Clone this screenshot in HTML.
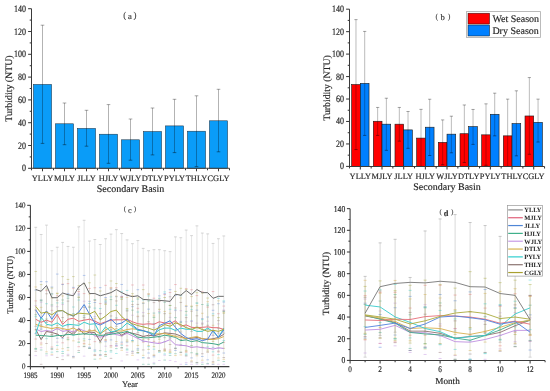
<!DOCTYPE html>
<html><head><meta charset="utf-8"><style>
html,body{margin:0;padding:0;background:#fff;width:550px;height:391px;overflow:hidden}
svg{display:block;font-family:"Liberation Serif", serif;filter:blur(0.3px)}
text{stroke:#2e2e2e;stroke-width:0.16px;text-rendering:geometricPrecision}
</style></head><body>
<svg width="550" height="391" viewBox="0 0 550 391" font-family='"Liberation Serif", serif'>
<rect width="550" height="391" fill="#fff"/>
<rect x="33.4" y="84.4" width="18.2" height="83.9" fill="#0a9cf8" stroke="#1e2a36" stroke-width="0.5"/>
<rect x="55.4" y="123.8" width="18.2" height="44.5" fill="#0a9cf8" stroke="#1e2a36" stroke-width="0.5"/>
<rect x="77.4" y="128.4" width="18.2" height="39.9" fill="#0a9cf8" stroke="#1e2a36" stroke-width="0.5"/>
<rect x="99.4" y="134.2" width="18.2" height="34.1" fill="#0a9cf8" stroke="#1e2a36" stroke-width="0.5"/>
<rect x="121.4" y="139.8" width="18.2" height="28.5" fill="#0a9cf8" stroke="#1e2a36" stroke-width="0.5"/>
<rect x="143.4" y="131.5" width="18.2" height="36.8" fill="#0a9cf8" stroke="#1e2a36" stroke-width="0.5"/>
<rect x="165.4" y="125.9" width="18.2" height="42.4" fill="#0a9cf8" stroke="#1e2a36" stroke-width="0.5"/>
<rect x="187.4" y="131.2" width="18.2" height="37.1" fill="#0a9cf8" stroke="#1e2a36" stroke-width="0.5"/>
<rect x="209.4" y="120.8" width="18.2" height="47.5" fill="#0a9cf8" stroke="#1e2a36" stroke-width="0.5"/>
<line x1="42.5" y1="25.2" x2="42.5" y2="143.4" stroke="#000" stroke-width="0.6" stroke-opacity="0.5"/>
<line x1="40.7" y1="25.2" x2="44.3" y2="25.2" stroke="#000" stroke-width="0.7" stroke-opacity="0.5"/>
<line x1="40.7" y1="143.4" x2="44.3" y2="143.4" stroke="#000" stroke-width="0.7" stroke-opacity="0.6"/>
<line x1="64.5" y1="103" x2="64.5" y2="144.7" stroke="#000" stroke-width="0.6" stroke-opacity="0.5"/>
<line x1="62.7" y1="103" x2="66.3" y2="103" stroke="#000" stroke-width="0.7" stroke-opacity="0.5"/>
<line x1="62.7" y1="144.7" x2="66.3" y2="144.7" stroke="#000" stroke-width="0.7" stroke-opacity="0.6"/>
<line x1="86.5" y1="110.3" x2="86.5" y2="146.2" stroke="#000" stroke-width="0.6" stroke-opacity="0.5"/>
<line x1="84.7" y1="110.3" x2="88.3" y2="110.3" stroke="#000" stroke-width="0.7" stroke-opacity="0.5"/>
<line x1="84.7" y1="146.2" x2="88.3" y2="146.2" stroke="#000" stroke-width="0.7" stroke-opacity="0.6"/>
<line x1="108.5" y1="104.6" x2="108.5" y2="163.3" stroke="#000" stroke-width="0.6" stroke-opacity="0.5"/>
<line x1="106.7" y1="104.6" x2="110.3" y2="104.6" stroke="#000" stroke-width="0.7" stroke-opacity="0.5"/>
<line x1="106.7" y1="163.3" x2="110.3" y2="163.3" stroke="#000" stroke-width="0.7" stroke-opacity="0.6"/>
<line x1="130.5" y1="119" x2="130.5" y2="160.2" stroke="#000" stroke-width="0.6" stroke-opacity="0.5"/>
<line x1="128.7" y1="119" x2="132.3" y2="119" stroke="#000" stroke-width="0.7" stroke-opacity="0.5"/>
<line x1="128.7" y1="160.2" x2="132.3" y2="160.2" stroke="#000" stroke-width="0.7" stroke-opacity="0.6"/>
<line x1="152.5" y1="108" x2="152.5" y2="154.9" stroke="#000" stroke-width="0.6" stroke-opacity="0.5"/>
<line x1="150.7" y1="108" x2="154.3" y2="108" stroke="#000" stroke-width="0.7" stroke-opacity="0.5"/>
<line x1="150.7" y1="154.9" x2="154.3" y2="154.9" stroke="#000" stroke-width="0.7" stroke-opacity="0.6"/>
<line x1="174.5" y1="99.3" x2="174.5" y2="152.6" stroke="#000" stroke-width="0.6" stroke-opacity="0.5"/>
<line x1="172.7" y1="99.3" x2="176.3" y2="99.3" stroke="#000" stroke-width="0.7" stroke-opacity="0.5"/>
<line x1="172.7" y1="152.6" x2="176.3" y2="152.6" stroke="#000" stroke-width="0.7" stroke-opacity="0.6"/>
<line x1="196.5" y1="95.8" x2="196.5" y2="166.6" stroke="#000" stroke-width="0.6" stroke-opacity="0.5"/>
<line x1="194.7" y1="95.8" x2="198.3" y2="95.8" stroke="#000" stroke-width="0.7" stroke-opacity="0.5"/>
<line x1="194.7" y1="166.6" x2="198.3" y2="166.6" stroke="#000" stroke-width="0.7" stroke-opacity="0.6"/>
<line x1="218.5" y1="89.3" x2="218.5" y2="151.8" stroke="#000" stroke-width="0.6" stroke-opacity="0.5"/>
<line x1="216.7" y1="89.3" x2="220.3" y2="89.3" stroke="#000" stroke-width="0.7" stroke-opacity="0.5"/>
<line x1="216.7" y1="151.8" x2="220.3" y2="151.8" stroke="#000" stroke-width="0.7" stroke-opacity="0.6"/>
<line x1="31.5" y1="168.8" x2="31.5" y2="8.7" stroke="#3a3a3a" stroke-width="1.05" />
<line x1="28.1" y1="168.3" x2="31.5" y2="168.3" stroke="#3a3a3a" stroke-width="1.05" />
<text transform="translate(25.9,171.3) scale(1,1.22)" font-size="8" text-anchor="end" fill="#222">0</text>
<line x1="29.7" y1="156.9" x2="31.5" y2="156.9" stroke="#3a3a3a" stroke-width="1.05" />
<line x1="28.1" y1="145.5" x2="31.5" y2="145.5" stroke="#3a3a3a" stroke-width="1.05" />
<text transform="translate(25.9,148.5) scale(1,1.22)" font-size="8" text-anchor="end" fill="#222">20</text>
<line x1="29.7" y1="134.1" x2="31.5" y2="134.1" stroke="#3a3a3a" stroke-width="1.05" />
<line x1="28.1" y1="122.7" x2="31.5" y2="122.7" stroke="#3a3a3a" stroke-width="1.05" />
<text transform="translate(25.9,125.7) scale(1,1.22)" font-size="8" text-anchor="end" fill="#222">40</text>
<line x1="29.7" y1="111.3" x2="31.5" y2="111.3" stroke="#3a3a3a" stroke-width="1.05" />
<line x1="28.1" y1="99.9" x2="31.5" y2="99.9" stroke="#3a3a3a" stroke-width="1.05" />
<text transform="translate(25.9,102.9) scale(1,1.22)" font-size="8" text-anchor="end" fill="#222">60</text>
<line x1="29.7" y1="88.5" x2="31.5" y2="88.5" stroke="#3a3a3a" stroke-width="1.05" />
<line x1="28.1" y1="77.1" x2="31.5" y2="77.1" stroke="#3a3a3a" stroke-width="1.05" />
<text transform="translate(25.9,80.1) scale(1,1.22)" font-size="8" text-anchor="end" fill="#222">80</text>
<line x1="29.7" y1="65.7" x2="31.5" y2="65.7" stroke="#3a3a3a" stroke-width="1.05" />
<line x1="28.1" y1="54.3" x2="31.5" y2="54.3" stroke="#3a3a3a" stroke-width="1.05" />
<text transform="translate(25.9,57.3) scale(1,1.22)" font-size="8" text-anchor="end" fill="#222">100</text>
<line x1="29.7" y1="42.9" x2="31.5" y2="42.9" stroke="#3a3a3a" stroke-width="1.05" />
<line x1="28.1" y1="31.5" x2="31.5" y2="31.5" stroke="#3a3a3a" stroke-width="1.05" />
<text transform="translate(25.9,34.5) scale(1,1.22)" font-size="8" text-anchor="end" fill="#222">120</text>
<line x1="29.7" y1="20.1" x2="31.5" y2="20.1" stroke="#3a3a3a" stroke-width="1.05" />
<line x1="28.1" y1="8.7" x2="31.5" y2="8.7" stroke="#3a3a3a" stroke-width="1.05" />
<text transform="translate(25.9,11.7) scale(1,1.22)" font-size="8" text-anchor="end" fill="#222">140</text>
<line x1="31" y1="168.3" x2="229.5" y2="168.3" stroke="#3a3a3a" stroke-width="1.05" />
<line x1="31.5" y1="168.3" x2="31.5" y2="170.3" stroke="#3a3a3a" stroke-width="1.05" />
<line x1="53.5" y1="168.3" x2="53.5" y2="170.3" stroke="#3a3a3a" stroke-width="1.05" />
<line x1="75.5" y1="168.3" x2="75.5" y2="170.3" stroke="#3a3a3a" stroke-width="1.05" />
<line x1="97.5" y1="168.3" x2="97.5" y2="170.3" stroke="#3a3a3a" stroke-width="1.05" />
<line x1="119.5" y1="168.3" x2="119.5" y2="170.3" stroke="#3a3a3a" stroke-width="1.05" />
<line x1="141.5" y1="168.3" x2="141.5" y2="170.3" stroke="#3a3a3a" stroke-width="1.05" />
<line x1="163.5" y1="168.3" x2="163.5" y2="170.3" stroke="#3a3a3a" stroke-width="1.05" />
<line x1="185.5" y1="168.3" x2="185.5" y2="170.3" stroke="#3a3a3a" stroke-width="1.05" />
<line x1="207.5" y1="168.3" x2="207.5" y2="170.3" stroke="#3a3a3a" stroke-width="1.05" />
<line x1="229.5" y1="168.3" x2="229.5" y2="170.3" stroke="#3a3a3a" stroke-width="1.05" />
<line x1="42.5" y1="168.3" x2="42.5" y2="171.3" stroke="#3a3a3a" stroke-width="1.05" />
<text x="42.5" y="180.6" font-size="8.4" text-anchor="middle" fill="#222" >YLLY</text>
<line x1="64.5" y1="168.3" x2="64.5" y2="171.3" stroke="#3a3a3a" stroke-width="1.05" />
<text x="64.5" y="180.6" font-size="8.4" text-anchor="middle" fill="#222" >MJLY</text>
<line x1="86.5" y1="168.3" x2="86.5" y2="171.3" stroke="#3a3a3a" stroke-width="1.05" />
<text x="86.5" y="180.6" font-size="8.4" text-anchor="middle" fill="#222" >JLLY</text>
<line x1="108.5" y1="168.3" x2="108.5" y2="171.3" stroke="#3a3a3a" stroke-width="1.05" />
<text x="108.5" y="180.6" font-size="8.4" text-anchor="middle" fill="#222" >HJLY</text>
<line x1="130.5" y1="168.3" x2="130.5" y2="171.3" stroke="#3a3a3a" stroke-width="1.05" />
<text x="130.5" y="180.6" font-size="8.4" text-anchor="middle" fill="#222" >WJLY</text>
<line x1="152.5" y1="168.3" x2="152.5" y2="171.3" stroke="#3a3a3a" stroke-width="1.05" />
<text x="152.5" y="180.6" font-size="8.4" text-anchor="middle" fill="#222" >DTLY</text>
<line x1="174.5" y1="168.3" x2="174.5" y2="171.3" stroke="#3a3a3a" stroke-width="1.05" />
<text x="174.5" y="180.6" font-size="8.4" text-anchor="middle" fill="#222" >PYLY</text>
<line x1="196.5" y1="168.3" x2="196.5" y2="171.3" stroke="#3a3a3a" stroke-width="1.05" />
<text x="196.5" y="180.6" font-size="8.4" text-anchor="middle" fill="#222" >THLY</text>
<line x1="218.5" y1="168.3" x2="218.5" y2="171.3" stroke="#3a3a3a" stroke-width="1.05" />
<text x="218.5" y="180.6" font-size="8.4" text-anchor="middle" fill="#222" >CGLY</text>
<text x="130.5" y="192.4" font-size="10" text-anchor="middle" fill="#222" >Secondary Basin</text>
<text transform="translate(11.9,88.5) rotate(-90)" font-size="9.9" text-anchor="middle" fill="#222">Turbidity (NTU)</text>
<text x="123.24" y="17.56" font-size="8.92" text-anchor="start" fill="#444" style="stroke-width:0.1px">(</text>
<text x="136.46" y="17.56" font-size="8.92" text-anchor="end" fill="#444" style="stroke-width:0.1px">)</text>
<text x="129.9" y="18.7" font-size="8.6" text-anchor="middle" fill="#333">a</text>
<rect x="0" y="192.9" width="275" height="3" fill="#fff"/>
<rect x="351.63" y="84.53" width="8.7" height="81.87" fill="#ff0000" stroke="#1a1a1a" stroke-width="0.6"/>
<rect x="360.33" y="83.41" width="8.7" height="82.99" fill="#0080ff" stroke="#1a1a1a" stroke-width="0.6"/>
<rect x="373.31" y="121.26" width="8.7" height="45.14" fill="#ff0000" stroke="#1a1a1a" stroke-width="0.6"/>
<rect x="382" y="124.18" width="8.7" height="42.22" fill="#0080ff" stroke="#1a1a1a" stroke-width="0.6"/>
<rect x="394.98" y="124.18" width="8.7" height="42.22" fill="#ff0000" stroke="#1a1a1a" stroke-width="0.6"/>
<rect x="403.68" y="129.9" width="8.7" height="36.5" fill="#0080ff" stroke="#1a1a1a" stroke-width="0.6"/>
<rect x="416.65" y="138.1" width="8.7" height="28.3" fill="#ff0000" stroke="#1a1a1a" stroke-width="0.6"/>
<rect x="425.35" y="127.21" width="8.7" height="39.19" fill="#0080ff" stroke="#1a1a1a" stroke-width="0.6"/>
<rect x="438.31" y="142.37" width="8.7" height="24.03" fill="#ff0000" stroke="#1a1a1a" stroke-width="0.6"/>
<rect x="447.01" y="134.17" width="8.7" height="32.23" fill="#0080ff" stroke="#1a1a1a" stroke-width="0.6"/>
<rect x="459.99" y="133.72" width="8.7" height="32.68" fill="#ff0000" stroke="#1a1a1a" stroke-width="0.6"/>
<rect x="468.69" y="126.65" width="8.7" height="39.75" fill="#0080ff" stroke="#1a1a1a" stroke-width="0.6"/>
<rect x="481.66" y="134.84" width="8.7" height="31.56" fill="#ff0000" stroke="#1a1a1a" stroke-width="0.6"/>
<rect x="490.36" y="114.29" width="8.7" height="52.11" fill="#0080ff" stroke="#1a1a1a" stroke-width="0.6"/>
<rect x="503.32" y="135.85" width="8.7" height="30.55" fill="#ff0000" stroke="#1a1a1a" stroke-width="0.6"/>
<rect x="512.02" y="123.61" width="8.7" height="42.79" fill="#0080ff" stroke="#1a1a1a" stroke-width="0.6"/>
<rect x="525" y="115.98" width="8.7" height="50.42" fill="#ff0000" stroke="#1a1a1a" stroke-width="0.6"/>
<rect x="533.7" y="122.38" width="8.7" height="44.02" fill="#0080ff" stroke="#1a1a1a" stroke-width="0.6"/>
<line x1="355.98" y1="19.62" x2="355.98" y2="149.56" stroke="#000" stroke-width="0.6" stroke-opacity="0.45"/>
<line x1="354.38" y1="19.62" x2="357.58" y2="19.62" stroke="#000" stroke-width="0.7" stroke-opacity="0.5"/>
<line x1="354.38" y1="149.56" x2="357.58" y2="149.56" stroke="#000" stroke-width="0.7" stroke-opacity="0.6"/>
<line x1="364.69" y1="31.42" x2="364.69" y2="135.41" stroke="#000" stroke-width="0.6" stroke-opacity="0.45"/>
<line x1="363.08" y1="31.42" x2="366.29" y2="31.42" stroke="#000" stroke-width="0.7" stroke-opacity="0.5"/>
<line x1="363.08" y1="135.41" x2="366.29" y2="135.41" stroke="#000" stroke-width="0.7" stroke-opacity="0.6"/>
<line x1="377.65" y1="107.44" x2="377.65" y2="135.41" stroke="#000" stroke-width="0.6" stroke-opacity="0.45"/>
<line x1="376.05" y1="107.44" x2="379.25" y2="107.44" stroke="#000" stroke-width="0.7" stroke-opacity="0.5"/>
<line x1="376.05" y1="135.41" x2="379.25" y2="135.41" stroke="#000" stroke-width="0.7" stroke-opacity="0.6"/>
<line x1="386.36" y1="98.23" x2="386.36" y2="150.34" stroke="#000" stroke-width="0.6" stroke-opacity="0.45"/>
<line x1="384.75" y1="98.23" x2="387.96" y2="98.23" stroke="#000" stroke-width="0.7" stroke-opacity="0.5"/>
<line x1="384.75" y1="150.34" x2="387.96" y2="150.34" stroke="#000" stroke-width="0.7" stroke-opacity="0.6"/>
<line x1="399.32" y1="107.44" x2="399.32" y2="141.13" stroke="#000" stroke-width="0.6" stroke-opacity="0.45"/>
<line x1="397.72" y1="107.44" x2="400.93" y2="107.44" stroke="#000" stroke-width="0.7" stroke-opacity="0.5"/>
<line x1="397.72" y1="141.13" x2="400.93" y2="141.13" stroke="#000" stroke-width="0.7" stroke-opacity="0.6"/>
<line x1="408.03" y1="111.49" x2="408.03" y2="148.32" stroke="#000" stroke-width="0.6" stroke-opacity="0.45"/>
<line x1="406.43" y1="111.49" x2="409.63" y2="111.49" stroke="#000" stroke-width="0.7" stroke-opacity="0.5"/>
<line x1="406.43" y1="148.32" x2="409.63" y2="148.32" stroke="#000" stroke-width="0.7" stroke-opacity="0.6"/>
<line x1="421" y1="109.35" x2="421" y2="166.4" stroke="#000" stroke-width="0.6" stroke-opacity="0.45"/>
<line x1="419.39" y1="109.35" x2="422.6" y2="109.35" stroke="#000" stroke-width="0.7" stroke-opacity="0.5"/>
<line x1="419.39" y1="166.4" x2="422.6" y2="166.4" stroke="#000" stroke-width="0.7" stroke-opacity="0.6"/>
<line x1="429.7" y1="99.24" x2="429.7" y2="155.51" stroke="#000" stroke-width="0.6" stroke-opacity="0.45"/>
<line x1="428.1" y1="99.24" x2="431.3" y2="99.24" stroke="#000" stroke-width="0.7" stroke-opacity="0.5"/>
<line x1="428.1" y1="155.51" x2="431.3" y2="155.51" stroke="#000" stroke-width="0.7" stroke-opacity="0.6"/>
<line x1="442.66" y1="119.91" x2="442.66" y2="164.72" stroke="#000" stroke-width="0.6" stroke-opacity="0.45"/>
<line x1="441.06" y1="119.91" x2="444.26" y2="119.91" stroke="#000" stroke-width="0.7" stroke-opacity="0.5"/>
<line x1="441.06" y1="164.72" x2="444.26" y2="164.72" stroke="#000" stroke-width="0.7" stroke-opacity="0.6"/>
<line x1="451.37" y1="116.2" x2="451.37" y2="152.81" stroke="#000" stroke-width="0.6" stroke-opacity="0.45"/>
<line x1="449.76" y1="116.2" x2="452.97" y2="116.2" stroke="#000" stroke-width="0.7" stroke-opacity="0.5"/>
<line x1="449.76" y1="152.81" x2="452.97" y2="152.81" stroke="#000" stroke-width="0.7" stroke-opacity="0.6"/>
<line x1="464.33" y1="104.97" x2="464.33" y2="162.47" stroke="#000" stroke-width="0.6" stroke-opacity="0.45"/>
<line x1="462.73" y1="104.97" x2="465.94" y2="104.97" stroke="#000" stroke-width="0.7" stroke-opacity="0.5"/>
<line x1="462.73" y1="162.47" x2="465.94" y2="162.47" stroke="#000" stroke-width="0.7" stroke-opacity="0.6"/>
<line x1="473.04" y1="109.46" x2="473.04" y2="144.39" stroke="#000" stroke-width="0.6" stroke-opacity="0.45"/>
<line x1="471.44" y1="109.46" x2="474.64" y2="109.46" stroke="#000" stroke-width="0.7" stroke-opacity="0.5"/>
<line x1="471.44" y1="144.39" x2="474.64" y2="144.39" stroke="#000" stroke-width="0.7" stroke-opacity="0.6"/>
<line x1="486" y1="103.85" x2="486" y2="165.28" stroke="#000" stroke-width="0.6" stroke-opacity="0.45"/>
<line x1="484.4" y1="103.85" x2="487.61" y2="103.85" stroke="#000" stroke-width="0.7" stroke-opacity="0.5"/>
<line x1="484.4" y1="165.28" x2="487.61" y2="165.28" stroke="#000" stroke-width="0.7" stroke-opacity="0.6"/>
<line x1="494.71" y1="93.18" x2="494.71" y2="135.85" stroke="#000" stroke-width="0.6" stroke-opacity="0.45"/>
<line x1="493.11" y1="93.18" x2="496.31" y2="93.18" stroke="#000" stroke-width="0.7" stroke-opacity="0.5"/>
<line x1="493.11" y1="135.85" x2="496.31" y2="135.85" stroke="#000" stroke-width="0.7" stroke-opacity="0.6"/>
<line x1="507.67" y1="99.13" x2="507.67" y2="166.4" stroke="#000" stroke-width="0.6" stroke-opacity="0.45"/>
<line x1="506.07" y1="99.13" x2="509.27" y2="99.13" stroke="#000" stroke-width="0.7" stroke-opacity="0.5"/>
<line x1="506.07" y1="166.4" x2="509.27" y2="166.4" stroke="#000" stroke-width="0.7" stroke-opacity="0.6"/>
<line x1="516.38" y1="90.82" x2="516.38" y2="155.84" stroke="#000" stroke-width="0.6" stroke-opacity="0.45"/>
<line x1="514.77" y1="90.82" x2="517.98" y2="90.82" stroke="#000" stroke-width="0.7" stroke-opacity="0.5"/>
<line x1="514.77" y1="155.84" x2="517.98" y2="155.84" stroke="#000" stroke-width="0.7" stroke-opacity="0.6"/>
<line x1="529.35" y1="77.57" x2="529.35" y2="154.27" stroke="#000" stroke-width="0.6" stroke-opacity="0.45"/>
<line x1="527.75" y1="77.57" x2="530.95" y2="77.57" stroke="#000" stroke-width="0.7" stroke-opacity="0.5"/>
<line x1="527.75" y1="154.27" x2="530.95" y2="154.27" stroke="#000" stroke-width="0.7" stroke-opacity="0.6"/>
<line x1="538.05" y1="99.13" x2="538.05" y2="142.03" stroke="#000" stroke-width="0.6" stroke-opacity="0.45"/>
<line x1="536.45" y1="99.13" x2="539.65" y2="99.13" stroke="#000" stroke-width="0.7" stroke-opacity="0.5"/>
<line x1="536.45" y1="142.03" x2="539.65" y2="142.03" stroke="#000" stroke-width="0.7" stroke-opacity="0.6"/>
<line x1="349.5" y1="166.9" x2="349.5" y2="9.18" stroke="#3a3a3a" stroke-width="1.05" />
<line x1="346.1" y1="166.4" x2="349.5" y2="166.4" stroke="#3a3a3a" stroke-width="1.05" />
<text transform="translate(343.9,169.4) scale(1,1.22)" font-size="8" text-anchor="end" fill="#222">0</text>
<line x1="347.7" y1="155.17" x2="349.5" y2="155.17" stroke="#3a3a3a" stroke-width="1.05" />
<line x1="346.1" y1="143.94" x2="349.5" y2="143.94" stroke="#3a3a3a" stroke-width="1.05" />
<text transform="translate(343.9,146.94) scale(1,1.22)" font-size="8" text-anchor="end" fill="#222">20</text>
<line x1="347.7" y1="132.71" x2="349.5" y2="132.71" stroke="#3a3a3a" stroke-width="1.05" />
<line x1="346.1" y1="121.48" x2="349.5" y2="121.48" stroke="#3a3a3a" stroke-width="1.05" />
<text transform="translate(343.9,124.48) scale(1,1.22)" font-size="8" text-anchor="end" fill="#222">40</text>
<line x1="347.7" y1="110.25" x2="349.5" y2="110.25" stroke="#3a3a3a" stroke-width="1.05" />
<line x1="346.1" y1="99.02" x2="349.5" y2="99.02" stroke="#3a3a3a" stroke-width="1.05" />
<text transform="translate(343.9,102.02) scale(1,1.22)" font-size="8" text-anchor="end" fill="#222">60</text>
<line x1="347.7" y1="87.79" x2="349.5" y2="87.79" stroke="#3a3a3a" stroke-width="1.05" />
<line x1="346.1" y1="76.56" x2="349.5" y2="76.56" stroke="#3a3a3a" stroke-width="1.05" />
<text transform="translate(343.9,79.56) scale(1,1.22)" font-size="8" text-anchor="end" fill="#222">80</text>
<line x1="347.7" y1="65.33" x2="349.5" y2="65.33" stroke="#3a3a3a" stroke-width="1.05" />
<line x1="346.1" y1="54.1" x2="349.5" y2="54.1" stroke="#3a3a3a" stroke-width="1.05" />
<text transform="translate(343.9,57.1) scale(1,1.22)" font-size="8" text-anchor="end" fill="#222">100</text>
<line x1="347.7" y1="42.87" x2="349.5" y2="42.87" stroke="#3a3a3a" stroke-width="1.05" />
<line x1="346.1" y1="31.64" x2="349.5" y2="31.64" stroke="#3a3a3a" stroke-width="1.05" />
<text transform="translate(343.9,34.64) scale(1,1.22)" font-size="8" text-anchor="end" fill="#222">120</text>
<line x1="347.7" y1="20.41" x2="349.5" y2="20.41" stroke="#3a3a3a" stroke-width="1.05" />
<line x1="346.1" y1="9.18" x2="349.5" y2="9.18" stroke="#3a3a3a" stroke-width="1.05" />
<text transform="translate(343.9,12.18) scale(1,1.22)" font-size="8" text-anchor="end" fill="#222">140</text>
<line x1="349" y1="166.4" x2="544.53" y2="166.4" stroke="#3a3a3a" stroke-width="1.05" />
<line x1="349.5" y1="166.4" x2="349.5" y2="168.4" stroke="#3a3a3a" stroke-width="1.05" />
<line x1="371.17" y1="166.4" x2="371.17" y2="168.4" stroke="#3a3a3a" stroke-width="1.05" />
<line x1="392.84" y1="166.4" x2="392.84" y2="168.4" stroke="#3a3a3a" stroke-width="1.05" />
<line x1="414.51" y1="166.4" x2="414.51" y2="168.4" stroke="#3a3a3a" stroke-width="1.05" />
<line x1="436.18" y1="166.4" x2="436.18" y2="168.4" stroke="#3a3a3a" stroke-width="1.05" />
<line x1="457.85" y1="166.4" x2="457.85" y2="168.4" stroke="#3a3a3a" stroke-width="1.05" />
<line x1="479.52" y1="166.4" x2="479.52" y2="168.4" stroke="#3a3a3a" stroke-width="1.05" />
<line x1="501.19" y1="166.4" x2="501.19" y2="168.4" stroke="#3a3a3a" stroke-width="1.05" />
<line x1="522.86" y1="166.4" x2="522.86" y2="168.4" stroke="#3a3a3a" stroke-width="1.05" />
<line x1="544.53" y1="166.4" x2="544.53" y2="168.4" stroke="#3a3a3a" stroke-width="1.05" />
<line x1="360.33" y1="166.4" x2="360.33" y2="169.4" stroke="#3a3a3a" stroke-width="1.05" />
<text x="360.33" y="179.2" font-size="8.4" text-anchor="middle" fill="#222" >YLLY</text>
<line x1="382" y1="166.4" x2="382" y2="169.4" stroke="#3a3a3a" stroke-width="1.05" />
<text x="382" y="179.2" font-size="8.4" text-anchor="middle" fill="#222" >MJLY</text>
<line x1="403.68" y1="166.4" x2="403.68" y2="169.4" stroke="#3a3a3a" stroke-width="1.05" />
<text x="403.68" y="179.2" font-size="8.4" text-anchor="middle" fill="#222" >JLLY</text>
<line x1="425.35" y1="166.4" x2="425.35" y2="169.4" stroke="#3a3a3a" stroke-width="1.05" />
<text x="425.35" y="179.2" font-size="8.4" text-anchor="middle" fill="#222" >HJLY</text>
<line x1="447.01" y1="166.4" x2="447.01" y2="169.4" stroke="#3a3a3a" stroke-width="1.05" />
<text x="447.01" y="179.2" font-size="8.4" text-anchor="middle" fill="#222" >WJLY</text>
<line x1="468.69" y1="166.4" x2="468.69" y2="169.4" stroke="#3a3a3a" stroke-width="1.05" />
<text x="468.69" y="179.2" font-size="8.4" text-anchor="middle" fill="#222" >DTLY</text>
<line x1="490.36" y1="166.4" x2="490.36" y2="169.4" stroke="#3a3a3a" stroke-width="1.05" />
<text x="490.36" y="179.2" font-size="8.4" text-anchor="middle" fill="#222" >PYLY</text>
<line x1="512.02" y1="166.4" x2="512.02" y2="169.4" stroke="#3a3a3a" stroke-width="1.05" />
<text x="512.02" y="179.2" font-size="8.4" text-anchor="middle" fill="#222" >THLY</text>
<line x1="533.7" y1="166.4" x2="533.7" y2="169.4" stroke="#3a3a3a" stroke-width="1.05" />
<text x="533.7" y="179.2" font-size="8.4" text-anchor="middle" fill="#222" >CGLY</text>
<text x="447.01" y="189.6" font-size="10" text-anchor="middle" fill="#222" >Secondary Basin</text>
<text transform="translate(330.0,87.9) rotate(-90)" font-size="9.75" text-anchor="middle" fill="#222">Turbidity (NTU)</text>
<text x="435.58" y="18.79" font-size="7.96" text-anchor="start" fill="#444" style="stroke-width:0.1px">(</text>
<text x="450.32" y="18.79" font-size="7.96" text-anchor="end" fill="#444" style="stroke-width:0.1px">)</text>
<text x="442.75" y="19.9" font-size="8.6" text-anchor="middle" fill="#333">b</text>
<rect x="466.4" y="11.6" width="74" height="25.8" fill="#fff" stroke="#aaa" stroke-width="0.8"/>
<rect x="468" y="13.2" width="21.6" height="10.8" fill="#ff0000" stroke="#1a1a1a" stroke-width="0.5"/>
<rect x="468" y="25" width="21.6" height="11" fill="#0080ff" stroke="#1a1a1a" stroke-width="0.5"/>
<text x="492.4" y="22.2" font-size="10" text-anchor="start" fill="#222" >Wet Season</text>
<text x="492.4" y="33.8" font-size="10" text-anchor="start" fill="#222" >Dry Season</text>
<line x1="35.77" y1="227.32" x2="35.77" y2="326.4" stroke="#dedede" stroke-width="0.75" />
<line x1="34.37" y1="227.32" x2="37.17" y2="227.32" stroke="#c4c4c4" stroke-width="0.7" />
<line x1="34.37" y1="326.4" x2="37.17" y2="326.4" stroke="#c4c4c4" stroke-width="0.7" />
<line x1="41.14" y1="234.47" x2="41.14" y2="328.12" stroke="#dedede" stroke-width="0.75" />
<line x1="39.74" y1="234.47" x2="42.54" y2="234.47" stroke="#c4c4c4" stroke-width="0.7" />
<line x1="39.74" y1="328.12" x2="42.54" y2="328.12" stroke="#c4c4c4" stroke-width="0.7" />
<line x1="46.52" y1="225.13" x2="46.52" y2="322.36" stroke="#dedede" stroke-width="0.75" />
<line x1="45.12" y1="225.13" x2="47.92" y2="225.13" stroke="#c4c4c4" stroke-width="0.7" />
<line x1="45.12" y1="322.36" x2="47.92" y2="322.36" stroke="#c4c4c4" stroke-width="0.7" />
<line x1="51.89" y1="250.71" x2="51.89" y2="334.57" stroke="#dedede" stroke-width="0.75" />
<line x1="50.49" y1="250.71" x2="53.29" y2="250.71" stroke="#c4c4c4" stroke-width="0.7" />
<line x1="50.49" y1="334.57" x2="53.29" y2="334.57" stroke="#c4c4c4" stroke-width="0.7" />
<line x1="57.26" y1="247.25" x2="57.26" y2="334.57" stroke="#dedede" stroke-width="0.75" />
<line x1="55.86" y1="247.25" x2="58.66" y2="247.25" stroke="#c4c4c4" stroke-width="0.7" />
<line x1="55.86" y1="334.57" x2="58.66" y2="334.57" stroke="#c4c4c4" stroke-width="0.7" />
<line x1="62.63" y1="242.41" x2="62.63" y2="329.85" stroke="#dedede" stroke-width="0.75" />
<line x1="61.23" y1="242.41" x2="64.03" y2="242.41" stroke="#c4c4c4" stroke-width="0.7" />
<line x1="61.23" y1="329.85" x2="64.03" y2="329.85" stroke="#c4c4c4" stroke-width="0.7" />
<line x1="68" y1="246.45" x2="68" y2="331.58" stroke="#dedede" stroke-width="0.75" />
<line x1="66.6" y1="246.45" x2="69.4" y2="246.45" stroke="#c4c4c4" stroke-width="0.7" />
<line x1="66.6" y1="331.58" x2="69.4" y2="331.58" stroke="#c4c4c4" stroke-width="0.7" />
<line x1="73.38" y1="247.25" x2="73.38" y2="332.62" stroke="#dedede" stroke-width="0.75" />
<line x1="71.98" y1="247.25" x2="74.78" y2="247.25" stroke="#c4c4c4" stroke-width="0.7" />
<line x1="71.98" y1="332.62" x2="74.78" y2="332.62" stroke="#c4c4c4" stroke-width="0.7" />
<line x1="78.75" y1="226.86" x2="78.75" y2="323.75" stroke="#dedede" stroke-width="0.75" />
<line x1="77.35" y1="226.86" x2="80.15" y2="226.86" stroke="#c4c4c4" stroke-width="0.7" />
<line x1="77.35" y1="323.75" x2="80.15" y2="323.75" stroke="#c4c4c4" stroke-width="0.7" />
<line x1="84.12" y1="220.3" x2="84.12" y2="319.71" stroke="#dedede" stroke-width="0.75" />
<line x1="82.72" y1="220.3" x2="85.52" y2="220.3" stroke="#c4c4c4" stroke-width="0.7" />
<line x1="82.72" y1="319.71" x2="85.52" y2="319.71" stroke="#c4c4c4" stroke-width="0.7" />
<line x1="89.49" y1="241.03" x2="89.49" y2="330.43" stroke="#dedede" stroke-width="0.75" />
<line x1="88.09" y1="241.03" x2="90.89" y2="241.03" stroke="#c4c4c4" stroke-width="0.7" />
<line x1="88.09" y1="330.43" x2="90.89" y2="330.43" stroke="#c4c4c4" stroke-width="0.7" />
<line x1="94.86" y1="239.53" x2="94.86" y2="330.43" stroke="#dedede" stroke-width="0.75" />
<line x1="93.46" y1="239.53" x2="96.26" y2="239.53" stroke="#c4c4c4" stroke-width="0.7" />
<line x1="93.46" y1="330.43" x2="96.26" y2="330.43" stroke="#c4c4c4" stroke-width="0.7" />
<line x1="100.24" y1="244.49" x2="100.24" y2="332.62" stroke="#dedede" stroke-width="0.75" />
<line x1="98.84" y1="244.49" x2="101.64" y2="244.49" stroke="#c4c4c4" stroke-width="0.7" />
<line x1="98.84" y1="332.62" x2="101.64" y2="332.62" stroke="#c4c4c4" stroke-width="0.7" />
<line x1="105.61" y1="238.73" x2="105.61" y2="331.12" stroke="#dedede" stroke-width="0.75" />
<line x1="104.21" y1="238.73" x2="107.01" y2="238.73" stroke="#c4c4c4" stroke-width="0.7" />
<line x1="104.21" y1="331.12" x2="107.01" y2="331.12" stroke="#c4c4c4" stroke-width="0.7" />
<line x1="110.98" y1="234.12" x2="110.98" y2="329.51" stroke="#dedede" stroke-width="0.75" />
<line x1="109.58" y1="234.12" x2="112.38" y2="234.12" stroke="#c4c4c4" stroke-width="0.7" />
<line x1="109.58" y1="329.51" x2="112.38" y2="329.51" stroke="#c4c4c4" stroke-width="0.7" />
<line x1="116.35" y1="229.63" x2="116.35" y2="326.4" stroke="#dedede" stroke-width="0.75" />
<line x1="114.95" y1="229.63" x2="117.75" y2="229.63" stroke="#c4c4c4" stroke-width="0.7" />
<line x1="114.95" y1="326.4" x2="117.75" y2="326.4" stroke="#c4c4c4" stroke-width="0.7" />
<line x1="121.72" y1="233.54" x2="121.72" y2="329.51" stroke="#dedede" stroke-width="0.75" />
<line x1="120.32" y1="233.54" x2="123.12" y2="233.54" stroke="#c4c4c4" stroke-width="0.7" />
<line x1="120.32" y1="329.51" x2="123.12" y2="329.51" stroke="#c4c4c4" stroke-width="0.7" />
<line x1="127.1" y1="239.88" x2="127.1" y2="332.04" stroke="#dedede" stroke-width="0.75" />
<line x1="125.7" y1="239.88" x2="128.5" y2="239.88" stroke="#c4c4c4" stroke-width="0.7" />
<line x1="125.7" y1="332.04" x2="128.5" y2="332.04" stroke="#c4c4c4" stroke-width="0.7" />
<line x1="132.47" y1="243.68" x2="132.47" y2="333.54" stroke="#dedede" stroke-width="0.75" />
<line x1="131.07" y1="243.68" x2="133.87" y2="243.68" stroke="#c4c4c4" stroke-width="0.7" />
<line x1="131.07" y1="333.54" x2="133.87" y2="333.54" stroke="#c4c4c4" stroke-width="0.7" />
<line x1="137.84" y1="240.57" x2="137.84" y2="332.62" stroke="#dedede" stroke-width="0.75" />
<line x1="136.44" y1="240.57" x2="139.24" y2="240.57" stroke="#c4c4c4" stroke-width="0.7" />
<line x1="136.44" y1="332.62" x2="139.24" y2="332.62" stroke="#c4c4c4" stroke-width="0.7" />
<line x1="143.21" y1="248.4" x2="143.21" y2="336.3" stroke="#dedede" stroke-width="0.75" />
<line x1="141.81" y1="248.4" x2="144.61" y2="248.4" stroke="#c4c4c4" stroke-width="0.7" />
<line x1="141.81" y1="336.3" x2="144.61" y2="336.3" stroke="#c4c4c4" stroke-width="0.7" />
<line x1="148.58" y1="250.71" x2="148.58" y2="336.65" stroke="#dedede" stroke-width="0.75" />
<line x1="147.18" y1="250.71" x2="149.98" y2="250.71" stroke="#c4c4c4" stroke-width="0.7" />
<line x1="147.18" y1="336.65" x2="149.98" y2="336.65" stroke="#c4c4c4" stroke-width="0.7" />
<line x1="153.96" y1="249.67" x2="153.96" y2="337.22" stroke="#dedede" stroke-width="0.75" />
<line x1="152.56" y1="249.67" x2="155.36" y2="249.67" stroke="#c4c4c4" stroke-width="0.7" />
<line x1="152.56" y1="337.22" x2="155.36" y2="337.22" stroke="#c4c4c4" stroke-width="0.7" />
<line x1="159.33" y1="249.67" x2="159.33" y2="337.22" stroke="#dedede" stroke-width="0.75" />
<line x1="157.93" y1="249.67" x2="160.73" y2="249.67" stroke="#c4c4c4" stroke-width="0.7" />
<line x1="157.93" y1="337.22" x2="160.73" y2="337.22" stroke="#c4c4c4" stroke-width="0.7" />
<line x1="164.7" y1="250.71" x2="164.7" y2="337.68" stroke="#dedede" stroke-width="0.75" />
<line x1="163.3" y1="250.71" x2="166.1" y2="250.71" stroke="#c4c4c4" stroke-width="0.7" />
<line x1="163.3" y1="337.68" x2="166.1" y2="337.68" stroke="#c4c4c4" stroke-width="0.7" />
<line x1="170.07" y1="251.63" x2="170.07" y2="338.26" stroke="#dedede" stroke-width="0.75" />
<line x1="168.67" y1="251.63" x2="171.47" y2="251.63" stroke="#c4c4c4" stroke-width="0.7" />
<line x1="168.67" y1="338.26" x2="171.47" y2="338.26" stroke="#c4c4c4" stroke-width="0.7" />
<line x1="175.44" y1="236.88" x2="175.44" y2="331.12" stroke="#dedede" stroke-width="0.75" />
<line x1="174.04" y1="236.88" x2="176.84" y2="236.88" stroke="#c4c4c4" stroke-width="0.7" />
<line x1="174.04" y1="331.12" x2="176.84" y2="331.12" stroke="#c4c4c4" stroke-width="0.7" />
<line x1="180.82" y1="237.69" x2="180.82" y2="332.04" stroke="#dedede" stroke-width="0.75" />
<line x1="179.42" y1="237.69" x2="182.22" y2="237.69" stroke="#c4c4c4" stroke-width="0.7" />
<line x1="179.42" y1="332.04" x2="182.22" y2="332.04" stroke="#c4c4c4" stroke-width="0.7" />
<line x1="186.19" y1="230.09" x2="186.19" y2="327.43" stroke="#dedede" stroke-width="0.75" />
<line x1="184.79" y1="230.09" x2="187.59" y2="230.09" stroke="#c4c4c4" stroke-width="0.7" />
<line x1="184.79" y1="327.43" x2="187.59" y2="327.43" stroke="#c4c4c4" stroke-width="0.7" />
<line x1="191.56" y1="235.62" x2="191.56" y2="331.46" stroke="#dedede" stroke-width="0.75" />
<line x1="190.16" y1="235.62" x2="192.96" y2="235.62" stroke="#c4c4c4" stroke-width="0.7" />
<line x1="190.16" y1="331.46" x2="192.96" y2="331.46" stroke="#c4c4c4" stroke-width="0.7" />
<line x1="196.93" y1="225.83" x2="196.93" y2="326.4" stroke="#dedede" stroke-width="0.75" />
<line x1="195.53" y1="225.83" x2="198.33" y2="225.83" stroke="#c4c4c4" stroke-width="0.7" />
<line x1="195.53" y1="326.4" x2="198.33" y2="326.4" stroke="#c4c4c4" stroke-width="0.7" />
<line x1="202.3" y1="233.08" x2="202.3" y2="329.51" stroke="#dedede" stroke-width="0.75" />
<line x1="200.9" y1="233.08" x2="203.7" y2="233.08" stroke="#c4c4c4" stroke-width="0.7" />
<line x1="200.9" y1="329.51" x2="203.7" y2="329.51" stroke="#c4c4c4" stroke-width="0.7" />
<line x1="207.68" y1="233.89" x2="207.68" y2="329.51" stroke="#dedede" stroke-width="0.75" />
<line x1="206.28" y1="233.89" x2="209.08" y2="233.89" stroke="#c4c4c4" stroke-width="0.7" />
<line x1="206.28" y1="329.51" x2="209.08" y2="329.51" stroke="#c4c4c4" stroke-width="0.7" />
<line x1="213.05" y1="243.45" x2="213.05" y2="335.15" stroke="#dedede" stroke-width="0.75" />
<line x1="211.65" y1="243.45" x2="214.45" y2="243.45" stroke="#c4c4c4" stroke-width="0.7" />
<line x1="211.65" y1="335.15" x2="214.45" y2="335.15" stroke="#c4c4c4" stroke-width="0.7" />
<line x1="218.42" y1="238.73" x2="218.42" y2="333.19" stroke="#dedede" stroke-width="0.75" />
<line x1="217.02" y1="238.73" x2="219.82" y2="238.73" stroke="#c4c4c4" stroke-width="0.7" />
<line x1="217.02" y1="333.19" x2="219.82" y2="333.19" stroke="#c4c4c4" stroke-width="0.7" />
<line x1="223.79" y1="235.96" x2="223.79" y2="333.19" stroke="#dedede" stroke-width="0.75" />
<line x1="222.39" y1="235.96" x2="225.19" y2="235.96" stroke="#c4c4c4" stroke-width="0.7" />
<line x1="222.39" y1="333.19" x2="225.19" y2="333.19" stroke="#c4c4c4" stroke-width="0.7" />
<line x1="35.77" y1="300.88" x2="35.77" y2="339.03" stroke="#e66e78" stroke-width="0.6" stroke-opacity="0.07"/>
<line x1="34.47" y1="300.88" x2="37.07" y2="300.88" stroke="#e66e78" stroke-width="0.8" stroke-opacity="0.5"/>
<line x1="34.47" y1="339.03" x2="37.07" y2="339.03" stroke="#e66e78" stroke-width="0.8" stroke-opacity="0.5"/>
<line x1="41.14" y1="300.07" x2="41.14" y2="343.05" stroke="#e66e78" stroke-width="0.6" stroke-opacity="0.07"/>
<line x1="39.84" y1="300.07" x2="42.44" y2="300.07" stroke="#e66e78" stroke-width="0.8" stroke-opacity="0.5"/>
<line x1="39.84" y1="343.05" x2="42.44" y2="343.05" stroke="#e66e78" stroke-width="0.8" stroke-opacity="0.5"/>
<line x1="46.52" y1="290.63" x2="46.52" y2="331.67" stroke="#e66e78" stroke-width="0.6" stroke-opacity="0.07"/>
<line x1="45.22" y1="290.63" x2="47.82" y2="290.63" stroke="#e66e78" stroke-width="0.8" stroke-opacity="0.5"/>
<line x1="45.22" y1="331.67" x2="47.82" y2="331.67" stroke="#e66e78" stroke-width="0.8" stroke-opacity="0.5"/>
<line x1="51.89" y1="310.35" x2="51.89" y2="347.09" stroke="#e66e78" stroke-width="0.6" stroke-opacity="0.07"/>
<line x1="50.59" y1="310.35" x2="53.19" y2="310.35" stroke="#e66e78" stroke-width="0.8" stroke-opacity="0.5"/>
<line x1="50.59" y1="347.09" x2="53.19" y2="347.09" stroke="#e66e78" stroke-width="0.8" stroke-opacity="0.5"/>
<line x1="57.26" y1="295.77" x2="57.26" y2="329.18" stroke="#e66e78" stroke-width="0.6" stroke-opacity="0.07"/>
<line x1="55.96" y1="295.77" x2="58.56" y2="295.77" stroke="#e66e78" stroke-width="0.8" stroke-opacity="0.5"/>
<line x1="55.96" y1="329.18" x2="58.56" y2="329.18" stroke="#e66e78" stroke-width="0.8" stroke-opacity="0.5"/>
<line x1="62.63" y1="284.13" x2="62.63" y2="342.82" stroke="#e66e78" stroke-width="0.6" stroke-opacity="0.07"/>
<line x1="61.33" y1="284.13" x2="63.93" y2="284.13" stroke="#e66e78" stroke-width="0.8" stroke-opacity="0.5"/>
<line x1="61.33" y1="342.82" x2="63.93" y2="342.82" stroke="#e66e78" stroke-width="0.8" stroke-opacity="0.5"/>
<line x1="68" y1="283.64" x2="68" y2="337.85" stroke="#e66e78" stroke-width="0.6" stroke-opacity="0.07"/>
<line x1="66.7" y1="283.64" x2="69.3" y2="283.64" stroke="#e66e78" stroke-width="0.8" stroke-opacity="0.5"/>
<line x1="66.7" y1="337.85" x2="69.3" y2="337.85" stroke="#e66e78" stroke-width="0.8" stroke-opacity="0.5"/>
<line x1="73.38" y1="288.29" x2="73.38" y2="331.19" stroke="#e66e78" stroke-width="0.6" stroke-opacity="0.07"/>
<line x1="72.08" y1="288.29" x2="74.68" y2="288.29" stroke="#e66e78" stroke-width="0.8" stroke-opacity="0.5"/>
<line x1="72.08" y1="331.19" x2="74.68" y2="331.19" stroke="#e66e78" stroke-width="0.8" stroke-opacity="0.5"/>
<line x1="78.75" y1="291.52" x2="78.75" y2="346.69" stroke="#e66e78" stroke-width="0.6" stroke-opacity="0.07"/>
<line x1="77.45" y1="291.52" x2="80.05" y2="291.52" stroke="#e66e78" stroke-width="0.8" stroke-opacity="0.5"/>
<line x1="77.45" y1="346.69" x2="80.05" y2="346.69" stroke="#e66e78" stroke-width="0.8" stroke-opacity="0.5"/>
<line x1="84.12" y1="293.59" x2="84.12" y2="343.35" stroke="#e66e78" stroke-width="0.6" stroke-opacity="0.07"/>
<line x1="82.82" y1="293.59" x2="85.42" y2="293.59" stroke="#e66e78" stroke-width="0.8" stroke-opacity="0.5"/>
<line x1="82.82" y1="343.35" x2="85.42" y2="343.35" stroke="#e66e78" stroke-width="0.8" stroke-opacity="0.5"/>
<line x1="89.49" y1="288.4" x2="89.49" y2="330.73" stroke="#e66e78" stroke-width="0.6" stroke-opacity="0.07"/>
<line x1="88.19" y1="288.4" x2="90.79" y2="288.4" stroke="#e66e78" stroke-width="0.8" stroke-opacity="0.5"/>
<line x1="88.19" y1="330.73" x2="90.79" y2="330.73" stroke="#e66e78" stroke-width="0.8" stroke-opacity="0.5"/>
<line x1="94.86" y1="287.74" x2="94.86" y2="341.68" stroke="#e66e78" stroke-width="0.6" stroke-opacity="0.07"/>
<line x1="93.56" y1="287.74" x2="96.16" y2="287.74" stroke="#e66e78" stroke-width="0.8" stroke-opacity="0.5"/>
<line x1="93.56" y1="341.68" x2="96.16" y2="341.68" stroke="#e66e78" stroke-width="0.8" stroke-opacity="0.5"/>
<line x1="100.24" y1="303.55" x2="100.24" y2="334.65" stroke="#e66e78" stroke-width="0.6" stroke-opacity="0.07"/>
<line x1="98.94" y1="303.55" x2="101.54" y2="303.55" stroke="#e66e78" stroke-width="0.8" stroke-opacity="0.5"/>
<line x1="98.94" y1="334.65" x2="101.54" y2="334.65" stroke="#e66e78" stroke-width="0.8" stroke-opacity="0.5"/>
<line x1="105.61" y1="285.34" x2="105.61" y2="340.32" stroke="#e66e78" stroke-width="0.6" stroke-opacity="0.07"/>
<line x1="104.31" y1="285.34" x2="106.91" y2="285.34" stroke="#e66e78" stroke-width="0.8" stroke-opacity="0.5"/>
<line x1="104.31" y1="340.32" x2="106.91" y2="340.32" stroke="#e66e78" stroke-width="0.8" stroke-opacity="0.5"/>
<line x1="110.98" y1="287.95" x2="110.98" y2="345.73" stroke="#e66e78" stroke-width="0.6" stroke-opacity="0.07"/>
<line x1="109.68" y1="287.95" x2="112.28" y2="287.95" stroke="#e66e78" stroke-width="0.8" stroke-opacity="0.5"/>
<line x1="109.68" y1="345.73" x2="112.28" y2="345.73" stroke="#e66e78" stroke-width="0.8" stroke-opacity="0.5"/>
<line x1="116.35" y1="287.74" x2="116.35" y2="346.11" stroke="#e66e78" stroke-width="0.6" stroke-opacity="0.07"/>
<line x1="115.05" y1="287.74" x2="117.65" y2="287.74" stroke="#e66e78" stroke-width="0.8" stroke-opacity="0.5"/>
<line x1="115.05" y1="346.11" x2="117.65" y2="346.11" stroke="#e66e78" stroke-width="0.8" stroke-opacity="0.5"/>
<line x1="121.72" y1="296.93" x2="121.72" y2="344.04" stroke="#e66e78" stroke-width="0.6" stroke-opacity="0.07"/>
<line x1="120.42" y1="296.93" x2="123.02" y2="296.93" stroke="#e66e78" stroke-width="0.8" stroke-opacity="0.5"/>
<line x1="120.42" y1="344.04" x2="123.02" y2="344.04" stroke="#e66e78" stroke-width="0.8" stroke-opacity="0.5"/>
<line x1="127.1" y1="294.93" x2="127.1" y2="345.79" stroke="#e66e78" stroke-width="0.6" stroke-opacity="0.07"/>
<line x1="125.8" y1="294.93" x2="128.4" y2="294.93" stroke="#e66e78" stroke-width="0.8" stroke-opacity="0.5"/>
<line x1="125.8" y1="345.79" x2="128.4" y2="345.79" stroke="#e66e78" stroke-width="0.8" stroke-opacity="0.5"/>
<line x1="132.47" y1="284.96" x2="132.47" y2="333.84" stroke="#e66e78" stroke-width="0.6" stroke-opacity="0.07"/>
<line x1="131.17" y1="284.96" x2="133.77" y2="284.96" stroke="#e66e78" stroke-width="0.8" stroke-opacity="0.5"/>
<line x1="131.17" y1="333.84" x2="133.77" y2="333.84" stroke="#e66e78" stroke-width="0.8" stroke-opacity="0.5"/>
<line x1="137.84" y1="308.31" x2="137.84" y2="337.86" stroke="#e66e78" stroke-width="0.6" stroke-opacity="0.07"/>
<line x1="136.54" y1="308.31" x2="139.14" y2="308.31" stroke="#e66e78" stroke-width="0.8" stroke-opacity="0.5"/>
<line x1="136.54" y1="337.86" x2="139.14" y2="337.86" stroke="#e66e78" stroke-width="0.8" stroke-opacity="0.5"/>
<line x1="143.21" y1="285" x2="143.21" y2="342.23" stroke="#e66e78" stroke-width="0.6" stroke-opacity="0.07"/>
<line x1="141.91" y1="285" x2="144.51" y2="285" stroke="#e66e78" stroke-width="0.8" stroke-opacity="0.5"/>
<line x1="141.91" y1="342.23" x2="144.51" y2="342.23" stroke="#e66e78" stroke-width="0.8" stroke-opacity="0.5"/>
<line x1="148.58" y1="294.18" x2="148.58" y2="339.32" stroke="#e66e78" stroke-width="0.6" stroke-opacity="0.07"/>
<line x1="147.28" y1="294.18" x2="149.88" y2="294.18" stroke="#e66e78" stroke-width="0.8" stroke-opacity="0.5"/>
<line x1="147.28" y1="339.32" x2="149.88" y2="339.32" stroke="#e66e78" stroke-width="0.8" stroke-opacity="0.5"/>
<line x1="153.96" y1="298.19" x2="153.96" y2="341.36" stroke="#e66e78" stroke-width="0.6" stroke-opacity="0.07"/>
<line x1="152.66" y1="298.19" x2="155.26" y2="298.19" stroke="#e66e78" stroke-width="0.8" stroke-opacity="0.5"/>
<line x1="152.66" y1="341.36" x2="155.26" y2="341.36" stroke="#e66e78" stroke-width="0.8" stroke-opacity="0.5"/>
<line x1="159.33" y1="300.16" x2="159.33" y2="342.27" stroke="#e66e78" stroke-width="0.6" stroke-opacity="0.07"/>
<line x1="158.03" y1="300.16" x2="160.63" y2="300.16" stroke="#e66e78" stroke-width="0.8" stroke-opacity="0.5"/>
<line x1="158.03" y1="342.27" x2="160.63" y2="342.27" stroke="#e66e78" stroke-width="0.8" stroke-opacity="0.5"/>
<line x1="164.7" y1="294.59" x2="164.7" y2="348.93" stroke="#e66e78" stroke-width="0.6" stroke-opacity="0.07"/>
<line x1="163.4" y1="294.59" x2="166" y2="294.59" stroke="#e66e78" stroke-width="0.8" stroke-opacity="0.5"/>
<line x1="163.4" y1="348.93" x2="166" y2="348.93" stroke="#e66e78" stroke-width="0.8" stroke-opacity="0.5"/>
<line x1="170.07" y1="292.47" x2="170.07" y2="350.05" stroke="#e66e78" stroke-width="0.6" stroke-opacity="0.07"/>
<line x1="168.77" y1="292.47" x2="171.37" y2="292.47" stroke="#e66e78" stroke-width="0.8" stroke-opacity="0.5"/>
<line x1="168.77" y1="350.05" x2="171.37" y2="350.05" stroke="#e66e78" stroke-width="0.8" stroke-opacity="0.5"/>
<line x1="175.44" y1="284.57" x2="175.44" y2="348.24" stroke="#e66e78" stroke-width="0.6" stroke-opacity="0.07"/>
<line x1="174.14" y1="284.57" x2="176.74" y2="284.57" stroke="#e66e78" stroke-width="0.8" stroke-opacity="0.5"/>
<line x1="174.14" y1="348.24" x2="176.74" y2="348.24" stroke="#e66e78" stroke-width="0.8" stroke-opacity="0.5"/>
<line x1="180.82" y1="295.43" x2="180.82" y2="339.47" stroke="#e66e78" stroke-width="0.6" stroke-opacity="0.07"/>
<line x1="179.52" y1="295.43" x2="182.12" y2="295.43" stroke="#e66e78" stroke-width="0.8" stroke-opacity="0.5"/>
<line x1="179.52" y1="339.47" x2="182.12" y2="339.47" stroke="#e66e78" stroke-width="0.8" stroke-opacity="0.5"/>
<line x1="186.19" y1="288.59" x2="186.19" y2="351.93" stroke="#e66e78" stroke-width="0.6" stroke-opacity="0.07"/>
<line x1="184.89" y1="288.59" x2="187.49" y2="288.59" stroke="#e66e78" stroke-width="0.8" stroke-opacity="0.5"/>
<line x1="184.89" y1="351.93" x2="187.49" y2="351.93" stroke="#e66e78" stroke-width="0.8" stroke-opacity="0.5"/>
<line x1="191.56" y1="289.74" x2="191.56" y2="347.52" stroke="#e66e78" stroke-width="0.6" stroke-opacity="0.07"/>
<line x1="190.26" y1="289.74" x2="192.86" y2="289.74" stroke="#e66e78" stroke-width="0.8" stroke-opacity="0.5"/>
<line x1="190.26" y1="347.52" x2="192.86" y2="347.52" stroke="#e66e78" stroke-width="0.8" stroke-opacity="0.5"/>
<line x1="196.93" y1="295.58" x2="196.93" y2="341.68" stroke="#e66e78" stroke-width="0.6" stroke-opacity="0.07"/>
<line x1="195.63" y1="295.58" x2="198.23" y2="295.58" stroke="#e66e78" stroke-width="0.8" stroke-opacity="0.5"/>
<line x1="195.63" y1="341.68" x2="198.23" y2="341.68" stroke="#e66e78" stroke-width="0.8" stroke-opacity="0.5"/>
<line x1="202.3" y1="291.85" x2="202.3" y2="347.6" stroke="#e66e78" stroke-width="0.6" stroke-opacity="0.07"/>
<line x1="201" y1="291.85" x2="203.6" y2="291.85" stroke="#e66e78" stroke-width="0.8" stroke-opacity="0.5"/>
<line x1="201" y1="347.6" x2="203.6" y2="347.6" stroke="#e66e78" stroke-width="0.8" stroke-opacity="0.5"/>
<line x1="207.68" y1="307.13" x2="207.68" y2="338.32" stroke="#e66e78" stroke-width="0.6" stroke-opacity="0.07"/>
<line x1="206.38" y1="307.13" x2="208.98" y2="307.13" stroke="#e66e78" stroke-width="0.8" stroke-opacity="0.5"/>
<line x1="206.38" y1="338.32" x2="208.98" y2="338.32" stroke="#e66e78" stroke-width="0.8" stroke-opacity="0.5"/>
<line x1="213.05" y1="291.55" x2="213.05" y2="355.13" stroke="#e66e78" stroke-width="0.6" stroke-opacity="0.07"/>
<line x1="211.75" y1="291.55" x2="214.35" y2="291.55" stroke="#e66e78" stroke-width="0.8" stroke-opacity="0.5"/>
<line x1="211.75" y1="355.13" x2="214.35" y2="355.13" stroke="#e66e78" stroke-width="0.8" stroke-opacity="0.5"/>
<line x1="218.42" y1="313.71" x2="218.42" y2="351.98" stroke="#e66e78" stroke-width="0.6" stroke-opacity="0.07"/>
<line x1="217.12" y1="313.71" x2="219.72" y2="313.71" stroke="#e66e78" stroke-width="0.8" stroke-opacity="0.5"/>
<line x1="217.12" y1="351.98" x2="219.72" y2="351.98" stroke="#e66e78" stroke-width="0.8" stroke-opacity="0.5"/>
<line x1="223.79" y1="306.05" x2="223.79" y2="342.36" stroke="#e66e78" stroke-width="0.6" stroke-opacity="0.07"/>
<line x1="222.49" y1="306.05" x2="225.09" y2="306.05" stroke="#e66e78" stroke-width="0.8" stroke-opacity="0.5"/>
<line x1="222.49" y1="342.36" x2="225.09" y2="342.36" stroke="#e66e78" stroke-width="0.8" stroke-opacity="0.5"/>
<line x1="35.77" y1="290.05" x2="35.77" y2="333.69" stroke="#5082dc" stroke-width="0.6" stroke-opacity="0.07"/>
<line x1="34.47" y1="290.05" x2="37.07" y2="290.05" stroke="#5082dc" stroke-width="0.8" stroke-opacity="0.5"/>
<line x1="34.47" y1="333.69" x2="37.07" y2="333.69" stroke="#5082dc" stroke-width="0.8" stroke-opacity="0.5"/>
<line x1="41.14" y1="281.56" x2="41.14" y2="329.35" stroke="#5082dc" stroke-width="0.6" stroke-opacity="0.07"/>
<line x1="39.84" y1="281.56" x2="42.44" y2="281.56" stroke="#5082dc" stroke-width="0.8" stroke-opacity="0.5"/>
<line x1="39.84" y1="329.35" x2="42.44" y2="329.35" stroke="#5082dc" stroke-width="0.8" stroke-opacity="0.5"/>
<line x1="46.52" y1="281.74" x2="46.52" y2="322.1" stroke="#5082dc" stroke-width="0.6" stroke-opacity="0.07"/>
<line x1="45.22" y1="281.74" x2="47.82" y2="281.74" stroke="#5082dc" stroke-width="0.8" stroke-opacity="0.5"/>
<line x1="45.22" y1="322.1" x2="47.82" y2="322.1" stroke="#5082dc" stroke-width="0.8" stroke-opacity="0.5"/>
<line x1="51.89" y1="287.04" x2="51.89" y2="335.34" stroke="#5082dc" stroke-width="0.6" stroke-opacity="0.07"/>
<line x1="50.59" y1="287.04" x2="53.19" y2="287.04" stroke="#5082dc" stroke-width="0.8" stroke-opacity="0.5"/>
<line x1="50.59" y1="335.34" x2="53.19" y2="335.34" stroke="#5082dc" stroke-width="0.8" stroke-opacity="0.5"/>
<line x1="57.26" y1="274.07" x2="57.26" y2="338.27" stroke="#5082dc" stroke-width="0.6" stroke-opacity="0.07"/>
<line x1="55.96" y1="274.07" x2="58.56" y2="274.07" stroke="#5082dc" stroke-width="0.8" stroke-opacity="0.5"/>
<line x1="55.96" y1="338.27" x2="58.56" y2="338.27" stroke="#5082dc" stroke-width="0.8" stroke-opacity="0.5"/>
<line x1="62.63" y1="284.54" x2="62.63" y2="338.24" stroke="#5082dc" stroke-width="0.6" stroke-opacity="0.07"/>
<line x1="61.33" y1="284.54" x2="63.93" y2="284.54" stroke="#5082dc" stroke-width="0.8" stroke-opacity="0.5"/>
<line x1="61.33" y1="338.24" x2="63.93" y2="338.24" stroke="#5082dc" stroke-width="0.8" stroke-opacity="0.5"/>
<line x1="68" y1="293.63" x2="68" y2="325.77" stroke="#5082dc" stroke-width="0.6" stroke-opacity="0.07"/>
<line x1="66.7" y1="293.63" x2="69.3" y2="293.63" stroke="#5082dc" stroke-width="0.8" stroke-opacity="0.5"/>
<line x1="66.7" y1="325.77" x2="69.3" y2="325.77" stroke="#5082dc" stroke-width="0.8" stroke-opacity="0.5"/>
<line x1="73.38" y1="287.35" x2="73.38" y2="327.05" stroke="#5082dc" stroke-width="0.6" stroke-opacity="0.07"/>
<line x1="72.08" y1="287.35" x2="74.68" y2="287.35" stroke="#5082dc" stroke-width="0.8" stroke-opacity="0.5"/>
<line x1="72.08" y1="327.05" x2="74.68" y2="327.05" stroke="#5082dc" stroke-width="0.8" stroke-opacity="0.5"/>
<line x1="78.75" y1="294.91" x2="78.75" y2="329.53" stroke="#5082dc" stroke-width="0.6" stroke-opacity="0.07"/>
<line x1="77.45" y1="294.91" x2="80.05" y2="294.91" stroke="#5082dc" stroke-width="0.8" stroke-opacity="0.5"/>
<line x1="77.45" y1="329.53" x2="80.05" y2="329.53" stroke="#5082dc" stroke-width="0.8" stroke-opacity="0.5"/>
<line x1="84.12" y1="275.41" x2="84.12" y2="317.57" stroke="#5082dc" stroke-width="0.6" stroke-opacity="0.07"/>
<line x1="82.82" y1="275.41" x2="85.42" y2="275.41" stroke="#5082dc" stroke-width="0.8" stroke-opacity="0.5"/>
<line x1="82.82" y1="317.57" x2="85.42" y2="317.57" stroke="#5082dc" stroke-width="0.8" stroke-opacity="0.5"/>
<line x1="89.49" y1="301.33" x2="89.49" y2="339.43" stroke="#5082dc" stroke-width="0.6" stroke-opacity="0.07"/>
<line x1="88.19" y1="301.33" x2="90.79" y2="301.33" stroke="#5082dc" stroke-width="0.8" stroke-opacity="0.5"/>
<line x1="88.19" y1="339.43" x2="90.79" y2="339.43" stroke="#5082dc" stroke-width="0.8" stroke-opacity="0.5"/>
<line x1="94.86" y1="302.5" x2="94.86" y2="349.99" stroke="#5082dc" stroke-width="0.6" stroke-opacity="0.07"/>
<line x1="93.56" y1="302.5" x2="96.16" y2="302.5" stroke="#5082dc" stroke-width="0.8" stroke-opacity="0.5"/>
<line x1="93.56" y1="349.99" x2="96.16" y2="349.99" stroke="#5082dc" stroke-width="0.8" stroke-opacity="0.5"/>
<line x1="100.24" y1="287.67" x2="100.24" y2="341.91" stroke="#5082dc" stroke-width="0.6" stroke-opacity="0.07"/>
<line x1="98.94" y1="287.67" x2="101.54" y2="287.67" stroke="#5082dc" stroke-width="0.8" stroke-opacity="0.5"/>
<line x1="98.94" y1="341.91" x2="101.54" y2="341.91" stroke="#5082dc" stroke-width="0.8" stroke-opacity="0.5"/>
<line x1="105.61" y1="297.58" x2="105.61" y2="341.72" stroke="#5082dc" stroke-width="0.6" stroke-opacity="0.07"/>
<line x1="104.31" y1="297.58" x2="106.91" y2="297.58" stroke="#5082dc" stroke-width="0.8" stroke-opacity="0.5"/>
<line x1="104.31" y1="341.72" x2="106.91" y2="341.72" stroke="#5082dc" stroke-width="0.8" stroke-opacity="0.5"/>
<line x1="110.98" y1="289.19" x2="110.98" y2="339.91" stroke="#5082dc" stroke-width="0.6" stroke-opacity="0.07"/>
<line x1="109.68" y1="289.19" x2="112.28" y2="289.19" stroke="#5082dc" stroke-width="0.8" stroke-opacity="0.5"/>
<line x1="109.68" y1="339.91" x2="112.28" y2="339.91" stroke="#5082dc" stroke-width="0.8" stroke-opacity="0.5"/>
<line x1="116.35" y1="296.69" x2="116.35" y2="345.41" stroke="#5082dc" stroke-width="0.6" stroke-opacity="0.07"/>
<line x1="115.05" y1="296.69" x2="117.65" y2="296.69" stroke="#5082dc" stroke-width="0.8" stroke-opacity="0.5"/>
<line x1="115.05" y1="345.41" x2="117.65" y2="345.41" stroke="#5082dc" stroke-width="0.8" stroke-opacity="0.5"/>
<line x1="121.72" y1="284.44" x2="121.72" y2="342.18" stroke="#5082dc" stroke-width="0.6" stroke-opacity="0.07"/>
<line x1="120.42" y1="284.44" x2="123.02" y2="284.44" stroke="#5082dc" stroke-width="0.8" stroke-opacity="0.5"/>
<line x1="120.42" y1="342.18" x2="123.02" y2="342.18" stroke="#5082dc" stroke-width="0.8" stroke-opacity="0.5"/>
<line x1="127.1" y1="295.31" x2="127.1" y2="342.07" stroke="#5082dc" stroke-width="0.6" stroke-opacity="0.07"/>
<line x1="125.8" y1="295.31" x2="128.4" y2="295.31" stroke="#5082dc" stroke-width="0.8" stroke-opacity="0.5"/>
<line x1="125.8" y1="342.07" x2="128.4" y2="342.07" stroke="#5082dc" stroke-width="0.8" stroke-opacity="0.5"/>
<line x1="132.47" y1="306.65" x2="132.47" y2="340.58" stroke="#5082dc" stroke-width="0.6" stroke-opacity="0.07"/>
<line x1="131.17" y1="306.65" x2="133.77" y2="306.65" stroke="#5082dc" stroke-width="0.8" stroke-opacity="0.5"/>
<line x1="131.17" y1="340.58" x2="133.77" y2="340.58" stroke="#5082dc" stroke-width="0.8" stroke-opacity="0.5"/>
<line x1="137.84" y1="289.71" x2="137.84" y2="348.76" stroke="#5082dc" stroke-width="0.6" stroke-opacity="0.07"/>
<line x1="136.54" y1="289.71" x2="139.14" y2="289.71" stroke="#5082dc" stroke-width="0.8" stroke-opacity="0.5"/>
<line x1="136.54" y1="348.76" x2="139.14" y2="348.76" stroke="#5082dc" stroke-width="0.8" stroke-opacity="0.5"/>
<line x1="143.21" y1="303.34" x2="143.21" y2="341.22" stroke="#5082dc" stroke-width="0.6" stroke-opacity="0.07"/>
<line x1="141.91" y1="303.34" x2="144.51" y2="303.34" stroke="#5082dc" stroke-width="0.8" stroke-opacity="0.5"/>
<line x1="141.91" y1="341.22" x2="144.51" y2="341.22" stroke="#5082dc" stroke-width="0.8" stroke-opacity="0.5"/>
<line x1="148.58" y1="309.14" x2="148.58" y2="353.01" stroke="#5082dc" stroke-width="0.6" stroke-opacity="0.07"/>
<line x1="147.28" y1="309.14" x2="149.88" y2="309.14" stroke="#5082dc" stroke-width="0.8" stroke-opacity="0.5"/>
<line x1="147.28" y1="353.01" x2="149.88" y2="353.01" stroke="#5082dc" stroke-width="0.8" stroke-opacity="0.5"/>
<line x1="153.96" y1="323.74" x2="153.96" y2="356.85" stroke="#5082dc" stroke-width="0.6" stroke-opacity="0.07"/>
<line x1="152.66" y1="323.74" x2="155.26" y2="323.74" stroke="#5082dc" stroke-width="0.8" stroke-opacity="0.5"/>
<line x1="152.66" y1="356.85" x2="155.26" y2="356.85" stroke="#5082dc" stroke-width="0.8" stroke-opacity="0.5"/>
<line x1="159.33" y1="295.86" x2="159.33" y2="336.99" stroke="#5082dc" stroke-width="0.6" stroke-opacity="0.07"/>
<line x1="158.03" y1="295.86" x2="160.63" y2="295.86" stroke="#5082dc" stroke-width="0.8" stroke-opacity="0.5"/>
<line x1="158.03" y1="336.99" x2="160.63" y2="336.99" stroke="#5082dc" stroke-width="0.8" stroke-opacity="0.5"/>
<line x1="164.7" y1="293.7" x2="164.7" y2="341.71" stroke="#5082dc" stroke-width="0.6" stroke-opacity="0.07"/>
<line x1="163.4" y1="293.7" x2="166" y2="293.7" stroke="#5082dc" stroke-width="0.8" stroke-opacity="0.5"/>
<line x1="163.4" y1="341.71" x2="166" y2="341.71" stroke="#5082dc" stroke-width="0.8" stroke-opacity="0.5"/>
<line x1="170.07" y1="289.67" x2="170.07" y2="337.21" stroke="#5082dc" stroke-width="0.6" stroke-opacity="0.07"/>
<line x1="168.77" y1="289.67" x2="171.37" y2="289.67" stroke="#5082dc" stroke-width="0.8" stroke-opacity="0.5"/>
<line x1="168.77" y1="337.21" x2="171.37" y2="337.21" stroke="#5082dc" stroke-width="0.8" stroke-opacity="0.5"/>
<line x1="175.44" y1="295.44" x2="175.44" y2="350.44" stroke="#5082dc" stroke-width="0.6" stroke-opacity="0.07"/>
<line x1="174.14" y1="295.44" x2="176.74" y2="295.44" stroke="#5082dc" stroke-width="0.8" stroke-opacity="0.5"/>
<line x1="174.14" y1="350.44" x2="176.74" y2="350.44" stroke="#5082dc" stroke-width="0.8" stroke-opacity="0.5"/>
<line x1="180.82" y1="321.38" x2="180.82" y2="344.95" stroke="#5082dc" stroke-width="0.6" stroke-opacity="0.07"/>
<line x1="179.52" y1="321.38" x2="182.12" y2="321.38" stroke="#5082dc" stroke-width="0.8" stroke-opacity="0.5"/>
<line x1="179.52" y1="344.95" x2="182.12" y2="344.95" stroke="#5082dc" stroke-width="0.8" stroke-opacity="0.5"/>
<line x1="186.19" y1="306.47" x2="186.19" y2="364.3" stroke="#5082dc" stroke-width="0.6" stroke-opacity="0.07"/>
<line x1="184.89" y1="306.47" x2="187.49" y2="306.47" stroke="#5082dc" stroke-width="0.8" stroke-opacity="0.5"/>
<line x1="184.89" y1="364.3" x2="187.49" y2="364.3" stroke="#5082dc" stroke-width="0.8" stroke-opacity="0.5"/>
<line x1="191.56" y1="320.89" x2="191.56" y2="357.9" stroke="#5082dc" stroke-width="0.6" stroke-opacity="0.07"/>
<line x1="190.26" y1="320.89" x2="192.86" y2="320.89" stroke="#5082dc" stroke-width="0.8" stroke-opacity="0.5"/>
<line x1="190.26" y1="357.9" x2="192.86" y2="357.9" stroke="#5082dc" stroke-width="0.8" stroke-opacity="0.5"/>
<line x1="196.93" y1="310.13" x2="196.93" y2="354.62" stroke="#5082dc" stroke-width="0.6" stroke-opacity="0.07"/>
<line x1="195.63" y1="310.13" x2="198.23" y2="310.13" stroke="#5082dc" stroke-width="0.8" stroke-opacity="0.5"/>
<line x1="195.63" y1="354.62" x2="198.23" y2="354.62" stroke="#5082dc" stroke-width="0.8" stroke-opacity="0.5"/>
<line x1="202.3" y1="318.68" x2="202.3" y2="356.45" stroke="#5082dc" stroke-width="0.6" stroke-opacity="0.07"/>
<line x1="201" y1="318.68" x2="203.6" y2="318.68" stroke="#5082dc" stroke-width="0.8" stroke-opacity="0.5"/>
<line x1="201" y1="356.45" x2="203.6" y2="356.45" stroke="#5082dc" stroke-width="0.8" stroke-opacity="0.5"/>
<line x1="207.68" y1="317.03" x2="207.68" y2="359.84" stroke="#5082dc" stroke-width="0.6" stroke-opacity="0.07"/>
<line x1="206.38" y1="317.03" x2="208.98" y2="317.03" stroke="#5082dc" stroke-width="0.8" stroke-opacity="0.5"/>
<line x1="206.38" y1="359.84" x2="208.98" y2="359.84" stroke="#5082dc" stroke-width="0.8" stroke-opacity="0.5"/>
<line x1="213.05" y1="310.26" x2="213.05" y2="347.31" stroke="#5082dc" stroke-width="0.6" stroke-opacity="0.07"/>
<line x1="211.75" y1="310.26" x2="214.35" y2="310.26" stroke="#5082dc" stroke-width="0.8" stroke-opacity="0.5"/>
<line x1="211.75" y1="347.31" x2="214.35" y2="347.31" stroke="#5082dc" stroke-width="0.8" stroke-opacity="0.5"/>
<line x1="218.42" y1="303.69" x2="218.42" y2="348.29" stroke="#5082dc" stroke-width="0.6" stroke-opacity="0.07"/>
<line x1="217.12" y1="303.69" x2="219.72" y2="303.69" stroke="#5082dc" stroke-width="0.8" stroke-opacity="0.5"/>
<line x1="217.12" y1="348.29" x2="219.72" y2="348.29" stroke="#5082dc" stroke-width="0.8" stroke-opacity="0.5"/>
<line x1="223.79" y1="302.05" x2="223.79" y2="353.04" stroke="#5082dc" stroke-width="0.6" stroke-opacity="0.07"/>
<line x1="222.49" y1="302.05" x2="225.09" y2="302.05" stroke="#5082dc" stroke-width="0.8" stroke-opacity="0.5"/>
<line x1="222.49" y1="353.04" x2="225.09" y2="353.04" stroke="#5082dc" stroke-width="0.8" stroke-opacity="0.5"/>
<line x1="35.77" y1="314.7" x2="35.77" y2="349.36" stroke="#40a888" stroke-width="0.6" stroke-opacity="0.07"/>
<line x1="34.47" y1="314.7" x2="37.07" y2="314.7" stroke="#40a888" stroke-width="0.8" stroke-opacity="0.5"/>
<line x1="34.47" y1="349.36" x2="37.07" y2="349.36" stroke="#40a888" stroke-width="0.8" stroke-opacity="0.5"/>
<line x1="41.14" y1="300.83" x2="41.14" y2="349.99" stroke="#40a888" stroke-width="0.6" stroke-opacity="0.07"/>
<line x1="39.84" y1="300.83" x2="42.44" y2="300.83" stroke="#40a888" stroke-width="0.8" stroke-opacity="0.5"/>
<line x1="39.84" y1="349.99" x2="42.44" y2="349.99" stroke="#40a888" stroke-width="0.8" stroke-opacity="0.5"/>
<line x1="46.52" y1="319.04" x2="46.52" y2="353.85" stroke="#40a888" stroke-width="0.6" stroke-opacity="0.07"/>
<line x1="45.22" y1="319.04" x2="47.82" y2="319.04" stroke="#40a888" stroke-width="0.8" stroke-opacity="0.5"/>
<line x1="45.22" y1="353.85" x2="47.82" y2="353.85" stroke="#40a888" stroke-width="0.8" stroke-opacity="0.5"/>
<line x1="51.89" y1="304.91" x2="51.89" y2="348.66" stroke="#40a888" stroke-width="0.6" stroke-opacity="0.07"/>
<line x1="50.59" y1="304.91" x2="53.19" y2="304.91" stroke="#40a888" stroke-width="0.8" stroke-opacity="0.5"/>
<line x1="50.59" y1="348.66" x2="53.19" y2="348.66" stroke="#40a888" stroke-width="0.8" stroke-opacity="0.5"/>
<line x1="57.26" y1="314.7" x2="57.26" y2="351.63" stroke="#40a888" stroke-width="0.6" stroke-opacity="0.07"/>
<line x1="55.96" y1="314.7" x2="58.56" y2="314.7" stroke="#40a888" stroke-width="0.8" stroke-opacity="0.5"/>
<line x1="55.96" y1="351.63" x2="58.56" y2="351.63" stroke="#40a888" stroke-width="0.8" stroke-opacity="0.5"/>
<line x1="62.63" y1="299.97" x2="62.63" y2="353.44" stroke="#40a888" stroke-width="0.6" stroke-opacity="0.07"/>
<line x1="61.33" y1="299.97" x2="63.93" y2="299.97" stroke="#40a888" stroke-width="0.8" stroke-opacity="0.5"/>
<line x1="61.33" y1="353.44" x2="63.93" y2="353.44" stroke="#40a888" stroke-width="0.8" stroke-opacity="0.5"/>
<line x1="68" y1="298.18" x2="68" y2="347.64" stroke="#40a888" stroke-width="0.6" stroke-opacity="0.07"/>
<line x1="66.7" y1="298.18" x2="69.3" y2="298.18" stroke="#40a888" stroke-width="0.8" stroke-opacity="0.5"/>
<line x1="66.7" y1="347.64" x2="69.3" y2="347.64" stroke="#40a888" stroke-width="0.8" stroke-opacity="0.5"/>
<line x1="73.38" y1="313.7" x2="73.38" y2="356.52" stroke="#40a888" stroke-width="0.6" stroke-opacity="0.07"/>
<line x1="72.08" y1="313.7" x2="74.68" y2="313.7" stroke="#40a888" stroke-width="0.8" stroke-opacity="0.5"/>
<line x1="72.08" y1="356.52" x2="74.68" y2="356.52" stroke="#40a888" stroke-width="0.8" stroke-opacity="0.5"/>
<line x1="78.75" y1="297.34" x2="78.75" y2="352.51" stroke="#40a888" stroke-width="0.6" stroke-opacity="0.07"/>
<line x1="77.45" y1="297.34" x2="80.05" y2="297.34" stroke="#40a888" stroke-width="0.8" stroke-opacity="0.5"/>
<line x1="77.45" y1="352.51" x2="80.05" y2="352.51" stroke="#40a888" stroke-width="0.8" stroke-opacity="0.5"/>
<line x1="84.12" y1="315.77" x2="84.12" y2="346.23" stroke="#40a888" stroke-width="0.6" stroke-opacity="0.07"/>
<line x1="82.82" y1="315.77" x2="85.42" y2="315.77" stroke="#40a888" stroke-width="0.8" stroke-opacity="0.5"/>
<line x1="82.82" y1="346.23" x2="85.42" y2="346.23" stroke="#40a888" stroke-width="0.8" stroke-opacity="0.5"/>
<line x1="89.49" y1="307.57" x2="89.49" y2="348.01" stroke="#40a888" stroke-width="0.6" stroke-opacity="0.07"/>
<line x1="88.19" y1="307.57" x2="90.79" y2="307.57" stroke="#40a888" stroke-width="0.8" stroke-opacity="0.5"/>
<line x1="88.19" y1="348.01" x2="90.79" y2="348.01" stroke="#40a888" stroke-width="0.8" stroke-opacity="0.5"/>
<line x1="94.86" y1="299.59" x2="94.86" y2="359.2" stroke="#40a888" stroke-width="0.6" stroke-opacity="0.07"/>
<line x1="93.56" y1="299.59" x2="96.16" y2="299.59" stroke="#40a888" stroke-width="0.8" stroke-opacity="0.5"/>
<line x1="93.56" y1="359.2" x2="96.16" y2="359.2" stroke="#40a888" stroke-width="0.8" stroke-opacity="0.5"/>
<line x1="100.24" y1="318.69" x2="100.24" y2="350.68" stroke="#40a888" stroke-width="0.6" stroke-opacity="0.07"/>
<line x1="98.94" y1="318.69" x2="101.54" y2="318.69" stroke="#40a888" stroke-width="0.8" stroke-opacity="0.5"/>
<line x1="98.94" y1="350.68" x2="101.54" y2="350.68" stroke="#40a888" stroke-width="0.8" stroke-opacity="0.5"/>
<line x1="105.61" y1="300.15" x2="105.61" y2="356.38" stroke="#40a888" stroke-width="0.6" stroke-opacity="0.07"/>
<line x1="104.31" y1="300.15" x2="106.91" y2="300.15" stroke="#40a888" stroke-width="0.8" stroke-opacity="0.5"/>
<line x1="104.31" y1="356.38" x2="106.91" y2="356.38" stroke="#40a888" stroke-width="0.8" stroke-opacity="0.5"/>
<line x1="110.98" y1="299.6" x2="110.98" y2="350.68" stroke="#40a888" stroke-width="0.6" stroke-opacity="0.07"/>
<line x1="109.68" y1="299.6" x2="112.28" y2="299.6" stroke="#40a888" stroke-width="0.8" stroke-opacity="0.5"/>
<line x1="109.68" y1="350.68" x2="112.28" y2="350.68" stroke="#40a888" stroke-width="0.8" stroke-opacity="0.5"/>
<line x1="116.35" y1="317.94" x2="116.35" y2="348.6" stroke="#40a888" stroke-width="0.6" stroke-opacity="0.07"/>
<line x1="115.05" y1="317.94" x2="117.65" y2="317.94" stroke="#40a888" stroke-width="0.8" stroke-opacity="0.5"/>
<line x1="115.05" y1="348.6" x2="117.65" y2="348.6" stroke="#40a888" stroke-width="0.8" stroke-opacity="0.5"/>
<line x1="121.72" y1="298.23" x2="121.72" y2="347.67" stroke="#40a888" stroke-width="0.6" stroke-opacity="0.07"/>
<line x1="120.42" y1="298.23" x2="123.02" y2="298.23" stroke="#40a888" stroke-width="0.8" stroke-opacity="0.5"/>
<line x1="120.42" y1="347.67" x2="123.02" y2="347.67" stroke="#40a888" stroke-width="0.8" stroke-opacity="0.5"/>
<line x1="127.1" y1="309.97" x2="127.1" y2="349.04" stroke="#40a888" stroke-width="0.6" stroke-opacity="0.07"/>
<line x1="125.8" y1="309.97" x2="128.4" y2="309.97" stroke="#40a888" stroke-width="0.8" stroke-opacity="0.5"/>
<line x1="125.8" y1="349.04" x2="128.4" y2="349.04" stroke="#40a888" stroke-width="0.8" stroke-opacity="0.5"/>
<line x1="132.47" y1="310.16" x2="132.47" y2="351.21" stroke="#40a888" stroke-width="0.6" stroke-opacity="0.07"/>
<line x1="131.17" y1="310.16" x2="133.77" y2="310.16" stroke="#40a888" stroke-width="0.8" stroke-opacity="0.5"/>
<line x1="131.17" y1="351.21" x2="133.77" y2="351.21" stroke="#40a888" stroke-width="0.8" stroke-opacity="0.5"/>
<line x1="137.84" y1="299.08" x2="137.84" y2="350.17" stroke="#40a888" stroke-width="0.6" stroke-opacity="0.07"/>
<line x1="136.54" y1="299.08" x2="139.14" y2="299.08" stroke="#40a888" stroke-width="0.8" stroke-opacity="0.5"/>
<line x1="136.54" y1="350.17" x2="139.14" y2="350.17" stroke="#40a888" stroke-width="0.8" stroke-opacity="0.5"/>
<line x1="143.21" y1="326.15" x2="143.21" y2="364.3" stroke="#40a888" stroke-width="0.6" stroke-opacity="0.07"/>
<line x1="141.91" y1="326.15" x2="144.51" y2="326.15" stroke="#40a888" stroke-width="0.8" stroke-opacity="0.5"/>
<line x1="141.91" y1="364.3" x2="144.51" y2="364.3" stroke="#40a888" stroke-width="0.8" stroke-opacity="0.5"/>
<line x1="148.58" y1="300.94" x2="148.58" y2="364.3" stroke="#40a888" stroke-width="0.6" stroke-opacity="0.07"/>
<line x1="147.28" y1="300.94" x2="149.88" y2="300.94" stroke="#40a888" stroke-width="0.8" stroke-opacity="0.5"/>
<line x1="147.28" y1="364.3" x2="149.88" y2="364.3" stroke="#40a888" stroke-width="0.8" stroke-opacity="0.5"/>
<line x1="153.96" y1="313.08" x2="153.96" y2="363.9" stroke="#40a888" stroke-width="0.6" stroke-opacity="0.07"/>
<line x1="152.66" y1="313.08" x2="155.26" y2="313.08" stroke="#40a888" stroke-width="0.8" stroke-opacity="0.5"/>
<line x1="152.66" y1="363.9" x2="155.26" y2="363.9" stroke="#40a888" stroke-width="0.8" stroke-opacity="0.5"/>
<line x1="159.33" y1="298.3" x2="159.33" y2="350.74" stroke="#40a888" stroke-width="0.6" stroke-opacity="0.07"/>
<line x1="158.03" y1="298.3" x2="160.63" y2="298.3" stroke="#40a888" stroke-width="0.8" stroke-opacity="0.5"/>
<line x1="158.03" y1="350.74" x2="160.63" y2="350.74" stroke="#40a888" stroke-width="0.8" stroke-opacity="0.5"/>
<line x1="164.7" y1="302.27" x2="164.7" y2="360.09" stroke="#40a888" stroke-width="0.6" stroke-opacity="0.07"/>
<line x1="163.4" y1="302.27" x2="166" y2="302.27" stroke="#40a888" stroke-width="0.8" stroke-opacity="0.5"/>
<line x1="163.4" y1="360.09" x2="166" y2="360.09" stroke="#40a888" stroke-width="0.8" stroke-opacity="0.5"/>
<line x1="170.07" y1="305.46" x2="170.07" y2="355.41" stroke="#40a888" stroke-width="0.6" stroke-opacity="0.07"/>
<line x1="168.77" y1="305.46" x2="171.37" y2="305.46" stroke="#40a888" stroke-width="0.8" stroke-opacity="0.5"/>
<line x1="168.77" y1="355.41" x2="171.37" y2="355.41" stroke="#40a888" stroke-width="0.8" stroke-opacity="0.5"/>
<line x1="175.44" y1="317.61" x2="175.44" y2="353.72" stroke="#40a888" stroke-width="0.6" stroke-opacity="0.07"/>
<line x1="174.14" y1="317.61" x2="176.74" y2="317.61" stroke="#40a888" stroke-width="0.8" stroke-opacity="0.5"/>
<line x1="174.14" y1="353.72" x2="176.74" y2="353.72" stroke="#40a888" stroke-width="0.8" stroke-opacity="0.5"/>
<line x1="180.82" y1="322.49" x2="180.82" y2="352.11" stroke="#40a888" stroke-width="0.6" stroke-opacity="0.07"/>
<line x1="179.52" y1="322.49" x2="182.12" y2="322.49" stroke="#40a888" stroke-width="0.8" stroke-opacity="0.5"/>
<line x1="179.52" y1="352.11" x2="182.12" y2="352.11" stroke="#40a888" stroke-width="0.8" stroke-opacity="0.5"/>
<line x1="186.19" y1="311.4" x2="186.19" y2="355.2" stroke="#40a888" stroke-width="0.6" stroke-opacity="0.07"/>
<line x1="184.89" y1="311.4" x2="187.49" y2="311.4" stroke="#40a888" stroke-width="0.8" stroke-opacity="0.5"/>
<line x1="184.89" y1="355.2" x2="187.49" y2="355.2" stroke="#40a888" stroke-width="0.8" stroke-opacity="0.5"/>
<line x1="191.56" y1="306.75" x2="191.56" y2="352.75" stroke="#40a888" stroke-width="0.6" stroke-opacity="0.07"/>
<line x1="190.26" y1="306.75" x2="192.86" y2="306.75" stroke="#40a888" stroke-width="0.8" stroke-opacity="0.5"/>
<line x1="190.26" y1="352.75" x2="192.86" y2="352.75" stroke="#40a888" stroke-width="0.8" stroke-opacity="0.5"/>
<line x1="196.93" y1="303.02" x2="196.93" y2="362.92" stroke="#40a888" stroke-width="0.6" stroke-opacity="0.07"/>
<line x1="195.63" y1="303.02" x2="198.23" y2="303.02" stroke="#40a888" stroke-width="0.8" stroke-opacity="0.5"/>
<line x1="195.63" y1="362.92" x2="198.23" y2="362.92" stroke="#40a888" stroke-width="0.8" stroke-opacity="0.5"/>
<line x1="202.3" y1="304.51" x2="202.3" y2="364.3" stroke="#40a888" stroke-width="0.6" stroke-opacity="0.07"/>
<line x1="201" y1="304.51" x2="203.6" y2="304.51" stroke="#40a888" stroke-width="0.8" stroke-opacity="0.5"/>
<line x1="201" y1="364.3" x2="203.6" y2="364.3" stroke="#40a888" stroke-width="0.8" stroke-opacity="0.5"/>
<line x1="207.68" y1="305.67" x2="207.68" y2="363.44" stroke="#40a888" stroke-width="0.6" stroke-opacity="0.07"/>
<line x1="206.38" y1="305.67" x2="208.98" y2="305.67" stroke="#40a888" stroke-width="0.8" stroke-opacity="0.5"/>
<line x1="206.38" y1="363.44" x2="208.98" y2="363.44" stroke="#40a888" stroke-width="0.8" stroke-opacity="0.5"/>
<line x1="213.05" y1="331.78" x2="213.05" y2="364.3" stroke="#40a888" stroke-width="0.6" stroke-opacity="0.07"/>
<line x1="211.75" y1="331.78" x2="214.35" y2="331.78" stroke="#40a888" stroke-width="0.8" stroke-opacity="0.5"/>
<line x1="211.75" y1="364.3" x2="214.35" y2="364.3" stroke="#40a888" stroke-width="0.8" stroke-opacity="0.5"/>
<line x1="218.42" y1="328.24" x2="218.42" y2="360.26" stroke="#40a888" stroke-width="0.6" stroke-opacity="0.07"/>
<line x1="217.12" y1="328.24" x2="219.72" y2="328.24" stroke="#40a888" stroke-width="0.8" stroke-opacity="0.5"/>
<line x1="217.12" y1="360.26" x2="219.72" y2="360.26" stroke="#40a888" stroke-width="0.8" stroke-opacity="0.5"/>
<line x1="223.79" y1="311.45" x2="223.79" y2="361.5" stroke="#40a888" stroke-width="0.6" stroke-opacity="0.07"/>
<line x1="222.49" y1="311.45" x2="225.09" y2="311.45" stroke="#40a888" stroke-width="0.8" stroke-opacity="0.5"/>
<line x1="222.49" y1="361.5" x2="225.09" y2="361.5" stroke="#40a888" stroke-width="0.8" stroke-opacity="0.5"/>
<line x1="35.77" y1="305.61" x2="35.77" y2="355.64" stroke="#c090e0" stroke-width="0.6" stroke-opacity="0.07"/>
<line x1="34.47" y1="305.61" x2="37.07" y2="305.61" stroke="#c090e0" stroke-width="0.8" stroke-opacity="0.5"/>
<line x1="34.47" y1="355.64" x2="37.07" y2="355.64" stroke="#c090e0" stroke-width="0.8" stroke-opacity="0.5"/>
<line x1="41.14" y1="302.31" x2="41.14" y2="347.73" stroke="#c090e0" stroke-width="0.6" stroke-opacity="0.07"/>
<line x1="39.84" y1="302.31" x2="42.44" y2="302.31" stroke="#c090e0" stroke-width="0.8" stroke-opacity="0.5"/>
<line x1="39.84" y1="347.73" x2="42.44" y2="347.73" stroke="#c090e0" stroke-width="0.8" stroke-opacity="0.5"/>
<line x1="46.52" y1="311.75" x2="46.52" y2="355.8" stroke="#c090e0" stroke-width="0.6" stroke-opacity="0.07"/>
<line x1="45.22" y1="311.75" x2="47.82" y2="311.75" stroke="#c090e0" stroke-width="0.8" stroke-opacity="0.5"/>
<line x1="45.22" y1="355.8" x2="47.82" y2="355.8" stroke="#c090e0" stroke-width="0.8" stroke-opacity="0.5"/>
<line x1="51.89" y1="306.2" x2="51.89" y2="355.35" stroke="#c090e0" stroke-width="0.6" stroke-opacity="0.07"/>
<line x1="50.59" y1="306.2" x2="53.19" y2="306.2" stroke="#c090e0" stroke-width="0.8" stroke-opacity="0.5"/>
<line x1="50.59" y1="355.35" x2="53.19" y2="355.35" stroke="#c090e0" stroke-width="0.8" stroke-opacity="0.5"/>
<line x1="57.26" y1="306.7" x2="57.26" y2="342.13" stroke="#c090e0" stroke-width="0.6" stroke-opacity="0.07"/>
<line x1="55.96" y1="306.7" x2="58.56" y2="306.7" stroke="#c090e0" stroke-width="0.8" stroke-opacity="0.5"/>
<line x1="55.96" y1="342.13" x2="58.56" y2="342.13" stroke="#c090e0" stroke-width="0.8" stroke-opacity="0.5"/>
<line x1="62.63" y1="304.55" x2="62.63" y2="355.95" stroke="#c090e0" stroke-width="0.6" stroke-opacity="0.07"/>
<line x1="61.33" y1="304.55" x2="63.93" y2="304.55" stroke="#c090e0" stroke-width="0.8" stroke-opacity="0.5"/>
<line x1="61.33" y1="355.95" x2="63.93" y2="355.95" stroke="#c090e0" stroke-width="0.8" stroke-opacity="0.5"/>
<line x1="68" y1="313.86" x2="68" y2="354.36" stroke="#c090e0" stroke-width="0.6" stroke-opacity="0.07"/>
<line x1="66.7" y1="313.86" x2="69.3" y2="313.86" stroke="#c090e0" stroke-width="0.8" stroke-opacity="0.5"/>
<line x1="66.7" y1="354.36" x2="69.3" y2="354.36" stroke="#c090e0" stroke-width="0.8" stroke-opacity="0.5"/>
<line x1="73.38" y1="293.97" x2="73.38" y2="356.34" stroke="#c090e0" stroke-width="0.6" stroke-opacity="0.07"/>
<line x1="72.08" y1="293.97" x2="74.68" y2="293.97" stroke="#c090e0" stroke-width="0.8" stroke-opacity="0.5"/>
<line x1="72.08" y1="356.34" x2="74.68" y2="356.34" stroke="#c090e0" stroke-width="0.8" stroke-opacity="0.5"/>
<line x1="78.75" y1="293.35" x2="78.75" y2="339.08" stroke="#c090e0" stroke-width="0.6" stroke-opacity="0.07"/>
<line x1="77.45" y1="293.35" x2="80.05" y2="293.35" stroke="#c090e0" stroke-width="0.8" stroke-opacity="0.5"/>
<line x1="77.45" y1="339.08" x2="80.05" y2="339.08" stroke="#c090e0" stroke-width="0.8" stroke-opacity="0.5"/>
<line x1="84.12" y1="301.26" x2="84.12" y2="356.16" stroke="#c090e0" stroke-width="0.6" stroke-opacity="0.07"/>
<line x1="82.82" y1="301.26" x2="85.42" y2="301.26" stroke="#c090e0" stroke-width="0.8" stroke-opacity="0.5"/>
<line x1="82.82" y1="356.16" x2="85.42" y2="356.16" stroke="#c090e0" stroke-width="0.8" stroke-opacity="0.5"/>
<line x1="89.49" y1="319.08" x2="89.49" y2="347.1" stroke="#c090e0" stroke-width="0.6" stroke-opacity="0.07"/>
<line x1="88.19" y1="319.08" x2="90.79" y2="319.08" stroke="#c090e0" stroke-width="0.8" stroke-opacity="0.5"/>
<line x1="88.19" y1="347.1" x2="90.79" y2="347.1" stroke="#c090e0" stroke-width="0.8" stroke-opacity="0.5"/>
<line x1="94.86" y1="316.59" x2="94.86" y2="355.32" stroke="#c090e0" stroke-width="0.6" stroke-opacity="0.07"/>
<line x1="93.56" y1="316.59" x2="96.16" y2="316.59" stroke="#c090e0" stroke-width="0.8" stroke-opacity="0.5"/>
<line x1="93.56" y1="355.32" x2="96.16" y2="355.32" stroke="#c090e0" stroke-width="0.8" stroke-opacity="0.5"/>
<line x1="100.24" y1="313.41" x2="100.24" y2="355.65" stroke="#c090e0" stroke-width="0.6" stroke-opacity="0.07"/>
<line x1="98.94" y1="313.41" x2="101.54" y2="313.41" stroke="#c090e0" stroke-width="0.8" stroke-opacity="0.5"/>
<line x1="98.94" y1="355.65" x2="101.54" y2="355.65" stroke="#c090e0" stroke-width="0.8" stroke-opacity="0.5"/>
<line x1="105.61" y1="301.96" x2="105.61" y2="346.24" stroke="#c090e0" stroke-width="0.6" stroke-opacity="0.07"/>
<line x1="104.31" y1="301.96" x2="106.91" y2="301.96" stroke="#c090e0" stroke-width="0.8" stroke-opacity="0.5"/>
<line x1="104.31" y1="346.24" x2="106.91" y2="346.24" stroke="#c090e0" stroke-width="0.8" stroke-opacity="0.5"/>
<line x1="110.98" y1="320.21" x2="110.98" y2="345.87" stroke="#c090e0" stroke-width="0.6" stroke-opacity="0.07"/>
<line x1="109.68" y1="320.21" x2="112.28" y2="320.21" stroke="#c090e0" stroke-width="0.8" stroke-opacity="0.5"/>
<line x1="109.68" y1="345.87" x2="112.28" y2="345.87" stroke="#c090e0" stroke-width="0.8" stroke-opacity="0.5"/>
<line x1="116.35" y1="319.47" x2="116.35" y2="346.12" stroke="#c090e0" stroke-width="0.6" stroke-opacity="0.07"/>
<line x1="115.05" y1="319.47" x2="117.65" y2="319.47" stroke="#c090e0" stroke-width="0.8" stroke-opacity="0.5"/>
<line x1="115.05" y1="346.12" x2="117.65" y2="346.12" stroke="#c090e0" stroke-width="0.8" stroke-opacity="0.5"/>
<line x1="121.72" y1="296.25" x2="121.72" y2="360.97" stroke="#c090e0" stroke-width="0.6" stroke-opacity="0.07"/>
<line x1="120.42" y1="296.25" x2="123.02" y2="296.25" stroke="#c090e0" stroke-width="0.8" stroke-opacity="0.5"/>
<line x1="120.42" y1="360.97" x2="123.02" y2="360.97" stroke="#c090e0" stroke-width="0.8" stroke-opacity="0.5"/>
<line x1="127.1" y1="319.31" x2="127.1" y2="352.35" stroke="#c090e0" stroke-width="0.6" stroke-opacity="0.07"/>
<line x1="125.8" y1="319.31" x2="128.4" y2="319.31" stroke="#c090e0" stroke-width="0.8" stroke-opacity="0.5"/>
<line x1="125.8" y1="352.35" x2="128.4" y2="352.35" stroke="#c090e0" stroke-width="0.8" stroke-opacity="0.5"/>
<line x1="132.47" y1="315.22" x2="132.47" y2="351.65" stroke="#c090e0" stroke-width="0.6" stroke-opacity="0.07"/>
<line x1="131.17" y1="315.22" x2="133.77" y2="315.22" stroke="#c090e0" stroke-width="0.8" stroke-opacity="0.5"/>
<line x1="131.17" y1="351.65" x2="133.77" y2="351.65" stroke="#c090e0" stroke-width="0.8" stroke-opacity="0.5"/>
<line x1="137.84" y1="316.74" x2="137.84" y2="359.92" stroke="#c090e0" stroke-width="0.6" stroke-opacity="0.07"/>
<line x1="136.54" y1="316.74" x2="139.14" y2="316.74" stroke="#c090e0" stroke-width="0.8" stroke-opacity="0.5"/>
<line x1="136.54" y1="359.92" x2="139.14" y2="359.92" stroke="#c090e0" stroke-width="0.8" stroke-opacity="0.5"/>
<line x1="143.21" y1="312.61" x2="143.21" y2="357.63" stroke="#c090e0" stroke-width="0.6" stroke-opacity="0.07"/>
<line x1="141.91" y1="312.61" x2="144.51" y2="312.61" stroke="#c090e0" stroke-width="0.8" stroke-opacity="0.5"/>
<line x1="141.91" y1="357.63" x2="144.51" y2="357.63" stroke="#c090e0" stroke-width="0.8" stroke-opacity="0.5"/>
<line x1="148.58" y1="324.92" x2="148.58" y2="358" stroke="#c090e0" stroke-width="0.6" stroke-opacity="0.07"/>
<line x1="147.28" y1="324.92" x2="149.88" y2="324.92" stroke="#c090e0" stroke-width="0.8" stroke-opacity="0.5"/>
<line x1="147.28" y1="358" x2="149.88" y2="358" stroke="#c090e0" stroke-width="0.8" stroke-opacity="0.5"/>
<line x1="153.96" y1="327.78" x2="153.96" y2="362.84" stroke="#c090e0" stroke-width="0.6" stroke-opacity="0.07"/>
<line x1="152.66" y1="327.78" x2="155.26" y2="327.78" stroke="#c090e0" stroke-width="0.8" stroke-opacity="0.5"/>
<line x1="152.66" y1="362.84" x2="155.26" y2="362.84" stroke="#c090e0" stroke-width="0.8" stroke-opacity="0.5"/>
<line x1="159.33" y1="311.42" x2="159.33" y2="360.5" stroke="#c090e0" stroke-width="0.6" stroke-opacity="0.07"/>
<line x1="158.03" y1="311.42" x2="160.63" y2="311.42" stroke="#c090e0" stroke-width="0.8" stroke-opacity="0.5"/>
<line x1="158.03" y1="360.5" x2="160.63" y2="360.5" stroke="#c090e0" stroke-width="0.8" stroke-opacity="0.5"/>
<line x1="164.7" y1="328.01" x2="164.7" y2="355.29" stroke="#c090e0" stroke-width="0.6" stroke-opacity="0.07"/>
<line x1="163.4" y1="328.01" x2="166" y2="328.01" stroke="#c090e0" stroke-width="0.8" stroke-opacity="0.5"/>
<line x1="163.4" y1="355.29" x2="166" y2="355.29" stroke="#c090e0" stroke-width="0.8" stroke-opacity="0.5"/>
<line x1="170.07" y1="317.37" x2="170.07" y2="360.46" stroke="#c090e0" stroke-width="0.6" stroke-opacity="0.07"/>
<line x1="168.77" y1="317.37" x2="171.37" y2="317.37" stroke="#c090e0" stroke-width="0.8" stroke-opacity="0.5"/>
<line x1="168.77" y1="360.46" x2="171.37" y2="360.46" stroke="#c090e0" stroke-width="0.8" stroke-opacity="0.5"/>
<line x1="175.44" y1="310.65" x2="175.44" y2="361.65" stroke="#c090e0" stroke-width="0.6" stroke-opacity="0.07"/>
<line x1="174.14" y1="310.65" x2="176.74" y2="310.65" stroke="#c090e0" stroke-width="0.8" stroke-opacity="0.5"/>
<line x1="174.14" y1="361.65" x2="176.74" y2="361.65" stroke="#c090e0" stroke-width="0.8" stroke-opacity="0.5"/>
<line x1="180.82" y1="310.69" x2="180.82" y2="364.3" stroke="#c090e0" stroke-width="0.6" stroke-opacity="0.07"/>
<line x1="179.52" y1="310.69" x2="182.12" y2="310.69" stroke="#c090e0" stroke-width="0.8" stroke-opacity="0.5"/>
<line x1="179.52" y1="364.3" x2="182.12" y2="364.3" stroke="#c090e0" stroke-width="0.8" stroke-opacity="0.5"/>
<line x1="186.19" y1="321.8" x2="186.19" y2="362.55" stroke="#c090e0" stroke-width="0.6" stroke-opacity="0.07"/>
<line x1="184.89" y1="321.8" x2="187.49" y2="321.8" stroke="#c090e0" stroke-width="0.8" stroke-opacity="0.5"/>
<line x1="184.89" y1="362.55" x2="187.49" y2="362.55" stroke="#c090e0" stroke-width="0.8" stroke-opacity="0.5"/>
<line x1="191.56" y1="321.55" x2="191.56" y2="364.3" stroke="#c090e0" stroke-width="0.6" stroke-opacity="0.07"/>
<line x1="190.26" y1="321.55" x2="192.86" y2="321.55" stroke="#c090e0" stroke-width="0.8" stroke-opacity="0.5"/>
<line x1="190.26" y1="364.3" x2="192.86" y2="364.3" stroke="#c090e0" stroke-width="0.8" stroke-opacity="0.5"/>
<line x1="196.93" y1="323.15" x2="196.93" y2="364.3" stroke="#c090e0" stroke-width="0.6" stroke-opacity="0.07"/>
<line x1="195.63" y1="323.15" x2="198.23" y2="323.15" stroke="#c090e0" stroke-width="0.8" stroke-opacity="0.5"/>
<line x1="195.63" y1="364.3" x2="198.23" y2="364.3" stroke="#c090e0" stroke-width="0.8" stroke-opacity="0.5"/>
<line x1="202.3" y1="322.92" x2="202.3" y2="362.31" stroke="#c090e0" stroke-width="0.6" stroke-opacity="0.07"/>
<line x1="201" y1="322.92" x2="203.6" y2="322.92" stroke="#c090e0" stroke-width="0.8" stroke-opacity="0.5"/>
<line x1="201" y1="362.31" x2="203.6" y2="362.31" stroke="#c090e0" stroke-width="0.8" stroke-opacity="0.5"/>
<line x1="207.68" y1="321.22" x2="207.68" y2="364.3" stroke="#c090e0" stroke-width="0.6" stroke-opacity="0.07"/>
<line x1="206.38" y1="321.22" x2="208.98" y2="321.22" stroke="#c090e0" stroke-width="0.8" stroke-opacity="0.5"/>
<line x1="206.38" y1="364.3" x2="208.98" y2="364.3" stroke="#c090e0" stroke-width="0.8" stroke-opacity="0.5"/>
<line x1="213.05" y1="335.51" x2="213.05" y2="364.3" stroke="#c090e0" stroke-width="0.6" stroke-opacity="0.07"/>
<line x1="211.75" y1="335.51" x2="214.35" y2="335.51" stroke="#c090e0" stroke-width="0.8" stroke-opacity="0.5"/>
<line x1="211.75" y1="364.3" x2="214.35" y2="364.3" stroke="#c090e0" stroke-width="0.8" stroke-opacity="0.5"/>
<line x1="218.42" y1="323.92" x2="218.42" y2="364.3" stroke="#c090e0" stroke-width="0.6" stroke-opacity="0.07"/>
<line x1="217.12" y1="323.92" x2="219.72" y2="323.92" stroke="#c090e0" stroke-width="0.8" stroke-opacity="0.5"/>
<line x1="217.12" y1="364.3" x2="219.72" y2="364.3" stroke="#c090e0" stroke-width="0.8" stroke-opacity="0.5"/>
<line x1="223.79" y1="310.02" x2="223.79" y2="364.3" stroke="#c090e0" stroke-width="0.6" stroke-opacity="0.07"/>
<line x1="222.49" y1="310.02" x2="225.09" y2="310.02" stroke="#c090e0" stroke-width="0.8" stroke-opacity="0.5"/>
<line x1="222.49" y1="364.3" x2="225.09" y2="364.3" stroke="#c090e0" stroke-width="0.8" stroke-opacity="0.5"/>
<line x1="35.77" y1="286.94" x2="35.77" y2="348.36" stroke="#d8b050" stroke-width="0.6" stroke-opacity="0.16"/>
<line x1="34.47" y1="286.94" x2="37.07" y2="286.94" stroke="#d8b050" stroke-width="0.8" stroke-opacity="0.5"/>
<line x1="34.47" y1="348.36" x2="37.07" y2="348.36" stroke="#d8b050" stroke-width="0.8" stroke-opacity="0.5"/>
<line x1="41.14" y1="307.32" x2="41.14" y2="344.78" stroke="#d8b050" stroke-width="0.6" stroke-opacity="0.16"/>
<line x1="39.84" y1="307.32" x2="42.44" y2="307.32" stroke="#d8b050" stroke-width="0.8" stroke-opacity="0.5"/>
<line x1="39.84" y1="344.78" x2="42.44" y2="344.78" stroke="#d8b050" stroke-width="0.8" stroke-opacity="0.5"/>
<line x1="46.52" y1="312.37" x2="46.52" y2="351.85" stroke="#d8b050" stroke-width="0.6" stroke-opacity="0.16"/>
<line x1="45.22" y1="312.37" x2="47.82" y2="312.37" stroke="#d8b050" stroke-width="0.8" stroke-opacity="0.5"/>
<line x1="45.22" y1="351.85" x2="47.82" y2="351.85" stroke="#d8b050" stroke-width="0.8" stroke-opacity="0.5"/>
<line x1="51.89" y1="297.99" x2="51.89" y2="354.29" stroke="#d8b050" stroke-width="0.6" stroke-opacity="0.16"/>
<line x1="50.59" y1="297.99" x2="53.19" y2="297.99" stroke="#d8b050" stroke-width="0.8" stroke-opacity="0.5"/>
<line x1="50.59" y1="354.29" x2="53.19" y2="354.29" stroke="#d8b050" stroke-width="0.8" stroke-opacity="0.5"/>
<line x1="57.26" y1="293.09" x2="57.26" y2="349.34" stroke="#d8b050" stroke-width="0.6" stroke-opacity="0.16"/>
<line x1="55.96" y1="293.09" x2="58.56" y2="293.09" stroke="#d8b050" stroke-width="0.8" stroke-opacity="0.5"/>
<line x1="55.96" y1="349.34" x2="58.56" y2="349.34" stroke="#d8b050" stroke-width="0.8" stroke-opacity="0.5"/>
<line x1="62.63" y1="295.93" x2="62.63" y2="348.7" stroke="#d8b050" stroke-width="0.6" stroke-opacity="0.16"/>
<line x1="61.33" y1="295.93" x2="63.93" y2="295.93" stroke="#d8b050" stroke-width="0.8" stroke-opacity="0.5"/>
<line x1="61.33" y1="348.7" x2="63.93" y2="348.7" stroke="#d8b050" stroke-width="0.8" stroke-opacity="0.5"/>
<line x1="68" y1="315.25" x2="68" y2="350.26" stroke="#d8b050" stroke-width="0.6" stroke-opacity="0.16"/>
<line x1="66.7" y1="315.25" x2="69.3" y2="315.25" stroke="#d8b050" stroke-width="0.8" stroke-opacity="0.5"/>
<line x1="66.7" y1="350.26" x2="69.3" y2="350.26" stroke="#d8b050" stroke-width="0.8" stroke-opacity="0.5"/>
<line x1="73.38" y1="316.35" x2="73.38" y2="340.86" stroke="#d8b050" stroke-width="0.6" stroke-opacity="0.16"/>
<line x1="72.08" y1="316.35" x2="74.68" y2="316.35" stroke="#d8b050" stroke-width="0.8" stroke-opacity="0.5"/>
<line x1="72.08" y1="340.86" x2="74.68" y2="340.86" stroke="#d8b050" stroke-width="0.8" stroke-opacity="0.5"/>
<line x1="78.75" y1="297.07" x2="78.75" y2="342.02" stroke="#d8b050" stroke-width="0.6" stroke-opacity="0.16"/>
<line x1="77.45" y1="297.07" x2="80.05" y2="297.07" stroke="#d8b050" stroke-width="0.8" stroke-opacity="0.5"/>
<line x1="77.45" y1="342.02" x2="80.05" y2="342.02" stroke="#d8b050" stroke-width="0.8" stroke-opacity="0.5"/>
<line x1="84.12" y1="317.88" x2="84.12" y2="344.12" stroke="#d8b050" stroke-width="0.6" stroke-opacity="0.16"/>
<line x1="82.82" y1="317.88" x2="85.42" y2="317.88" stroke="#d8b050" stroke-width="0.8" stroke-opacity="0.5"/>
<line x1="82.82" y1="344.12" x2="85.42" y2="344.12" stroke="#d8b050" stroke-width="0.8" stroke-opacity="0.5"/>
<line x1="89.49" y1="294.01" x2="89.49" y2="344.35" stroke="#d8b050" stroke-width="0.6" stroke-opacity="0.16"/>
<line x1="88.19" y1="294.01" x2="90.79" y2="294.01" stroke="#d8b050" stroke-width="0.8" stroke-opacity="0.5"/>
<line x1="88.19" y1="344.35" x2="90.79" y2="344.35" stroke="#d8b050" stroke-width="0.8" stroke-opacity="0.5"/>
<line x1="94.86" y1="318.46" x2="94.86" y2="355.57" stroke="#d8b050" stroke-width="0.6" stroke-opacity="0.16"/>
<line x1="93.56" y1="318.46" x2="96.16" y2="318.46" stroke="#d8b050" stroke-width="0.8" stroke-opacity="0.5"/>
<line x1="93.56" y1="355.57" x2="96.16" y2="355.57" stroke="#d8b050" stroke-width="0.8" stroke-opacity="0.5"/>
<line x1="100.24" y1="318.87" x2="100.24" y2="358.83" stroke="#d8b050" stroke-width="0.6" stroke-opacity="0.16"/>
<line x1="98.94" y1="318.87" x2="101.54" y2="318.87" stroke="#d8b050" stroke-width="0.8" stroke-opacity="0.5"/>
<line x1="98.94" y1="358.83" x2="101.54" y2="358.83" stroke="#d8b050" stroke-width="0.8" stroke-opacity="0.5"/>
<line x1="105.61" y1="299.05" x2="105.61" y2="354.78" stroke="#d8b050" stroke-width="0.6" stroke-opacity="0.16"/>
<line x1="104.31" y1="299.05" x2="106.91" y2="299.05" stroke="#d8b050" stroke-width="0.8" stroke-opacity="0.5"/>
<line x1="104.31" y1="354.78" x2="106.91" y2="354.78" stroke="#d8b050" stroke-width="0.8" stroke-opacity="0.5"/>
<line x1="110.98" y1="287.91" x2="110.98" y2="347.23" stroke="#d8b050" stroke-width="0.6" stroke-opacity="0.16"/>
<line x1="109.68" y1="287.91" x2="112.28" y2="287.91" stroke="#d8b050" stroke-width="0.8" stroke-opacity="0.5"/>
<line x1="109.68" y1="347.23" x2="112.28" y2="347.23" stroke="#d8b050" stroke-width="0.8" stroke-opacity="0.5"/>
<line x1="116.35" y1="296.13" x2="116.35" y2="341.65" stroke="#d8b050" stroke-width="0.6" stroke-opacity="0.16"/>
<line x1="115.05" y1="296.13" x2="117.65" y2="296.13" stroke="#d8b050" stroke-width="0.8" stroke-opacity="0.5"/>
<line x1="115.05" y1="341.65" x2="117.65" y2="341.65" stroke="#d8b050" stroke-width="0.8" stroke-opacity="0.5"/>
<line x1="121.72" y1="297.5" x2="121.72" y2="350.32" stroke="#d8b050" stroke-width="0.6" stroke-opacity="0.16"/>
<line x1="120.42" y1="297.5" x2="123.02" y2="297.5" stroke="#d8b050" stroke-width="0.8" stroke-opacity="0.5"/>
<line x1="120.42" y1="350.32" x2="123.02" y2="350.32" stroke="#d8b050" stroke-width="0.8" stroke-opacity="0.5"/>
<line x1="127.1" y1="297.39" x2="127.1" y2="341.72" stroke="#d8b050" stroke-width="0.6" stroke-opacity="0.16"/>
<line x1="125.8" y1="297.39" x2="128.4" y2="297.39" stroke="#d8b050" stroke-width="0.8" stroke-opacity="0.5"/>
<line x1="125.8" y1="341.72" x2="128.4" y2="341.72" stroke="#d8b050" stroke-width="0.8" stroke-opacity="0.5"/>
<line x1="132.47" y1="295.72" x2="132.47" y2="355.33" stroke="#d8b050" stroke-width="0.6" stroke-opacity="0.16"/>
<line x1="131.17" y1="295.72" x2="133.77" y2="295.72" stroke="#d8b050" stroke-width="0.8" stroke-opacity="0.5"/>
<line x1="131.17" y1="355.33" x2="133.77" y2="355.33" stroke="#d8b050" stroke-width="0.8" stroke-opacity="0.5"/>
<line x1="137.84" y1="316.22" x2="137.84" y2="345.48" stroke="#d8b050" stroke-width="0.6" stroke-opacity="0.16"/>
<line x1="136.54" y1="316.22" x2="139.14" y2="316.22" stroke="#d8b050" stroke-width="0.8" stroke-opacity="0.5"/>
<line x1="136.54" y1="345.48" x2="139.14" y2="345.48" stroke="#d8b050" stroke-width="0.8" stroke-opacity="0.5"/>
<line x1="143.21" y1="302.9" x2="143.21" y2="355.33" stroke="#d8b050" stroke-width="0.6" stroke-opacity="0.16"/>
<line x1="141.91" y1="302.9" x2="144.51" y2="302.9" stroke="#d8b050" stroke-width="0.8" stroke-opacity="0.5"/>
<line x1="141.91" y1="355.33" x2="144.51" y2="355.33" stroke="#d8b050" stroke-width="0.8" stroke-opacity="0.5"/>
<line x1="148.58" y1="313.55" x2="148.58" y2="345.51" stroke="#d8b050" stroke-width="0.6" stroke-opacity="0.16"/>
<line x1="147.28" y1="313.55" x2="149.88" y2="313.55" stroke="#d8b050" stroke-width="0.8" stroke-opacity="0.5"/>
<line x1="147.28" y1="345.51" x2="149.88" y2="345.51" stroke="#d8b050" stroke-width="0.8" stroke-opacity="0.5"/>
<line x1="153.96" y1="315.16" x2="153.96" y2="354.9" stroke="#d8b050" stroke-width="0.6" stroke-opacity="0.16"/>
<line x1="152.66" y1="315.16" x2="155.26" y2="315.16" stroke="#d8b050" stroke-width="0.8" stroke-opacity="0.5"/>
<line x1="152.66" y1="354.9" x2="155.26" y2="354.9" stroke="#d8b050" stroke-width="0.8" stroke-opacity="0.5"/>
<line x1="159.33" y1="300.66" x2="159.33" y2="351.05" stroke="#d8b050" stroke-width="0.6" stroke-opacity="0.16"/>
<line x1="158.03" y1="300.66" x2="160.63" y2="300.66" stroke="#d8b050" stroke-width="0.8" stroke-opacity="0.5"/>
<line x1="158.03" y1="351.05" x2="160.63" y2="351.05" stroke="#d8b050" stroke-width="0.8" stroke-opacity="0.5"/>
<line x1="164.7" y1="311.43" x2="164.7" y2="350.76" stroke="#d8b050" stroke-width="0.6" stroke-opacity="0.16"/>
<line x1="163.4" y1="311.43" x2="166" y2="311.43" stroke="#d8b050" stroke-width="0.8" stroke-opacity="0.5"/>
<line x1="163.4" y1="350.76" x2="166" y2="350.76" stroke="#d8b050" stroke-width="0.8" stroke-opacity="0.5"/>
<line x1="170.07" y1="313.31" x2="170.07" y2="352.51" stroke="#d8b050" stroke-width="0.6" stroke-opacity="0.16"/>
<line x1="168.77" y1="313.31" x2="171.37" y2="313.31" stroke="#d8b050" stroke-width="0.8" stroke-opacity="0.5"/>
<line x1="168.77" y1="352.51" x2="171.37" y2="352.51" stroke="#d8b050" stroke-width="0.8" stroke-opacity="0.5"/>
<line x1="175.44" y1="322.61" x2="175.44" y2="355.55" stroke="#d8b050" stroke-width="0.6" stroke-opacity="0.16"/>
<line x1="174.14" y1="322.61" x2="176.74" y2="322.61" stroke="#d8b050" stroke-width="0.8" stroke-opacity="0.5"/>
<line x1="174.14" y1="355.55" x2="176.74" y2="355.55" stroke="#d8b050" stroke-width="0.8" stroke-opacity="0.5"/>
<line x1="180.82" y1="297.91" x2="180.82" y2="354.96" stroke="#d8b050" stroke-width="0.6" stroke-opacity="0.16"/>
<line x1="179.52" y1="297.91" x2="182.12" y2="297.91" stroke="#d8b050" stroke-width="0.8" stroke-opacity="0.5"/>
<line x1="179.52" y1="354.96" x2="182.12" y2="354.96" stroke="#d8b050" stroke-width="0.8" stroke-opacity="0.5"/>
<line x1="186.19" y1="305.68" x2="186.19" y2="351.87" stroke="#d8b050" stroke-width="0.6" stroke-opacity="0.16"/>
<line x1="184.89" y1="305.68" x2="187.49" y2="305.68" stroke="#d8b050" stroke-width="0.8" stroke-opacity="0.5"/>
<line x1="184.89" y1="351.87" x2="187.49" y2="351.87" stroke="#d8b050" stroke-width="0.8" stroke-opacity="0.5"/>
<line x1="191.56" y1="306.04" x2="191.56" y2="360.89" stroke="#d8b050" stroke-width="0.6" stroke-opacity="0.16"/>
<line x1="190.26" y1="306.04" x2="192.86" y2="306.04" stroke="#d8b050" stroke-width="0.8" stroke-opacity="0.5"/>
<line x1="190.26" y1="360.89" x2="192.86" y2="360.89" stroke="#d8b050" stroke-width="0.8" stroke-opacity="0.5"/>
<line x1="196.93" y1="305.61" x2="196.93" y2="355.84" stroke="#d8b050" stroke-width="0.6" stroke-opacity="0.16"/>
<line x1="195.63" y1="305.61" x2="198.23" y2="305.61" stroke="#d8b050" stroke-width="0.8" stroke-opacity="0.5"/>
<line x1="195.63" y1="355.84" x2="198.23" y2="355.84" stroke="#d8b050" stroke-width="0.8" stroke-opacity="0.5"/>
<line x1="202.3" y1="313.27" x2="202.3" y2="360.2" stroke="#d8b050" stroke-width="0.6" stroke-opacity="0.16"/>
<line x1="201" y1="313.27" x2="203.6" y2="313.27" stroke="#d8b050" stroke-width="0.8" stroke-opacity="0.5"/>
<line x1="201" y1="360.2" x2="203.6" y2="360.2" stroke="#d8b050" stroke-width="0.8" stroke-opacity="0.5"/>
<line x1="207.68" y1="301.7" x2="207.68" y2="352.02" stroke="#d8b050" stroke-width="0.6" stroke-opacity="0.16"/>
<line x1="206.38" y1="301.7" x2="208.98" y2="301.7" stroke="#d8b050" stroke-width="0.8" stroke-opacity="0.5"/>
<line x1="206.38" y1="352.02" x2="208.98" y2="352.02" stroke="#d8b050" stroke-width="0.8" stroke-opacity="0.5"/>
<line x1="213.05" y1="325.25" x2="213.05" y2="362.82" stroke="#d8b050" stroke-width="0.6" stroke-opacity="0.16"/>
<line x1="211.75" y1="325.25" x2="214.35" y2="325.25" stroke="#d8b050" stroke-width="0.8" stroke-opacity="0.5"/>
<line x1="211.75" y1="362.82" x2="214.35" y2="362.82" stroke="#d8b050" stroke-width="0.8" stroke-opacity="0.5"/>
<line x1="218.42" y1="300.8" x2="218.42" y2="358.03" stroke="#d8b050" stroke-width="0.6" stroke-opacity="0.16"/>
<line x1="217.12" y1="300.8" x2="219.72" y2="300.8" stroke="#d8b050" stroke-width="0.8" stroke-opacity="0.5"/>
<line x1="217.12" y1="358.03" x2="219.72" y2="358.03" stroke="#d8b050" stroke-width="0.8" stroke-opacity="0.5"/>
<line x1="223.79" y1="312.25" x2="223.79" y2="359.32" stroke="#d8b050" stroke-width="0.6" stroke-opacity="0.16"/>
<line x1="222.49" y1="312.25" x2="225.09" y2="312.25" stroke="#d8b050" stroke-width="0.8" stroke-opacity="0.5"/>
<line x1="222.49" y1="359.32" x2="225.09" y2="359.32" stroke="#d8b050" stroke-width="0.8" stroke-opacity="0.5"/>
<line x1="35.77" y1="316.66" x2="35.77" y2="348.53" stroke="#38cccc" stroke-width="0.6" stroke-opacity="0.07"/>
<line x1="34.47" y1="316.66" x2="37.07" y2="316.66" stroke="#38cccc" stroke-width="0.8" stroke-opacity="0.5"/>
<line x1="34.47" y1="348.53" x2="37.07" y2="348.53" stroke="#38cccc" stroke-width="0.8" stroke-opacity="0.5"/>
<line x1="41.14" y1="299.92" x2="41.14" y2="337.67" stroke="#38cccc" stroke-width="0.6" stroke-opacity="0.07"/>
<line x1="39.84" y1="299.92" x2="42.44" y2="299.92" stroke="#38cccc" stroke-width="0.8" stroke-opacity="0.5"/>
<line x1="39.84" y1="337.67" x2="42.44" y2="337.67" stroke="#38cccc" stroke-width="0.8" stroke-opacity="0.5"/>
<line x1="46.52" y1="303.73" x2="46.52" y2="338.7" stroke="#38cccc" stroke-width="0.6" stroke-opacity="0.07"/>
<line x1="45.22" y1="303.73" x2="47.82" y2="303.73" stroke="#38cccc" stroke-width="0.8" stroke-opacity="0.5"/>
<line x1="45.22" y1="338.7" x2="47.82" y2="338.7" stroke="#38cccc" stroke-width="0.8" stroke-opacity="0.5"/>
<line x1="51.89" y1="293.93" x2="51.89" y2="352.2" stroke="#38cccc" stroke-width="0.6" stroke-opacity="0.07"/>
<line x1="50.59" y1="293.93" x2="53.19" y2="293.93" stroke="#38cccc" stroke-width="0.8" stroke-opacity="0.5"/>
<line x1="50.59" y1="352.2" x2="53.19" y2="352.2" stroke="#38cccc" stroke-width="0.8" stroke-opacity="0.5"/>
<line x1="57.26" y1="302.9" x2="57.26" y2="345.5" stroke="#38cccc" stroke-width="0.6" stroke-opacity="0.07"/>
<line x1="55.96" y1="302.9" x2="58.56" y2="302.9" stroke="#38cccc" stroke-width="0.8" stroke-opacity="0.5"/>
<line x1="55.96" y1="345.5" x2="58.56" y2="345.5" stroke="#38cccc" stroke-width="0.8" stroke-opacity="0.5"/>
<line x1="62.63" y1="302.98" x2="62.63" y2="351.51" stroke="#38cccc" stroke-width="0.6" stroke-opacity="0.07"/>
<line x1="61.33" y1="302.98" x2="63.93" y2="302.98" stroke="#38cccc" stroke-width="0.8" stroke-opacity="0.5"/>
<line x1="61.33" y1="351.51" x2="63.93" y2="351.51" stroke="#38cccc" stroke-width="0.8" stroke-opacity="0.5"/>
<line x1="68" y1="295.96" x2="68" y2="339.31" stroke="#38cccc" stroke-width="0.6" stroke-opacity="0.07"/>
<line x1="66.7" y1="295.96" x2="69.3" y2="295.96" stroke="#38cccc" stroke-width="0.8" stroke-opacity="0.5"/>
<line x1="66.7" y1="339.31" x2="69.3" y2="339.31" stroke="#38cccc" stroke-width="0.8" stroke-opacity="0.5"/>
<line x1="73.38" y1="307" x2="73.38" y2="335.55" stroke="#38cccc" stroke-width="0.6" stroke-opacity="0.07"/>
<line x1="72.08" y1="307" x2="74.68" y2="307" stroke="#38cccc" stroke-width="0.8" stroke-opacity="0.5"/>
<line x1="72.08" y1="335.55" x2="74.68" y2="335.55" stroke="#38cccc" stroke-width="0.8" stroke-opacity="0.5"/>
<line x1="78.75" y1="300.03" x2="78.75" y2="342.34" stroke="#38cccc" stroke-width="0.6" stroke-opacity="0.07"/>
<line x1="77.45" y1="300.03" x2="80.05" y2="300.03" stroke="#38cccc" stroke-width="0.8" stroke-opacity="0.5"/>
<line x1="77.45" y1="342.34" x2="80.05" y2="342.34" stroke="#38cccc" stroke-width="0.8" stroke-opacity="0.5"/>
<line x1="84.12" y1="305.77" x2="84.12" y2="338.84" stroke="#38cccc" stroke-width="0.6" stroke-opacity="0.07"/>
<line x1="82.82" y1="305.77" x2="85.42" y2="305.77" stroke="#38cccc" stroke-width="0.8" stroke-opacity="0.5"/>
<line x1="82.82" y1="338.84" x2="85.42" y2="338.84" stroke="#38cccc" stroke-width="0.8" stroke-opacity="0.5"/>
<line x1="89.49" y1="303.53" x2="89.49" y2="348.07" stroke="#38cccc" stroke-width="0.6" stroke-opacity="0.07"/>
<line x1="88.19" y1="303.53" x2="90.79" y2="303.53" stroke="#38cccc" stroke-width="0.8" stroke-opacity="0.5"/>
<line x1="88.19" y1="348.07" x2="90.79" y2="348.07" stroke="#38cccc" stroke-width="0.8" stroke-opacity="0.5"/>
<line x1="94.86" y1="308.09" x2="94.86" y2="351.24" stroke="#38cccc" stroke-width="0.6" stroke-opacity="0.07"/>
<line x1="93.56" y1="308.09" x2="96.16" y2="308.09" stroke="#38cccc" stroke-width="0.8" stroke-opacity="0.5"/>
<line x1="93.56" y1="351.24" x2="96.16" y2="351.24" stroke="#38cccc" stroke-width="0.8" stroke-opacity="0.5"/>
<line x1="100.24" y1="308.55" x2="100.24" y2="354.6" stroke="#38cccc" stroke-width="0.6" stroke-opacity="0.07"/>
<line x1="98.94" y1="308.55" x2="101.54" y2="308.55" stroke="#38cccc" stroke-width="0.8" stroke-opacity="0.5"/>
<line x1="98.94" y1="354.6" x2="101.54" y2="354.6" stroke="#38cccc" stroke-width="0.8" stroke-opacity="0.5"/>
<line x1="105.61" y1="301.86" x2="105.61" y2="351.65" stroke="#38cccc" stroke-width="0.6" stroke-opacity="0.07"/>
<line x1="104.31" y1="301.86" x2="106.91" y2="301.86" stroke="#38cccc" stroke-width="0.8" stroke-opacity="0.5"/>
<line x1="104.31" y1="351.65" x2="106.91" y2="351.65" stroke="#38cccc" stroke-width="0.8" stroke-opacity="0.5"/>
<line x1="110.98" y1="296.86" x2="110.98" y2="352.04" stroke="#38cccc" stroke-width="0.6" stroke-opacity="0.07"/>
<line x1="109.68" y1="296.86" x2="112.28" y2="296.86" stroke="#38cccc" stroke-width="0.8" stroke-opacity="0.5"/>
<line x1="109.68" y1="352.04" x2="112.28" y2="352.04" stroke="#38cccc" stroke-width="0.8" stroke-opacity="0.5"/>
<line x1="116.35" y1="305.28" x2="116.35" y2="353.48" stroke="#38cccc" stroke-width="0.6" stroke-opacity="0.07"/>
<line x1="115.05" y1="305.28" x2="117.65" y2="305.28" stroke="#38cccc" stroke-width="0.8" stroke-opacity="0.5"/>
<line x1="115.05" y1="353.48" x2="117.65" y2="353.48" stroke="#38cccc" stroke-width="0.8" stroke-opacity="0.5"/>
<line x1="121.72" y1="291.82" x2="121.72" y2="345.29" stroke="#38cccc" stroke-width="0.6" stroke-opacity="0.07"/>
<line x1="120.42" y1="291.82" x2="123.02" y2="291.82" stroke="#38cccc" stroke-width="0.8" stroke-opacity="0.5"/>
<line x1="120.42" y1="345.29" x2="123.02" y2="345.29" stroke="#38cccc" stroke-width="0.8" stroke-opacity="0.5"/>
<line x1="127.1" y1="290.41" x2="127.1" y2="350.02" stroke="#38cccc" stroke-width="0.6" stroke-opacity="0.07"/>
<line x1="125.8" y1="290.41" x2="128.4" y2="290.41" stroke="#38cccc" stroke-width="0.8" stroke-opacity="0.5"/>
<line x1="125.8" y1="350.02" x2="128.4" y2="350.02" stroke="#38cccc" stroke-width="0.8" stroke-opacity="0.5"/>
<line x1="132.47" y1="301.3" x2="132.47" y2="340.62" stroke="#38cccc" stroke-width="0.6" stroke-opacity="0.07"/>
<line x1="131.17" y1="301.3" x2="133.77" y2="301.3" stroke="#38cccc" stroke-width="0.8" stroke-opacity="0.5"/>
<line x1="131.17" y1="340.62" x2="133.77" y2="340.62" stroke="#38cccc" stroke-width="0.8" stroke-opacity="0.5"/>
<line x1="137.84" y1="312.03" x2="137.84" y2="353.08" stroke="#38cccc" stroke-width="0.6" stroke-opacity="0.07"/>
<line x1="136.54" y1="312.03" x2="139.14" y2="312.03" stroke="#38cccc" stroke-width="0.8" stroke-opacity="0.5"/>
<line x1="136.54" y1="353.08" x2="139.14" y2="353.08" stroke="#38cccc" stroke-width="0.8" stroke-opacity="0.5"/>
<line x1="143.21" y1="299.92" x2="143.21" y2="357.82" stroke="#38cccc" stroke-width="0.6" stroke-opacity="0.07"/>
<line x1="141.91" y1="299.92" x2="144.51" y2="299.92" stroke="#38cccc" stroke-width="0.8" stroke-opacity="0.5"/>
<line x1="141.91" y1="357.82" x2="144.51" y2="357.82" stroke="#38cccc" stroke-width="0.8" stroke-opacity="0.5"/>
<line x1="148.58" y1="295.93" x2="148.58" y2="346.59" stroke="#38cccc" stroke-width="0.6" stroke-opacity="0.07"/>
<line x1="147.28" y1="295.93" x2="149.88" y2="295.93" stroke="#38cccc" stroke-width="0.8" stroke-opacity="0.5"/>
<line x1="147.28" y1="346.59" x2="149.88" y2="346.59" stroke="#38cccc" stroke-width="0.8" stroke-opacity="0.5"/>
<line x1="153.96" y1="317.36" x2="153.96" y2="349.18" stroke="#38cccc" stroke-width="0.6" stroke-opacity="0.07"/>
<line x1="152.66" y1="317.36" x2="155.26" y2="317.36" stroke="#38cccc" stroke-width="0.8" stroke-opacity="0.5"/>
<line x1="152.66" y1="349.18" x2="155.26" y2="349.18" stroke="#38cccc" stroke-width="0.8" stroke-opacity="0.5"/>
<line x1="159.33" y1="312.83" x2="159.33" y2="352.28" stroke="#38cccc" stroke-width="0.6" stroke-opacity="0.07"/>
<line x1="158.03" y1="312.83" x2="160.63" y2="312.83" stroke="#38cccc" stroke-width="0.8" stroke-opacity="0.5"/>
<line x1="158.03" y1="352.28" x2="160.63" y2="352.28" stroke="#38cccc" stroke-width="0.8" stroke-opacity="0.5"/>
<line x1="164.7" y1="291.88" x2="164.7" y2="354.04" stroke="#38cccc" stroke-width="0.6" stroke-opacity="0.07"/>
<line x1="163.4" y1="291.88" x2="166" y2="291.88" stroke="#38cccc" stroke-width="0.8" stroke-opacity="0.5"/>
<line x1="163.4" y1="354.04" x2="166" y2="354.04" stroke="#38cccc" stroke-width="0.8" stroke-opacity="0.5"/>
<line x1="170.07" y1="309.26" x2="170.07" y2="353.44" stroke="#38cccc" stroke-width="0.6" stroke-opacity="0.07"/>
<line x1="168.77" y1="309.26" x2="171.37" y2="309.26" stroke="#38cccc" stroke-width="0.8" stroke-opacity="0.5"/>
<line x1="168.77" y1="353.44" x2="171.37" y2="353.44" stroke="#38cccc" stroke-width="0.8" stroke-opacity="0.5"/>
<line x1="175.44" y1="309.88" x2="175.44" y2="348.11" stroke="#38cccc" stroke-width="0.6" stroke-opacity="0.07"/>
<line x1="174.14" y1="309.88" x2="176.74" y2="309.88" stroke="#38cccc" stroke-width="0.8" stroke-opacity="0.5"/>
<line x1="174.14" y1="348.11" x2="176.74" y2="348.11" stroke="#38cccc" stroke-width="0.8" stroke-opacity="0.5"/>
<line x1="180.82" y1="295.61" x2="180.82" y2="339.98" stroke="#38cccc" stroke-width="0.6" stroke-opacity="0.07"/>
<line x1="179.52" y1="295.61" x2="182.12" y2="295.61" stroke="#38cccc" stroke-width="0.8" stroke-opacity="0.5"/>
<line x1="179.52" y1="339.98" x2="182.12" y2="339.98" stroke="#38cccc" stroke-width="0.8" stroke-opacity="0.5"/>
<line x1="186.19" y1="315.09" x2="186.19" y2="354.05" stroke="#38cccc" stroke-width="0.6" stroke-opacity="0.07"/>
<line x1="184.89" y1="315.09" x2="187.49" y2="315.09" stroke="#38cccc" stroke-width="0.8" stroke-opacity="0.5"/>
<line x1="184.89" y1="354.05" x2="187.49" y2="354.05" stroke="#38cccc" stroke-width="0.8" stroke-opacity="0.5"/>
<line x1="191.56" y1="309.35" x2="191.56" y2="345.81" stroke="#38cccc" stroke-width="0.6" stroke-opacity="0.07"/>
<line x1="190.26" y1="309.35" x2="192.86" y2="309.35" stroke="#38cccc" stroke-width="0.8" stroke-opacity="0.5"/>
<line x1="190.26" y1="345.81" x2="192.86" y2="345.81" stroke="#38cccc" stroke-width="0.8" stroke-opacity="0.5"/>
<line x1="196.93" y1="303.12" x2="196.93" y2="353.39" stroke="#38cccc" stroke-width="0.6" stroke-opacity="0.07"/>
<line x1="195.63" y1="303.12" x2="198.23" y2="303.12" stroke="#38cccc" stroke-width="0.8" stroke-opacity="0.5"/>
<line x1="195.63" y1="353.39" x2="198.23" y2="353.39" stroke="#38cccc" stroke-width="0.8" stroke-opacity="0.5"/>
<line x1="202.3" y1="319.63" x2="202.3" y2="347.5" stroke="#38cccc" stroke-width="0.6" stroke-opacity="0.07"/>
<line x1="201" y1="319.63" x2="203.6" y2="319.63" stroke="#38cccc" stroke-width="0.8" stroke-opacity="0.5"/>
<line x1="201" y1="347.5" x2="203.6" y2="347.5" stroke="#38cccc" stroke-width="0.8" stroke-opacity="0.5"/>
<line x1="207.68" y1="304.04" x2="207.68" y2="346.89" stroke="#38cccc" stroke-width="0.6" stroke-opacity="0.07"/>
<line x1="206.38" y1="304.04" x2="208.98" y2="304.04" stroke="#38cccc" stroke-width="0.8" stroke-opacity="0.5"/>
<line x1="206.38" y1="346.89" x2="208.98" y2="346.89" stroke="#38cccc" stroke-width="0.8" stroke-opacity="0.5"/>
<line x1="213.05" y1="313.78" x2="213.05" y2="351.83" stroke="#38cccc" stroke-width="0.6" stroke-opacity="0.07"/>
<line x1="211.75" y1="313.78" x2="214.35" y2="313.78" stroke="#38cccc" stroke-width="0.8" stroke-opacity="0.5"/>
<line x1="211.75" y1="351.83" x2="214.35" y2="351.83" stroke="#38cccc" stroke-width="0.8" stroke-opacity="0.5"/>
<line x1="218.42" y1="298.42" x2="218.42" y2="354.58" stroke="#38cccc" stroke-width="0.6" stroke-opacity="0.07"/>
<line x1="217.12" y1="298.42" x2="219.72" y2="298.42" stroke="#38cccc" stroke-width="0.8" stroke-opacity="0.5"/>
<line x1="217.12" y1="354.58" x2="219.72" y2="354.58" stroke="#38cccc" stroke-width="0.8" stroke-opacity="0.5"/>
<line x1="223.79" y1="300.93" x2="223.79" y2="340.55" stroke="#38cccc" stroke-width="0.6" stroke-opacity="0.07"/>
<line x1="222.49" y1="300.93" x2="225.09" y2="300.93" stroke="#38cccc" stroke-width="0.8" stroke-opacity="0.5"/>
<line x1="222.49" y1="340.55" x2="225.09" y2="340.55" stroke="#38cccc" stroke-width="0.8" stroke-opacity="0.5"/>
<line x1="35.77" y1="309.96" x2="35.77" y2="351.26" stroke="#8f7272" stroke-width="0.6" stroke-opacity="0.07"/>
<line x1="34.47" y1="309.96" x2="37.07" y2="309.96" stroke="#8f7272" stroke-width="0.8" stroke-opacity="0.5"/>
<line x1="34.47" y1="351.26" x2="37.07" y2="351.26" stroke="#8f7272" stroke-width="0.8" stroke-opacity="0.5"/>
<line x1="41.14" y1="324.88" x2="41.14" y2="364.3" stroke="#8f7272" stroke-width="0.6" stroke-opacity="0.07"/>
<line x1="39.84" y1="324.88" x2="42.44" y2="324.88" stroke="#8f7272" stroke-width="0.8" stroke-opacity="0.5"/>
<line x1="39.84" y1="364.3" x2="42.44" y2="364.3" stroke="#8f7272" stroke-width="0.8" stroke-opacity="0.5"/>
<line x1="46.52" y1="293.77" x2="46.52" y2="343.51" stroke="#8f7272" stroke-width="0.6" stroke-opacity="0.07"/>
<line x1="45.22" y1="293.77" x2="47.82" y2="293.77" stroke="#8f7272" stroke-width="0.8" stroke-opacity="0.5"/>
<line x1="45.22" y1="343.51" x2="47.82" y2="343.51" stroke="#8f7272" stroke-width="0.8" stroke-opacity="0.5"/>
<line x1="51.89" y1="293.87" x2="51.89" y2="349.34" stroke="#8f7272" stroke-width="0.6" stroke-opacity="0.07"/>
<line x1="50.59" y1="293.87" x2="53.19" y2="293.87" stroke="#8f7272" stroke-width="0.8" stroke-opacity="0.5"/>
<line x1="50.59" y1="349.34" x2="53.19" y2="349.34" stroke="#8f7272" stroke-width="0.8" stroke-opacity="0.5"/>
<line x1="57.26" y1="300.23" x2="57.26" y2="357.45" stroke="#8f7272" stroke-width="0.6" stroke-opacity="0.07"/>
<line x1="55.96" y1="300.23" x2="58.56" y2="300.23" stroke="#8f7272" stroke-width="0.8" stroke-opacity="0.5"/>
<line x1="55.96" y1="357.45" x2="58.56" y2="357.45" stroke="#8f7272" stroke-width="0.8" stroke-opacity="0.5"/>
<line x1="62.63" y1="317.54" x2="62.63" y2="359.62" stroke="#8f7272" stroke-width="0.6" stroke-opacity="0.07"/>
<line x1="61.33" y1="317.54" x2="63.93" y2="317.54" stroke="#8f7272" stroke-width="0.8" stroke-opacity="0.5"/>
<line x1="61.33" y1="359.62" x2="63.93" y2="359.62" stroke="#8f7272" stroke-width="0.8" stroke-opacity="0.5"/>
<line x1="68" y1="301.11" x2="68" y2="355.76" stroke="#8f7272" stroke-width="0.6" stroke-opacity="0.07"/>
<line x1="66.7" y1="301.11" x2="69.3" y2="301.11" stroke="#8f7272" stroke-width="0.8" stroke-opacity="0.5"/>
<line x1="66.7" y1="355.76" x2="69.3" y2="355.76" stroke="#8f7272" stroke-width="0.8" stroke-opacity="0.5"/>
<line x1="73.38" y1="315.17" x2="73.38" y2="357.74" stroke="#8f7272" stroke-width="0.6" stroke-opacity="0.07"/>
<line x1="72.08" y1="315.17" x2="74.68" y2="315.17" stroke="#8f7272" stroke-width="0.8" stroke-opacity="0.5"/>
<line x1="72.08" y1="357.74" x2="74.68" y2="357.74" stroke="#8f7272" stroke-width="0.8" stroke-opacity="0.5"/>
<line x1="78.75" y1="289.38" x2="78.75" y2="350.58" stroke="#8f7272" stroke-width="0.6" stroke-opacity="0.07"/>
<line x1="77.45" y1="289.38" x2="80.05" y2="289.38" stroke="#8f7272" stroke-width="0.8" stroke-opacity="0.5"/>
<line x1="77.45" y1="350.58" x2="80.05" y2="350.58" stroke="#8f7272" stroke-width="0.8" stroke-opacity="0.5"/>
<line x1="84.12" y1="307.38" x2="84.12" y2="346.67" stroke="#8f7272" stroke-width="0.6" stroke-opacity="0.07"/>
<line x1="82.82" y1="307.38" x2="85.42" y2="307.38" stroke="#8f7272" stroke-width="0.8" stroke-opacity="0.5"/>
<line x1="82.82" y1="346.67" x2="85.42" y2="346.67" stroke="#8f7272" stroke-width="0.8" stroke-opacity="0.5"/>
<line x1="89.49" y1="306.3" x2="89.49" y2="348.49" stroke="#8f7272" stroke-width="0.6" stroke-opacity="0.07"/>
<line x1="88.19" y1="306.3" x2="90.79" y2="306.3" stroke="#8f7272" stroke-width="0.8" stroke-opacity="0.5"/>
<line x1="88.19" y1="348.49" x2="90.79" y2="348.49" stroke="#8f7272" stroke-width="0.8" stroke-opacity="0.5"/>
<line x1="94.86" y1="300.41" x2="94.86" y2="354.71" stroke="#8f7272" stroke-width="0.6" stroke-opacity="0.07"/>
<line x1="93.56" y1="300.41" x2="96.16" y2="300.41" stroke="#8f7272" stroke-width="0.8" stroke-opacity="0.5"/>
<line x1="93.56" y1="354.71" x2="96.16" y2="354.71" stroke="#8f7272" stroke-width="0.8" stroke-opacity="0.5"/>
<line x1="100.24" y1="313.77" x2="100.24" y2="355.11" stroke="#8f7272" stroke-width="0.6" stroke-opacity="0.07"/>
<line x1="98.94" y1="313.77" x2="101.54" y2="313.77" stroke="#8f7272" stroke-width="0.8" stroke-opacity="0.5"/>
<line x1="98.94" y1="355.11" x2="101.54" y2="355.11" stroke="#8f7272" stroke-width="0.8" stroke-opacity="0.5"/>
<line x1="105.61" y1="303.19" x2="105.61" y2="354.58" stroke="#8f7272" stroke-width="0.6" stroke-opacity="0.07"/>
<line x1="104.31" y1="303.19" x2="106.91" y2="303.19" stroke="#8f7272" stroke-width="0.8" stroke-opacity="0.5"/>
<line x1="104.31" y1="354.58" x2="106.91" y2="354.58" stroke="#8f7272" stroke-width="0.8" stroke-opacity="0.5"/>
<line x1="110.98" y1="315.94" x2="110.98" y2="358.36" stroke="#8f7272" stroke-width="0.6" stroke-opacity="0.07"/>
<line x1="109.68" y1="315.94" x2="112.28" y2="315.94" stroke="#8f7272" stroke-width="0.8" stroke-opacity="0.5"/>
<line x1="109.68" y1="358.36" x2="112.28" y2="358.36" stroke="#8f7272" stroke-width="0.8" stroke-opacity="0.5"/>
<line x1="116.35" y1="300.95" x2="116.35" y2="343.84" stroke="#8f7272" stroke-width="0.6" stroke-opacity="0.07"/>
<line x1="115.05" y1="300.95" x2="117.65" y2="300.95" stroke="#8f7272" stroke-width="0.8" stroke-opacity="0.5"/>
<line x1="115.05" y1="343.84" x2="117.65" y2="343.84" stroke="#8f7272" stroke-width="0.8" stroke-opacity="0.5"/>
<line x1="121.72" y1="296.79" x2="121.72" y2="347.96" stroke="#8f7272" stroke-width="0.6" stroke-opacity="0.07"/>
<line x1="120.42" y1="296.79" x2="123.02" y2="296.79" stroke="#8f7272" stroke-width="0.8" stroke-opacity="0.5"/>
<line x1="120.42" y1="347.96" x2="123.02" y2="347.96" stroke="#8f7272" stroke-width="0.8" stroke-opacity="0.5"/>
<line x1="127.1" y1="310.97" x2="127.1" y2="354.86" stroke="#8f7272" stroke-width="0.6" stroke-opacity="0.07"/>
<line x1="125.8" y1="310.97" x2="128.4" y2="310.97" stroke="#8f7272" stroke-width="0.8" stroke-opacity="0.5"/>
<line x1="125.8" y1="354.86" x2="128.4" y2="354.86" stroke="#8f7272" stroke-width="0.8" stroke-opacity="0.5"/>
<line x1="132.47" y1="304.58" x2="132.47" y2="353.26" stroke="#8f7272" stroke-width="0.6" stroke-opacity="0.07"/>
<line x1="131.17" y1="304.58" x2="133.77" y2="304.58" stroke="#8f7272" stroke-width="0.8" stroke-opacity="0.5"/>
<line x1="131.17" y1="353.26" x2="133.77" y2="353.26" stroke="#8f7272" stroke-width="0.8" stroke-opacity="0.5"/>
<line x1="137.84" y1="304.41" x2="137.84" y2="352.85" stroke="#8f7272" stroke-width="0.6" stroke-opacity="0.07"/>
<line x1="136.54" y1="304.41" x2="139.14" y2="304.41" stroke="#8f7272" stroke-width="0.8" stroke-opacity="0.5"/>
<line x1="136.54" y1="352.85" x2="139.14" y2="352.85" stroke="#8f7272" stroke-width="0.8" stroke-opacity="0.5"/>
<line x1="143.21" y1="316.01" x2="143.21" y2="349.95" stroke="#8f7272" stroke-width="0.6" stroke-opacity="0.07"/>
<line x1="141.91" y1="316.01" x2="144.51" y2="316.01" stroke="#8f7272" stroke-width="0.8" stroke-opacity="0.5"/>
<line x1="141.91" y1="349.95" x2="144.51" y2="349.95" stroke="#8f7272" stroke-width="0.8" stroke-opacity="0.5"/>
<line x1="148.58" y1="321.77" x2="148.58" y2="358" stroke="#8f7272" stroke-width="0.6" stroke-opacity="0.07"/>
<line x1="147.28" y1="321.77" x2="149.88" y2="321.77" stroke="#8f7272" stroke-width="0.8" stroke-opacity="0.5"/>
<line x1="147.28" y1="358" x2="149.88" y2="358" stroke="#8f7272" stroke-width="0.8" stroke-opacity="0.5"/>
<line x1="153.96" y1="302.59" x2="153.96" y2="355.59" stroke="#8f7272" stroke-width="0.6" stroke-opacity="0.07"/>
<line x1="152.66" y1="302.59" x2="155.26" y2="302.59" stroke="#8f7272" stroke-width="0.8" stroke-opacity="0.5"/>
<line x1="152.66" y1="355.59" x2="155.26" y2="355.59" stroke="#8f7272" stroke-width="0.8" stroke-opacity="0.5"/>
<line x1="159.33" y1="301.52" x2="159.33" y2="350.92" stroke="#8f7272" stroke-width="0.6" stroke-opacity="0.07"/>
<line x1="158.03" y1="301.52" x2="160.63" y2="301.52" stroke="#8f7272" stroke-width="0.8" stroke-opacity="0.5"/>
<line x1="158.03" y1="350.92" x2="160.63" y2="350.92" stroke="#8f7272" stroke-width="0.8" stroke-opacity="0.5"/>
<line x1="164.7" y1="313.67" x2="164.7" y2="349.84" stroke="#8f7272" stroke-width="0.6" stroke-opacity="0.07"/>
<line x1="163.4" y1="313.67" x2="166" y2="313.67" stroke="#8f7272" stroke-width="0.8" stroke-opacity="0.5"/>
<line x1="163.4" y1="349.84" x2="166" y2="349.84" stroke="#8f7272" stroke-width="0.8" stroke-opacity="0.5"/>
<line x1="170.07" y1="296.77" x2="170.07" y2="344.52" stroke="#8f7272" stroke-width="0.6" stroke-opacity="0.07"/>
<line x1="168.77" y1="296.77" x2="171.37" y2="296.77" stroke="#8f7272" stroke-width="0.8" stroke-opacity="0.5"/>
<line x1="168.77" y1="344.52" x2="171.37" y2="344.52" stroke="#8f7272" stroke-width="0.8" stroke-opacity="0.5"/>
<line x1="175.44" y1="307.94" x2="175.44" y2="348.64" stroke="#8f7272" stroke-width="0.6" stroke-opacity="0.07"/>
<line x1="174.14" y1="307.94" x2="176.74" y2="307.94" stroke="#8f7272" stroke-width="0.8" stroke-opacity="0.5"/>
<line x1="174.14" y1="348.64" x2="176.74" y2="348.64" stroke="#8f7272" stroke-width="0.8" stroke-opacity="0.5"/>
<line x1="180.82" y1="302.41" x2="180.82" y2="352.56" stroke="#8f7272" stroke-width="0.6" stroke-opacity="0.07"/>
<line x1="179.52" y1="302.41" x2="182.12" y2="302.41" stroke="#8f7272" stroke-width="0.8" stroke-opacity="0.5"/>
<line x1="179.52" y1="352.56" x2="182.12" y2="352.56" stroke="#8f7272" stroke-width="0.8" stroke-opacity="0.5"/>
<line x1="186.19" y1="317.62" x2="186.19" y2="356.06" stroke="#8f7272" stroke-width="0.6" stroke-opacity="0.07"/>
<line x1="184.89" y1="317.62" x2="187.49" y2="317.62" stroke="#8f7272" stroke-width="0.8" stroke-opacity="0.5"/>
<line x1="184.89" y1="356.06" x2="187.49" y2="356.06" stroke="#8f7272" stroke-width="0.8" stroke-opacity="0.5"/>
<line x1="191.56" y1="311.15" x2="191.56" y2="361.96" stroke="#8f7272" stroke-width="0.6" stroke-opacity="0.07"/>
<line x1="190.26" y1="311.15" x2="192.86" y2="311.15" stroke="#8f7272" stroke-width="0.8" stroke-opacity="0.5"/>
<line x1="190.26" y1="361.96" x2="192.86" y2="361.96" stroke="#8f7272" stroke-width="0.8" stroke-opacity="0.5"/>
<line x1="196.93" y1="315.77" x2="196.93" y2="362.46" stroke="#8f7272" stroke-width="0.6" stroke-opacity="0.07"/>
<line x1="195.63" y1="315.77" x2="198.23" y2="315.77" stroke="#8f7272" stroke-width="0.8" stroke-opacity="0.5"/>
<line x1="195.63" y1="362.46" x2="198.23" y2="362.46" stroke="#8f7272" stroke-width="0.8" stroke-opacity="0.5"/>
<line x1="202.3" y1="323.97" x2="202.3" y2="353.76" stroke="#8f7272" stroke-width="0.6" stroke-opacity="0.07"/>
<line x1="201" y1="323.97" x2="203.6" y2="323.97" stroke="#8f7272" stroke-width="0.8" stroke-opacity="0.5"/>
<line x1="201" y1="353.76" x2="203.6" y2="353.76" stroke="#8f7272" stroke-width="0.8" stroke-opacity="0.5"/>
<line x1="207.68" y1="325.25" x2="207.68" y2="351.96" stroke="#8f7272" stroke-width="0.6" stroke-opacity="0.07"/>
<line x1="206.38" y1="325.25" x2="208.98" y2="325.25" stroke="#8f7272" stroke-width="0.8" stroke-opacity="0.5"/>
<line x1="206.38" y1="351.96" x2="208.98" y2="351.96" stroke="#8f7272" stroke-width="0.8" stroke-opacity="0.5"/>
<line x1="213.05" y1="304.77" x2="213.05" y2="361.66" stroke="#8f7272" stroke-width="0.6" stroke-opacity="0.07"/>
<line x1="211.75" y1="304.77" x2="214.35" y2="304.77" stroke="#8f7272" stroke-width="0.8" stroke-opacity="0.5"/>
<line x1="211.75" y1="361.66" x2="214.35" y2="361.66" stroke="#8f7272" stroke-width="0.8" stroke-opacity="0.5"/>
<line x1="218.42" y1="320.61" x2="218.42" y2="351.09" stroke="#8f7272" stroke-width="0.6" stroke-opacity="0.07"/>
<line x1="217.12" y1="320.61" x2="219.72" y2="320.61" stroke="#8f7272" stroke-width="0.8" stroke-opacity="0.5"/>
<line x1="217.12" y1="351.09" x2="219.72" y2="351.09" stroke="#8f7272" stroke-width="0.8" stroke-opacity="0.5"/>
<line x1="223.79" y1="310.82" x2="223.79" y2="357.56" stroke="#8f7272" stroke-width="0.6" stroke-opacity="0.07"/>
<line x1="222.49" y1="310.82" x2="225.09" y2="310.82" stroke="#8f7272" stroke-width="0.8" stroke-opacity="0.5"/>
<line x1="222.49" y1="357.56" x2="225.09" y2="357.56" stroke="#8f7272" stroke-width="0.8" stroke-opacity="0.5"/>
<line x1="35.77" y1="271.45" x2="35.77" y2="329.77" stroke="#aaaa3c" stroke-width="0.6" stroke-opacity="0.16"/>
<line x1="34.47" y1="271.45" x2="37.07" y2="271.45" stroke="#aaaa3c" stroke-width="0.8" stroke-opacity="0.5"/>
<line x1="34.47" y1="329.77" x2="37.07" y2="329.77" stroke="#aaaa3c" stroke-width="0.8" stroke-opacity="0.5"/>
<line x1="41.14" y1="284.58" x2="41.14" y2="326.05" stroke="#aaaa3c" stroke-width="0.6" stroke-opacity="0.16"/>
<line x1="39.84" y1="284.58" x2="42.44" y2="284.58" stroke="#aaaa3c" stroke-width="0.8" stroke-opacity="0.5"/>
<line x1="39.84" y1="326.05" x2="42.44" y2="326.05" stroke="#aaaa3c" stroke-width="0.8" stroke-opacity="0.5"/>
<line x1="46.52" y1="289.12" x2="46.52" y2="325.82" stroke="#aaaa3c" stroke-width="0.6" stroke-opacity="0.16"/>
<line x1="45.22" y1="289.12" x2="47.82" y2="289.12" stroke="#aaaa3c" stroke-width="0.8" stroke-opacity="0.5"/>
<line x1="45.22" y1="325.82" x2="47.82" y2="325.82" stroke="#aaaa3c" stroke-width="0.8" stroke-opacity="0.5"/>
<line x1="51.89" y1="288.05" x2="51.89" y2="334.95" stroke="#aaaa3c" stroke-width="0.6" stroke-opacity="0.16"/>
<line x1="50.59" y1="288.05" x2="53.19" y2="288.05" stroke="#aaaa3c" stroke-width="0.8" stroke-opacity="0.5"/>
<line x1="50.59" y1="334.95" x2="53.19" y2="334.95" stroke="#aaaa3c" stroke-width="0.8" stroke-opacity="0.5"/>
<line x1="57.26" y1="293.62" x2="57.26" y2="325.65" stroke="#aaaa3c" stroke-width="0.6" stroke-opacity="0.16"/>
<line x1="55.96" y1="293.62" x2="58.56" y2="293.62" stroke="#aaaa3c" stroke-width="0.8" stroke-opacity="0.5"/>
<line x1="55.96" y1="325.65" x2="58.56" y2="325.65" stroke="#aaaa3c" stroke-width="0.8" stroke-opacity="0.5"/>
<line x1="62.63" y1="276.58" x2="62.63" y2="321.5" stroke="#aaaa3c" stroke-width="0.6" stroke-opacity="0.16"/>
<line x1="61.33" y1="276.58" x2="63.93" y2="276.58" stroke="#aaaa3c" stroke-width="0.8" stroke-opacity="0.5"/>
<line x1="61.33" y1="321.5" x2="63.93" y2="321.5" stroke="#aaaa3c" stroke-width="0.8" stroke-opacity="0.5"/>
<line x1="68" y1="279.42" x2="68" y2="339.84" stroke="#aaaa3c" stroke-width="0.6" stroke-opacity="0.16"/>
<line x1="66.7" y1="279.42" x2="69.3" y2="279.42" stroke="#aaaa3c" stroke-width="0.8" stroke-opacity="0.5"/>
<line x1="66.7" y1="339.84" x2="69.3" y2="339.84" stroke="#aaaa3c" stroke-width="0.8" stroke-opacity="0.5"/>
<line x1="73.38" y1="276.59" x2="73.38" y2="332.44" stroke="#aaaa3c" stroke-width="0.6" stroke-opacity="0.16"/>
<line x1="72.08" y1="276.59" x2="74.68" y2="276.59" stroke="#aaaa3c" stroke-width="0.8" stroke-opacity="0.5"/>
<line x1="72.08" y1="332.44" x2="74.68" y2="332.44" stroke="#aaaa3c" stroke-width="0.8" stroke-opacity="0.5"/>
<line x1="78.75" y1="285.71" x2="78.75" y2="333.59" stroke="#aaaa3c" stroke-width="0.6" stroke-opacity="0.16"/>
<line x1="77.45" y1="285.71" x2="80.05" y2="285.71" stroke="#aaaa3c" stroke-width="0.8" stroke-opacity="0.5"/>
<line x1="77.45" y1="333.59" x2="80.05" y2="333.59" stroke="#aaaa3c" stroke-width="0.8" stroke-opacity="0.5"/>
<line x1="84.12" y1="283.84" x2="84.12" y2="340.86" stroke="#aaaa3c" stroke-width="0.6" stroke-opacity="0.16"/>
<line x1="82.82" y1="283.84" x2="85.42" y2="283.84" stroke="#aaaa3c" stroke-width="0.8" stroke-opacity="0.5"/>
<line x1="82.82" y1="340.86" x2="85.42" y2="340.86" stroke="#aaaa3c" stroke-width="0.8" stroke-opacity="0.5"/>
<line x1="89.49" y1="282.77" x2="89.49" y2="329.61" stroke="#aaaa3c" stroke-width="0.6" stroke-opacity="0.16"/>
<line x1="88.19" y1="282.77" x2="90.79" y2="282.77" stroke="#aaaa3c" stroke-width="0.8" stroke-opacity="0.5"/>
<line x1="88.19" y1="329.61" x2="90.79" y2="329.61" stroke="#aaaa3c" stroke-width="0.8" stroke-opacity="0.5"/>
<line x1="94.86" y1="275.02" x2="94.86" y2="330.04" stroke="#aaaa3c" stroke-width="0.6" stroke-opacity="0.16"/>
<line x1="93.56" y1="275.02" x2="96.16" y2="275.02" stroke="#aaaa3c" stroke-width="0.8" stroke-opacity="0.5"/>
<line x1="93.56" y1="330.04" x2="96.16" y2="330.04" stroke="#aaaa3c" stroke-width="0.8" stroke-opacity="0.5"/>
<line x1="100.24" y1="290.99" x2="100.24" y2="342.76" stroke="#aaaa3c" stroke-width="0.6" stroke-opacity="0.16"/>
<line x1="98.94" y1="290.99" x2="101.54" y2="290.99" stroke="#aaaa3c" stroke-width="0.8" stroke-opacity="0.5"/>
<line x1="98.94" y1="342.76" x2="101.54" y2="342.76" stroke="#aaaa3c" stroke-width="0.8" stroke-opacity="0.5"/>
<line x1="105.61" y1="304.44" x2="105.61" y2="339.71" stroke="#aaaa3c" stroke-width="0.6" stroke-opacity="0.16"/>
<line x1="104.31" y1="304.44" x2="106.91" y2="304.44" stroke="#aaaa3c" stroke-width="0.8" stroke-opacity="0.5"/>
<line x1="104.31" y1="339.71" x2="106.91" y2="339.71" stroke="#aaaa3c" stroke-width="0.8" stroke-opacity="0.5"/>
<line x1="110.98" y1="280.95" x2="110.98" y2="330.4" stroke="#aaaa3c" stroke-width="0.6" stroke-opacity="0.16"/>
<line x1="109.68" y1="280.95" x2="112.28" y2="280.95" stroke="#aaaa3c" stroke-width="0.8" stroke-opacity="0.5"/>
<line x1="109.68" y1="330.4" x2="112.28" y2="330.4" stroke="#aaaa3c" stroke-width="0.8" stroke-opacity="0.5"/>
<line x1="116.35" y1="283.55" x2="116.35" y2="328.48" stroke="#aaaa3c" stroke-width="0.6" stroke-opacity="0.16"/>
<line x1="115.05" y1="283.55" x2="117.65" y2="283.55" stroke="#aaaa3c" stroke-width="0.8" stroke-opacity="0.5"/>
<line x1="115.05" y1="328.48" x2="117.65" y2="328.48" stroke="#aaaa3c" stroke-width="0.8" stroke-opacity="0.5"/>
<line x1="121.72" y1="299.51" x2="121.72" y2="336.12" stroke="#aaaa3c" stroke-width="0.6" stroke-opacity="0.16"/>
<line x1="120.42" y1="299.51" x2="123.02" y2="299.51" stroke="#aaaa3c" stroke-width="0.8" stroke-opacity="0.5"/>
<line x1="120.42" y1="336.12" x2="123.02" y2="336.12" stroke="#aaaa3c" stroke-width="0.8" stroke-opacity="0.5"/>
<line x1="127.1" y1="308.51" x2="127.1" y2="340.11" stroke="#aaaa3c" stroke-width="0.6" stroke-opacity="0.16"/>
<line x1="125.8" y1="308.51" x2="128.4" y2="308.51" stroke="#aaaa3c" stroke-width="0.8" stroke-opacity="0.5"/>
<line x1="125.8" y1="340.11" x2="128.4" y2="340.11" stroke="#aaaa3c" stroke-width="0.8" stroke-opacity="0.5"/>
<line x1="132.47" y1="293.62" x2="132.47" y2="341.79" stroke="#aaaa3c" stroke-width="0.6" stroke-opacity="0.16"/>
<line x1="131.17" y1="293.62" x2="133.77" y2="293.62" stroke="#aaaa3c" stroke-width="0.8" stroke-opacity="0.5"/>
<line x1="131.17" y1="341.79" x2="133.77" y2="341.79" stroke="#aaaa3c" stroke-width="0.8" stroke-opacity="0.5"/>
<line x1="137.84" y1="297.77" x2="137.84" y2="352.53" stroke="#aaaa3c" stroke-width="0.6" stroke-opacity="0.16"/>
<line x1="136.54" y1="297.77" x2="139.14" y2="297.77" stroke="#aaaa3c" stroke-width="0.8" stroke-opacity="0.5"/>
<line x1="136.54" y1="352.53" x2="139.14" y2="352.53" stroke="#aaaa3c" stroke-width="0.8" stroke-opacity="0.5"/>
<line x1="143.21" y1="289.64" x2="143.21" y2="339.57" stroke="#aaaa3c" stroke-width="0.6" stroke-opacity="0.16"/>
<line x1="141.91" y1="289.64" x2="144.51" y2="289.64" stroke="#aaaa3c" stroke-width="0.8" stroke-opacity="0.5"/>
<line x1="141.91" y1="339.57" x2="144.51" y2="339.57" stroke="#aaaa3c" stroke-width="0.8" stroke-opacity="0.5"/>
<line x1="148.58" y1="293.9" x2="148.58" y2="349.38" stroke="#aaaa3c" stroke-width="0.6" stroke-opacity="0.16"/>
<line x1="147.28" y1="293.9" x2="149.88" y2="293.9" stroke="#aaaa3c" stroke-width="0.8" stroke-opacity="0.5"/>
<line x1="147.28" y1="349.38" x2="149.88" y2="349.38" stroke="#aaaa3c" stroke-width="0.8" stroke-opacity="0.5"/>
<line x1="153.96" y1="317.1" x2="153.96" y2="346.67" stroke="#aaaa3c" stroke-width="0.6" stroke-opacity="0.16"/>
<line x1="152.66" y1="317.1" x2="155.26" y2="317.1" stroke="#aaaa3c" stroke-width="0.8" stroke-opacity="0.5"/>
<line x1="152.66" y1="346.67" x2="155.26" y2="346.67" stroke="#aaaa3c" stroke-width="0.8" stroke-opacity="0.5"/>
<line x1="159.33" y1="309.3" x2="159.33" y2="339.26" stroke="#aaaa3c" stroke-width="0.6" stroke-opacity="0.16"/>
<line x1="158.03" y1="309.3" x2="160.63" y2="309.3" stroke="#aaaa3c" stroke-width="0.8" stroke-opacity="0.5"/>
<line x1="158.03" y1="339.26" x2="160.63" y2="339.26" stroke="#aaaa3c" stroke-width="0.8" stroke-opacity="0.5"/>
<line x1="164.7" y1="297.51" x2="164.7" y2="350.99" stroke="#aaaa3c" stroke-width="0.6" stroke-opacity="0.16"/>
<line x1="163.4" y1="297.51" x2="166" y2="297.51" stroke="#aaaa3c" stroke-width="0.8" stroke-opacity="0.5"/>
<line x1="163.4" y1="350.99" x2="166" y2="350.99" stroke="#aaaa3c" stroke-width="0.8" stroke-opacity="0.5"/>
<line x1="170.07" y1="305.45" x2="170.07" y2="351.69" stroke="#aaaa3c" stroke-width="0.6" stroke-opacity="0.16"/>
<line x1="168.77" y1="305.45" x2="171.37" y2="305.45" stroke="#aaaa3c" stroke-width="0.8" stroke-opacity="0.5"/>
<line x1="168.77" y1="351.69" x2="171.37" y2="351.69" stroke="#aaaa3c" stroke-width="0.8" stroke-opacity="0.5"/>
<line x1="175.44" y1="291.41" x2="175.44" y2="335.63" stroke="#aaaa3c" stroke-width="0.6" stroke-opacity="0.16"/>
<line x1="174.14" y1="291.41" x2="176.74" y2="291.41" stroke="#aaaa3c" stroke-width="0.8" stroke-opacity="0.5"/>
<line x1="174.14" y1="335.63" x2="176.74" y2="335.63" stroke="#aaaa3c" stroke-width="0.8" stroke-opacity="0.5"/>
<line x1="180.82" y1="288.31" x2="180.82" y2="345.31" stroke="#aaaa3c" stroke-width="0.6" stroke-opacity="0.16"/>
<line x1="179.52" y1="288.31" x2="182.12" y2="288.31" stroke="#aaaa3c" stroke-width="0.8" stroke-opacity="0.5"/>
<line x1="179.52" y1="345.31" x2="182.12" y2="345.31" stroke="#aaaa3c" stroke-width="0.8" stroke-opacity="0.5"/>
<line x1="186.19" y1="289.45" x2="186.19" y2="350.4" stroke="#aaaa3c" stroke-width="0.6" stroke-opacity="0.16"/>
<line x1="184.89" y1="289.45" x2="187.49" y2="289.45" stroke="#aaaa3c" stroke-width="0.8" stroke-opacity="0.5"/>
<line x1="184.89" y1="350.4" x2="187.49" y2="350.4" stroke="#aaaa3c" stroke-width="0.8" stroke-opacity="0.5"/>
<line x1="191.56" y1="296.57" x2="191.56" y2="345.7" stroke="#aaaa3c" stroke-width="0.6" stroke-opacity="0.16"/>
<line x1="190.26" y1="296.57" x2="192.86" y2="296.57" stroke="#aaaa3c" stroke-width="0.8" stroke-opacity="0.5"/>
<line x1="190.26" y1="345.7" x2="192.86" y2="345.7" stroke="#aaaa3c" stroke-width="0.8" stroke-opacity="0.5"/>
<line x1="196.93" y1="292.68" x2="196.93" y2="353.9" stroke="#aaaa3c" stroke-width="0.6" stroke-opacity="0.16"/>
<line x1="195.63" y1="292.68" x2="198.23" y2="292.68" stroke="#aaaa3c" stroke-width="0.8" stroke-opacity="0.5"/>
<line x1="195.63" y1="353.9" x2="198.23" y2="353.9" stroke="#aaaa3c" stroke-width="0.8" stroke-opacity="0.5"/>
<line x1="202.3" y1="293.06" x2="202.3" y2="347.31" stroke="#aaaa3c" stroke-width="0.6" stroke-opacity="0.16"/>
<line x1="201" y1="293.06" x2="203.6" y2="293.06" stroke="#aaaa3c" stroke-width="0.8" stroke-opacity="0.5"/>
<line x1="201" y1="347.31" x2="203.6" y2="347.31" stroke="#aaaa3c" stroke-width="0.8" stroke-opacity="0.5"/>
<line x1="207.68" y1="298.03" x2="207.68" y2="350.1" stroke="#aaaa3c" stroke-width="0.6" stroke-opacity="0.16"/>
<line x1="206.38" y1="298.03" x2="208.98" y2="298.03" stroke="#aaaa3c" stroke-width="0.8" stroke-opacity="0.5"/>
<line x1="206.38" y1="350.1" x2="208.98" y2="350.1" stroke="#aaaa3c" stroke-width="0.8" stroke-opacity="0.5"/>
<line x1="213.05" y1="315.65" x2="213.05" y2="341.42" stroke="#aaaa3c" stroke-width="0.6" stroke-opacity="0.16"/>
<line x1="211.75" y1="315.65" x2="214.35" y2="315.65" stroke="#aaaa3c" stroke-width="0.8" stroke-opacity="0.5"/>
<line x1="211.75" y1="341.42" x2="214.35" y2="341.42" stroke="#aaaa3c" stroke-width="0.8" stroke-opacity="0.5"/>
<line x1="218.42" y1="317.58" x2="218.42" y2="345.18" stroke="#aaaa3c" stroke-width="0.6" stroke-opacity="0.16"/>
<line x1="217.12" y1="317.58" x2="219.72" y2="317.58" stroke="#aaaa3c" stroke-width="0.8" stroke-opacity="0.5"/>
<line x1="217.12" y1="345.18" x2="219.72" y2="345.18" stroke="#aaaa3c" stroke-width="0.8" stroke-opacity="0.5"/>
<line x1="223.79" y1="313.24" x2="223.79" y2="348.35" stroke="#aaaa3c" stroke-width="0.6" stroke-opacity="0.16"/>
<line x1="222.49" y1="313.24" x2="225.09" y2="313.24" stroke="#aaaa3c" stroke-width="0.8" stroke-opacity="0.5"/>
<line x1="222.49" y1="348.35" x2="225.09" y2="348.35" stroke="#aaaa3c" stroke-width="0.8" stroke-opacity="0.5"/>
<polyline points="35.77,329.04 41.14,331.46 46.52,330.54 51.89,331.46 57.26,328.35 62.63,331.46 68,330.31 73.38,332.04 78.75,328.58 84.12,330.89 89.49,332.04 94.86,335.84 100.24,337.11 105.61,335.84 110.98,333.31 116.35,334.57 121.72,335.84 127.1,333.31 132.47,335.84 137.84,338.38 143.21,341.03 148.58,341.95 153.96,342.87 159.33,343.56 164.7,341.83 170.07,339.64 175.44,344.71 180.82,345.29 186.19,345.75 191.56,347.36 196.93,346.79 202.3,347.71 207.68,348.17 213.05,349.09 218.42,347.71 223.79,348.51" fill="none" stroke="#c090e0" stroke-width="1"/>
<polyline points="35.77,329.39 41.14,339.64 46.52,331.46 51.89,332.5 57.26,334 62.63,337.57 68,331.46 73.38,334.34 78.75,328.58 84.12,334.34 89.49,332.04 94.86,332.62 100.24,341.6 105.61,333.31 110.98,332.62 116.35,331.35 121.72,335.15 127.1,332.04 132.47,333.31 137.84,334.57 143.21,336.53 148.58,335.27 153.96,335.84 159.33,334.34 164.7,332.85 170.07,333.42 175.44,334 180.82,336.07 186.19,338.72 191.56,338.26 196.93,337.45 202.3,338.72 207.68,339.64 213.05,338.72 218.42,337.45 223.79,334.34" fill="none" stroke="#8f7272" stroke-width="1"/>
<polyline points="35.77,335.15 41.14,335.5 46.52,335.96 51.89,336.53 57.26,335.5 62.63,335.5 68,334.34 73.38,334.92 78.75,334.34 84.12,333.77 89.49,334.34 94.86,334.34 100.24,335.5 105.61,334.92 110.98,334.34 116.35,333.19 121.72,332.62 127.1,331.46 132.47,333.77 137.84,337.11 143.21,337.8 148.58,337.8 153.96,337.11 159.33,336.53 164.7,335.27 170.07,336.07 175.44,337.45 180.82,340.56 186.19,339.87 191.56,341.6 196.93,340.56 202.3,342.64 207.68,343.1 213.05,343.68 218.42,344.71 223.79,342.06" fill="none" stroke="#40a888" stroke-width="1"/>
<polyline points="35.77,324.32 41.14,326.4 46.52,327.43 51.89,328.58 57.26,327.43 62.63,328.58 68,329.74 73.38,328.01 78.75,330.89 84.12,332.04 89.49,330.89 94.86,330.66 100.24,333.88 105.61,329.97 110.98,326.86 116.35,330.66 121.72,331.12 127.1,329.51 132.47,328.81 137.84,329.51 143.21,330.66 148.58,332.04 153.96,333.88 159.33,333.88 164.7,333.54 170.07,334.92 175.44,336.53 180.82,337.45 186.19,338.72 191.56,337.45 196.93,336.53 202.3,338.72 207.68,339.07 213.05,339.53 218.42,338.72 223.79,336.53" fill="none" stroke="#d8b050" stroke-width="1"/>
<polyline points="35.77,333.54 41.14,317.18 46.52,324.32 51.89,325.36 57.26,322.94 62.63,326.4 68,324.32 73.38,324.78 78.75,325.36 84.12,322.25 89.49,324.32 94.86,323.75 100.24,333.88 105.61,326.86 110.98,332.04 116.35,330.66 121.72,328.01 127.1,323.05 132.47,326.28 137.84,330.31 143.21,330.89 148.58,332.04 153.96,334.34 159.33,329.74 164.7,328.12 170.07,328.12 175.44,330.43 180.82,328.12 186.19,329.28 191.56,329.28 196.93,331.35 202.3,331.35 207.68,328.12 213.05,331.35 218.42,337.45 223.79,328.12" fill="none" stroke="#38cccc" stroke-width="1"/>
<polyline points="35.77,319.25 41.14,322.25 46.52,320.17 51.89,322.25 57.26,314.76 62.63,324.32 68,319.25 73.38,318.22 78.75,321.33 84.12,320.17 89.49,319.25 94.86,321.1 100.24,323.75 105.61,321.79 110.98,320.17 116.35,319.83 121.72,319.83 127.1,319.25 132.47,321.79 137.84,323.75 143.21,324.32 148.58,323.75 153.96,324.32 159.33,321.79 164.7,322.94 170.07,323.63 175.44,320.75 180.82,326.28 186.19,324.9 191.56,327.32 196.93,327.66 202.3,327.32 207.68,326.86 213.05,327.66 218.42,327.78 223.79,329.39" fill="none" stroke="#e66e78" stroke-width="1"/>
<polyline points="35.77,310.04 41.14,318.22 46.52,310.96 51.89,319.25 57.26,310.96 62.63,310.61 68,314.07 73.38,316.14 78.75,312.11 84.12,304.51 89.49,314.07 94.86,323.05 100.24,325.01 105.61,322.36 110.98,319.25 116.35,324.32 121.72,323.05 127.1,319.25 132.47,325.01 137.84,329.39 143.21,330.66 148.58,332.62 153.96,335.84 159.33,325.59 164.7,323.28 170.07,320.75 175.44,327.32 180.82,333.54 186.19,337.45 191.56,339.64 196.93,338.72 202.3,340.68 207.68,339.18 213.05,330.43 218.42,337.45 223.79,329.97" fill="none" stroke="#5082dc" stroke-width="1"/>
<polyline points="35.77,306.47 41.14,313.15 46.52,312.11 51.89,314.76 57.26,310.96 62.63,310.61 68,314.07 73.38,315.45 78.75,313.15 84.12,313.61 89.49,314.07 94.86,311.3 100.24,319.83 105.61,316.03 110.98,311.53 116.35,310.15 121.72,316.6 127.1,321.1 132.47,323.75 137.84,325.59 143.21,326.86 148.58,328.24 153.96,330.08 159.33,327.55 164.7,324.55 170.07,326.28 175.44,322.94 180.82,324.55 186.19,327.66 191.56,329.39 196.93,327.43 202.3,329.39 207.68,331.35 213.05,330.31 218.42,331.35 223.79,329.39" fill="none" stroke="#aaaa3c" stroke-width="1"/>
<polyline points="35.77,289.53 41.14,291.26 46.52,285.5 51.89,297.71 57.26,297.71 62.63,292.99 68,294.72 73.38,295.75 78.75,286.88 84.12,282.85 89.49,293.56 94.86,293.56 100.24,295.75 105.61,294.25 110.98,292.64 116.35,289.53 121.72,292.64 127.1,295.18 132.47,296.67 137.84,295.75 143.21,299.44 148.58,299.78 153.96,300.36 159.33,300.36 164.7,300.82 170.07,301.4 175.44,294.25 180.82,295.18 186.19,290.57 191.56,294.6 196.93,289.53 202.3,292.64 207.68,292.64 213.05,298.29 218.42,296.33 223.79,296.33" fill="none" stroke="#6a6a6a" stroke-width="1"/>
<line x1="30.4" y1="367.1" x2="30.4" y2="205.32" stroke="#3a3a3a" stroke-width="1.05" />
<line x1="27.2" y1="366.6" x2="30.4" y2="366.6" stroke="#3a3a3a" stroke-width="1.05" />
<text transform="translate(25.4,369) scale(1,1.2)" font-size="7" text-anchor="end" fill="#222">0</text>
<line x1="28.7" y1="355.08" x2="30.4" y2="355.08" stroke="#3a3a3a" stroke-width="1.05" />
<line x1="27.2" y1="343.56" x2="30.4" y2="343.56" stroke="#3a3a3a" stroke-width="1.05" />
<text transform="translate(25.4,345.96) scale(1,1.2)" font-size="7" text-anchor="end" fill="#222">20</text>
<line x1="28.7" y1="332.04" x2="30.4" y2="332.04" stroke="#3a3a3a" stroke-width="1.05" />
<line x1="27.2" y1="320.52" x2="30.4" y2="320.52" stroke="#3a3a3a" stroke-width="1.05" />
<text transform="translate(25.4,322.92) scale(1,1.2)" font-size="7" text-anchor="end" fill="#222">40</text>
<line x1="28.7" y1="309" x2="30.4" y2="309" stroke="#3a3a3a" stroke-width="1.05" />
<line x1="27.2" y1="297.48" x2="30.4" y2="297.48" stroke="#3a3a3a" stroke-width="1.05" />
<text transform="translate(25.4,299.88) scale(1,1.2)" font-size="7" text-anchor="end" fill="#222">60</text>
<line x1="28.7" y1="285.96" x2="30.4" y2="285.96" stroke="#3a3a3a" stroke-width="1.05" />
<line x1="27.2" y1="274.44" x2="30.4" y2="274.44" stroke="#3a3a3a" stroke-width="1.05" />
<text transform="translate(25.4,276.84) scale(1,1.2)" font-size="7" text-anchor="end" fill="#222">80</text>
<line x1="28.7" y1="262.92" x2="30.4" y2="262.92" stroke="#3a3a3a" stroke-width="1.05" />
<line x1="27.2" y1="251.4" x2="30.4" y2="251.4" stroke="#3a3a3a" stroke-width="1.05" />
<text transform="translate(25.4,253.8) scale(1,1.2)" font-size="7" text-anchor="end" fill="#222">100</text>
<line x1="28.7" y1="239.88" x2="30.4" y2="239.88" stroke="#3a3a3a" stroke-width="1.05" />
<line x1="27.2" y1="228.36" x2="30.4" y2="228.36" stroke="#3a3a3a" stroke-width="1.05" />
<text transform="translate(25.4,230.76) scale(1,1.2)" font-size="7" text-anchor="end" fill="#222">120</text>
<line x1="28.7" y1="216.84" x2="30.4" y2="216.84" stroke="#3a3a3a" stroke-width="1.05" />
<line x1="27.2" y1="205.32" x2="30.4" y2="205.32" stroke="#3a3a3a" stroke-width="1.05" />
<text transform="translate(25.4,207.72) scale(1,1.2)" font-size="7" text-anchor="end" fill="#222">140</text>
<line x1="29.9" y1="366.6" x2="229.4" y2="366.6" stroke="#3a3a3a" stroke-width="1.05" />
<line x1="30.4" y1="366.6" x2="30.4" y2="369.6" stroke="#3a3a3a" stroke-width="1.05" />
<text transform="translate(30.4,377.5) scale(1,1.2)" font-size="7" text-anchor="middle" fill="#222">1985</text>
<line x1="43.83" y1="366.6" x2="43.83" y2="368.4" stroke="#3a3a3a" stroke-width="1.05" />
<line x1="57.26" y1="366.6" x2="57.26" y2="369.6" stroke="#3a3a3a" stroke-width="1.05" />
<text transform="translate(57.26,377.5) scale(1,1.2)" font-size="7" text-anchor="middle" fill="#222">1990</text>
<line x1="70.69" y1="366.6" x2="70.69" y2="368.4" stroke="#3a3a3a" stroke-width="1.05" />
<line x1="84.12" y1="366.6" x2="84.12" y2="369.6" stroke="#3a3a3a" stroke-width="1.05" />
<text transform="translate(84.12,377.5) scale(1,1.2)" font-size="7" text-anchor="middle" fill="#222">1995</text>
<line x1="97.55" y1="366.6" x2="97.55" y2="368.4" stroke="#3a3a3a" stroke-width="1.05" />
<line x1="110.98" y1="366.6" x2="110.98" y2="369.6" stroke="#3a3a3a" stroke-width="1.05" />
<text transform="translate(110.98,377.5) scale(1,1.2)" font-size="7" text-anchor="middle" fill="#222">2000</text>
<line x1="124.41" y1="366.6" x2="124.41" y2="368.4" stroke="#3a3a3a" stroke-width="1.05" />
<line x1="137.84" y1="366.6" x2="137.84" y2="369.6" stroke="#3a3a3a" stroke-width="1.05" />
<text transform="translate(137.84,377.5) scale(1,1.2)" font-size="7" text-anchor="middle" fill="#222">2005</text>
<line x1="151.27" y1="366.6" x2="151.27" y2="368.4" stroke="#3a3a3a" stroke-width="1.05" />
<line x1="164.7" y1="366.6" x2="164.7" y2="369.6" stroke="#3a3a3a" stroke-width="1.05" />
<text transform="translate(164.7,377.5) scale(1,1.2)" font-size="7" text-anchor="middle" fill="#222">2010</text>
<line x1="178.13" y1="366.6" x2="178.13" y2="368.4" stroke="#3a3a3a" stroke-width="1.05" />
<line x1="191.56" y1="366.6" x2="191.56" y2="369.6" stroke="#3a3a3a" stroke-width="1.05" />
<text transform="translate(191.56,377.5) scale(1,1.2)" font-size="7" text-anchor="middle" fill="#222">2015</text>
<line x1="204.99" y1="366.6" x2="204.99" y2="368.4" stroke="#3a3a3a" stroke-width="1.05" />
<line x1="218.42" y1="366.6" x2="218.42" y2="369.6" stroke="#3a3a3a" stroke-width="1.05" />
<text transform="translate(218.42,377.5) scale(1,1.2)" font-size="7" text-anchor="middle" fill="#222">2020</text>
<text x="130" y="386.6" font-size="8.6" text-anchor="middle" fill="#222" >Year</text>
<text transform="translate(13.4,284.85) rotate(-90)" font-size="8.65" text-anchor="middle" fill="#222">Turbidity (NTU)</text>
<text x="123.71" y="211.37" font-size="7.2" text-anchor="start" fill="#444" style="stroke-width:0.1px">(</text>
<text x="136.09" y="211.37" font-size="7.2" text-anchor="end" fill="#444" style="stroke-width:0.1px">)</text>
<text x="129.7" y="212.6" font-size="8.2" text-anchor="middle" fill="#333">c</text>
<line x1="365.1" y1="276.39" x2="365.1" y2="357.15" stroke="#d2d2d2" stroke-width="0.85" />
<line x1="363.6" y1="276.39" x2="366.6" y2="276.39" stroke="#b8b8b8" stroke-width="0.8" />
<line x1="363.6" y1="357.15" x2="366.6" y2="357.15" stroke="#c8c8c8" stroke-width="0.8" />
<line x1="380.1" y1="242.89" x2="380.1" y2="335.47" stroke="#d2d2d2" stroke-width="0.85" />
<line x1="378.6" y1="242.89" x2="381.6" y2="242.89" stroke="#b8b8b8" stroke-width="0.8" />
<line x1="378.6" y1="335.47" x2="381.6" y2="335.47" stroke="#c8c8c8" stroke-width="0.8" />
<line x1="395.1" y1="239.32" x2="395.1" y2="332.22" stroke="#d2d2d2" stroke-width="0.85" />
<line x1="393.6" y1="239.32" x2="396.6" y2="239.32" stroke="#b8b8b8" stroke-width="0.8" />
<line x1="393.6" y1="332.22" x2="396.6" y2="332.22" stroke="#c8c8c8" stroke-width="0.8" />
<line x1="410.1" y1="277.47" x2="410.1" y2="331.13" stroke="#d2d2d2" stroke-width="0.85" />
<line x1="408.6" y1="277.47" x2="411.6" y2="277.47" stroke="#b8b8b8" stroke-width="0.8" />
<line x1="408.6" y1="331.13" x2="411.6" y2="331.13" stroke="#c8c8c8" stroke-width="0.8" />
<line x1="425.1" y1="230.97" x2="425.1" y2="331.67" stroke="#d2d2d2" stroke-width="0.85" />
<line x1="423.6" y1="230.97" x2="426.6" y2="230.97" stroke="#b8b8b8" stroke-width="0.8" />
<line x1="423.6" y1="331.67" x2="426.6" y2="331.67" stroke="#c8c8c8" stroke-width="0.8" />
<line x1="440.1" y1="218.94" x2="440.1" y2="330.05" stroke="#d2d2d2" stroke-width="0.85" />
<line x1="438.6" y1="218.94" x2="441.6" y2="218.94" stroke="#b8b8b8" stroke-width="0.8" />
<line x1="438.6" y1="330.05" x2="441.6" y2="330.05" stroke="#c8c8c8" stroke-width="0.8" />
<line x1="455.1" y1="214.6" x2="455.1" y2="331.13" stroke="#d2d2d2" stroke-width="0.85" />
<line x1="453.6" y1="214.6" x2="456.6" y2="214.6" stroke="#b8b8b8" stroke-width="0.8" />
<line x1="453.6" y1="331.13" x2="456.6" y2="331.13" stroke="#c8c8c8" stroke-width="0.8" />
<line x1="470.1" y1="222.52" x2="470.1" y2="335.47" stroke="#d2d2d2" stroke-width="0.85" />
<line x1="468.6" y1="222.52" x2="471.6" y2="222.52" stroke="#b8b8b8" stroke-width="0.8" />
<line x1="468.6" y1="335.47" x2="471.6" y2="335.47" stroke="#c8c8c8" stroke-width="0.8" />
<line x1="485.1" y1="225.55" x2="485.1" y2="335.79" stroke="#d2d2d2" stroke-width="0.85" />
<line x1="483.6" y1="225.55" x2="486.6" y2="225.55" stroke="#b8b8b8" stroke-width="0.8" />
<line x1="483.6" y1="335.79" x2="486.6" y2="335.79" stroke="#c8c8c8" stroke-width="0.8" />
<line x1="500.1" y1="236.39" x2="500.1" y2="342.3" stroke="#d2d2d2" stroke-width="0.85" />
<line x1="498.6" y1="236.39" x2="501.6" y2="236.39" stroke="#b8b8b8" stroke-width="0.8" />
<line x1="498.6" y1="342.3" x2="501.6" y2="342.3" stroke="#c8c8c8" stroke-width="0.8" />
<line x1="515.1" y1="274.44" x2="515.1" y2="344.14" stroke="#d2d2d2" stroke-width="0.85" />
<line x1="513.6" y1="274.44" x2="516.6" y2="274.44" stroke="#b8b8b8" stroke-width="0.8" />
<line x1="513.6" y1="344.14" x2="516.6" y2="344.14" stroke="#c8c8c8" stroke-width="0.8" />
<line x1="530.1" y1="295.36" x2="530.1" y2="357.15" stroke="#d2d2d2" stroke-width="0.85" />
<line x1="528.6" y1="295.36" x2="531.6" y2="295.36" stroke="#b8b8b8" stroke-width="0.8" />
<line x1="528.6" y1="357.15" x2="531.6" y2="357.15" stroke="#c8c8c8" stroke-width="0.8" />
<line x1="365.1" y1="295.62" x2="365.1" y2="339.9" stroke="#e66e78" stroke-width="0.6" stroke-opacity="0.07"/>
<line x1="363.6" y1="295.62" x2="366.6" y2="295.62" stroke="#e66e78" stroke-width="0.9" stroke-opacity="0.5"/>
<line x1="363.6" y1="339.9" x2="366.6" y2="339.9" stroke="#e66e78" stroke-width="0.9" stroke-opacity="0.5"/>
<line x1="380.1" y1="292.43" x2="380.1" y2="343.48" stroke="#e66e78" stroke-width="0.6" stroke-opacity="0.07"/>
<line x1="378.6" y1="292.43" x2="381.6" y2="292.43" stroke="#e66e78" stroke-width="0.9" stroke-opacity="0.5"/>
<line x1="378.6" y1="343.48" x2="381.6" y2="343.48" stroke="#e66e78" stroke-width="0.9" stroke-opacity="0.5"/>
<line x1="395.1" y1="292.33" x2="395.1" y2="341.88" stroke="#e66e78" stroke-width="0.6" stroke-opacity="0.07"/>
<line x1="393.6" y1="292.33" x2="396.6" y2="292.33" stroke="#e66e78" stroke-width="0.9" stroke-opacity="0.5"/>
<line x1="393.6" y1="341.88" x2="396.6" y2="341.88" stroke="#e66e78" stroke-width="0.9" stroke-opacity="0.5"/>
<line x1="410.1" y1="308.06" x2="410.1" y2="335.27" stroke="#e66e78" stroke-width="0.6" stroke-opacity="0.07"/>
<line x1="408.6" y1="308.06" x2="411.6" y2="308.06" stroke="#e66e78" stroke-width="0.9" stroke-opacity="0.5"/>
<line x1="408.6" y1="335.27" x2="411.6" y2="335.27" stroke="#e66e78" stroke-width="0.9" stroke-opacity="0.5"/>
<line x1="425.1" y1="285.31" x2="425.1" y2="335.13" stroke="#e66e78" stroke-width="0.6" stroke-opacity="0.07"/>
<line x1="423.6" y1="285.31" x2="426.6" y2="285.31" stroke="#e66e78" stroke-width="0.9" stroke-opacity="0.5"/>
<line x1="423.6" y1="335.13" x2="426.6" y2="335.13" stroke="#e66e78" stroke-width="0.9" stroke-opacity="0.5"/>
<line x1="440.1" y1="285.26" x2="440.1" y2="326.02" stroke="#e66e78" stroke-width="0.6" stroke-opacity="0.07"/>
<line x1="438.6" y1="285.26" x2="441.6" y2="285.26" stroke="#e66e78" stroke-width="0.9" stroke-opacity="0.5"/>
<line x1="438.6" y1="326.02" x2="441.6" y2="326.02" stroke="#e66e78" stroke-width="0.9" stroke-opacity="0.5"/>
<line x1="455.1" y1="295.05" x2="455.1" y2="328.48" stroke="#e66e78" stroke-width="0.6" stroke-opacity="0.07"/>
<line x1="453.6" y1="295.05" x2="456.6" y2="295.05" stroke="#e66e78" stroke-width="0.9" stroke-opacity="0.5"/>
<line x1="453.6" y1="328.48" x2="456.6" y2="328.48" stroke="#e66e78" stroke-width="0.9" stroke-opacity="0.5"/>
<line x1="470.1" y1="294.41" x2="470.1" y2="334.42" stroke="#e66e78" stroke-width="0.6" stroke-opacity="0.07"/>
<line x1="468.6" y1="294.41" x2="471.6" y2="294.41" stroke="#e66e78" stroke-width="0.9" stroke-opacity="0.5"/>
<line x1="468.6" y1="334.42" x2="471.6" y2="334.42" stroke="#e66e78" stroke-width="0.9" stroke-opacity="0.5"/>
<line x1="485.1" y1="308.08" x2="485.1" y2="331.17" stroke="#e66e78" stroke-width="0.6" stroke-opacity="0.07"/>
<line x1="483.6" y1="308.08" x2="486.6" y2="308.08" stroke="#e66e78" stroke-width="0.9" stroke-opacity="0.5"/>
<line x1="483.6" y1="331.17" x2="486.6" y2="331.17" stroke="#e66e78" stroke-width="0.9" stroke-opacity="0.5"/>
<line x1="500.1" y1="306.32" x2="500.1" y2="345.8" stroke="#e66e78" stroke-width="0.6" stroke-opacity="0.07"/>
<line x1="498.6" y1="306.32" x2="501.6" y2="306.32" stroke="#e66e78" stroke-width="0.9" stroke-opacity="0.5"/>
<line x1="498.6" y1="345.8" x2="501.6" y2="345.8" stroke="#e66e78" stroke-width="0.9" stroke-opacity="0.5"/>
<line x1="515.1" y1="293.72" x2="515.1" y2="332.25" stroke="#e66e78" stroke-width="0.6" stroke-opacity="0.07"/>
<line x1="513.6" y1="293.72" x2="516.6" y2="293.72" stroke="#e66e78" stroke-width="0.9" stroke-opacity="0.5"/>
<line x1="513.6" y1="332.25" x2="516.6" y2="332.25" stroke="#e66e78" stroke-width="0.9" stroke-opacity="0.5"/>
<line x1="530.1" y1="296.07" x2="530.1" y2="334.97" stroke="#e66e78" stroke-width="0.6" stroke-opacity="0.07"/>
<line x1="528.6" y1="296.07" x2="531.6" y2="296.07" stroke="#e66e78" stroke-width="0.9" stroke-opacity="0.5"/>
<line x1="528.6" y1="334.97" x2="531.6" y2="334.97" stroke="#e66e78" stroke-width="0.9" stroke-opacity="0.5"/>
<line x1="365.1" y1="303.22" x2="365.1" y2="338.04" stroke="#5082dc" stroke-width="0.6" stroke-opacity="0.07"/>
<line x1="363.6" y1="303.22" x2="366.6" y2="303.22" stroke="#5082dc" stroke-width="0.9" stroke-opacity="0.5"/>
<line x1="363.6" y1="338.04" x2="366.6" y2="338.04" stroke="#5082dc" stroke-width="0.9" stroke-opacity="0.5"/>
<line x1="380.1" y1="314.51" x2="380.1" y2="347.28" stroke="#5082dc" stroke-width="0.6" stroke-opacity="0.07"/>
<line x1="378.6" y1="314.51" x2="381.6" y2="314.51" stroke="#5082dc" stroke-width="0.9" stroke-opacity="0.5"/>
<line x1="378.6" y1="347.28" x2="381.6" y2="347.28" stroke="#5082dc" stroke-width="0.9" stroke-opacity="0.5"/>
<line x1="395.1" y1="307.73" x2="395.1" y2="335.05" stroke="#5082dc" stroke-width="0.6" stroke-opacity="0.07"/>
<line x1="393.6" y1="307.73" x2="396.6" y2="307.73" stroke="#5082dc" stroke-width="0.9" stroke-opacity="0.5"/>
<line x1="393.6" y1="335.05" x2="396.6" y2="335.05" stroke="#5082dc" stroke-width="0.9" stroke-opacity="0.5"/>
<line x1="410.1" y1="296.39" x2="410.1" y2="350.44" stroke="#5082dc" stroke-width="0.6" stroke-opacity="0.07"/>
<line x1="408.6" y1="296.39" x2="411.6" y2="296.39" stroke="#5082dc" stroke-width="0.9" stroke-opacity="0.5"/>
<line x1="408.6" y1="350.44" x2="411.6" y2="350.44" stroke="#5082dc" stroke-width="0.9" stroke-opacity="0.5"/>
<line x1="425.1" y1="306.87" x2="425.1" y2="347.24" stroke="#5082dc" stroke-width="0.6" stroke-opacity="0.07"/>
<line x1="423.6" y1="306.87" x2="426.6" y2="306.87" stroke="#5082dc" stroke-width="0.9" stroke-opacity="0.5"/>
<line x1="423.6" y1="347.24" x2="426.6" y2="347.24" stroke="#5082dc" stroke-width="0.9" stroke-opacity="0.5"/>
<line x1="440.1" y1="294.51" x2="440.1" y2="336" stroke="#5082dc" stroke-width="0.6" stroke-opacity="0.07"/>
<line x1="438.6" y1="294.51" x2="441.6" y2="294.51" stroke="#5082dc" stroke-width="0.9" stroke-opacity="0.5"/>
<line x1="438.6" y1="336" x2="441.6" y2="336" stroke="#5082dc" stroke-width="0.9" stroke-opacity="0.5"/>
<line x1="455.1" y1="300.78" x2="455.1" y2="339.02" stroke="#5082dc" stroke-width="0.6" stroke-opacity="0.07"/>
<line x1="453.6" y1="300.78" x2="456.6" y2="300.78" stroke="#5082dc" stroke-width="0.9" stroke-opacity="0.5"/>
<line x1="453.6" y1="339.02" x2="456.6" y2="339.02" stroke="#5082dc" stroke-width="0.9" stroke-opacity="0.5"/>
<line x1="470.1" y1="291.88" x2="470.1" y2="341.03" stroke="#5082dc" stroke-width="0.6" stroke-opacity="0.07"/>
<line x1="468.6" y1="291.88" x2="471.6" y2="291.88" stroke="#5082dc" stroke-width="0.9" stroke-opacity="0.5"/>
<line x1="468.6" y1="341.03" x2="471.6" y2="341.03" stroke="#5082dc" stroke-width="0.9" stroke-opacity="0.5"/>
<line x1="485.1" y1="289.53" x2="485.1" y2="332.96" stroke="#5082dc" stroke-width="0.6" stroke-opacity="0.07"/>
<line x1="483.6" y1="289.53" x2="486.6" y2="289.53" stroke="#5082dc" stroke-width="0.9" stroke-opacity="0.5"/>
<line x1="483.6" y1="332.96" x2="486.6" y2="332.96" stroke="#5082dc" stroke-width="0.9" stroke-opacity="0.5"/>
<line x1="500.1" y1="305.52" x2="500.1" y2="335.38" stroke="#5082dc" stroke-width="0.6" stroke-opacity="0.07"/>
<line x1="498.6" y1="305.52" x2="501.6" y2="305.52" stroke="#5082dc" stroke-width="0.9" stroke-opacity="0.5"/>
<line x1="498.6" y1="335.38" x2="501.6" y2="335.38" stroke="#5082dc" stroke-width="0.9" stroke-opacity="0.5"/>
<line x1="515.1" y1="307.59" x2="515.1" y2="331.25" stroke="#5082dc" stroke-width="0.6" stroke-opacity="0.07"/>
<line x1="513.6" y1="307.59" x2="516.6" y2="307.59" stroke="#5082dc" stroke-width="0.9" stroke-opacity="0.5"/>
<line x1="513.6" y1="331.25" x2="516.6" y2="331.25" stroke="#5082dc" stroke-width="0.9" stroke-opacity="0.5"/>
<line x1="530.1" y1="314.84" x2="530.1" y2="350.04" stroke="#5082dc" stroke-width="0.6" stroke-opacity="0.07"/>
<line x1="528.6" y1="314.84" x2="531.6" y2="314.84" stroke="#5082dc" stroke-width="0.9" stroke-opacity="0.5"/>
<line x1="528.6" y1="350.04" x2="531.6" y2="350.04" stroke="#5082dc" stroke-width="0.9" stroke-opacity="0.5"/>
<line x1="365.1" y1="304.5" x2="365.1" y2="334.37" stroke="#40a888" stroke-width="0.6" stroke-opacity="0.07"/>
<line x1="363.6" y1="304.5" x2="366.6" y2="304.5" stroke="#40a888" stroke-width="0.9" stroke-opacity="0.5"/>
<line x1="363.6" y1="334.37" x2="366.6" y2="334.37" stroke="#40a888" stroke-width="0.9" stroke-opacity="0.5"/>
<line x1="380.1" y1="301.04" x2="380.1" y2="332.58" stroke="#40a888" stroke-width="0.6" stroke-opacity="0.07"/>
<line x1="378.6" y1="301.04" x2="381.6" y2="301.04" stroke="#40a888" stroke-width="0.9" stroke-opacity="0.5"/>
<line x1="378.6" y1="332.58" x2="381.6" y2="332.58" stroke="#40a888" stroke-width="0.9" stroke-opacity="0.5"/>
<line x1="395.1" y1="294.52" x2="395.1" y2="339.08" stroke="#40a888" stroke-width="0.6" stroke-opacity="0.07"/>
<line x1="393.6" y1="294.52" x2="396.6" y2="294.52" stroke="#40a888" stroke-width="0.9" stroke-opacity="0.5"/>
<line x1="393.6" y1="339.08" x2="396.6" y2="339.08" stroke="#40a888" stroke-width="0.9" stroke-opacity="0.5"/>
<line x1="410.1" y1="314.75" x2="410.1" y2="348.41" stroke="#40a888" stroke-width="0.6" stroke-opacity="0.07"/>
<line x1="408.6" y1="314.75" x2="411.6" y2="314.75" stroke="#40a888" stroke-width="0.9" stroke-opacity="0.5"/>
<line x1="408.6" y1="348.41" x2="411.6" y2="348.41" stroke="#40a888" stroke-width="0.9" stroke-opacity="0.5"/>
<line x1="425.1" y1="307.83" x2="425.1" y2="343.49" stroke="#40a888" stroke-width="0.6" stroke-opacity="0.07"/>
<line x1="423.6" y1="307.83" x2="426.6" y2="307.83" stroke="#40a888" stroke-width="0.9" stroke-opacity="0.5"/>
<line x1="423.6" y1="343.49" x2="426.6" y2="343.49" stroke="#40a888" stroke-width="0.9" stroke-opacity="0.5"/>
<line x1="440.1" y1="302.95" x2="440.1" y2="343.95" stroke="#40a888" stroke-width="0.6" stroke-opacity="0.07"/>
<line x1="438.6" y1="302.95" x2="441.6" y2="302.95" stroke="#40a888" stroke-width="0.9" stroke-opacity="0.5"/>
<line x1="438.6" y1="343.95" x2="441.6" y2="343.95" stroke="#40a888" stroke-width="0.9" stroke-opacity="0.5"/>
<line x1="455.1" y1="310.97" x2="455.1" y2="359.32" stroke="#40a888" stroke-width="0.6" stroke-opacity="0.07"/>
<line x1="453.6" y1="310.97" x2="456.6" y2="310.97" stroke="#40a888" stroke-width="0.9" stroke-opacity="0.5"/>
<line x1="453.6" y1="359.32" x2="456.6" y2="359.32" stroke="#40a888" stroke-width="0.9" stroke-opacity="0.5"/>
<line x1="470.1" y1="329.01" x2="470.1" y2="359.32" stroke="#40a888" stroke-width="0.6" stroke-opacity="0.07"/>
<line x1="468.6" y1="329.01" x2="471.6" y2="329.01" stroke="#40a888" stroke-width="0.9" stroke-opacity="0.5"/>
<line x1="468.6" y1="359.32" x2="471.6" y2="359.32" stroke="#40a888" stroke-width="0.9" stroke-opacity="0.5"/>
<line x1="485.1" y1="316.69" x2="485.1" y2="352.92" stroke="#40a888" stroke-width="0.6" stroke-opacity="0.07"/>
<line x1="483.6" y1="316.69" x2="486.6" y2="316.69" stroke="#40a888" stroke-width="0.9" stroke-opacity="0.5"/>
<line x1="483.6" y1="352.92" x2="486.6" y2="352.92" stroke="#40a888" stroke-width="0.9" stroke-opacity="0.5"/>
<line x1="500.1" y1="318.9" x2="500.1" y2="339.32" stroke="#40a888" stroke-width="0.6" stroke-opacity="0.07"/>
<line x1="498.6" y1="318.9" x2="501.6" y2="318.9" stroke="#40a888" stroke-width="0.9" stroke-opacity="0.5"/>
<line x1="498.6" y1="339.32" x2="501.6" y2="339.32" stroke="#40a888" stroke-width="0.9" stroke-opacity="0.5"/>
<line x1="515.1" y1="308.46" x2="515.1" y2="346.39" stroke="#40a888" stroke-width="0.6" stroke-opacity="0.07"/>
<line x1="513.6" y1="308.46" x2="516.6" y2="308.46" stroke="#40a888" stroke-width="0.9" stroke-opacity="0.5"/>
<line x1="513.6" y1="346.39" x2="516.6" y2="346.39" stroke="#40a888" stroke-width="0.9" stroke-opacity="0.5"/>
<line x1="530.1" y1="305.19" x2="530.1" y2="340.43" stroke="#40a888" stroke-width="0.6" stroke-opacity="0.07"/>
<line x1="528.6" y1="305.19" x2="531.6" y2="305.19" stroke="#40a888" stroke-width="0.9" stroke-opacity="0.5"/>
<line x1="528.6" y1="340.43" x2="531.6" y2="340.43" stroke="#40a888" stroke-width="0.9" stroke-opacity="0.5"/>
<line x1="365.1" y1="299.05" x2="365.1" y2="353.02" stroke="#c090e0" stroke-width="0.6" stroke-opacity="0.07"/>
<line x1="363.6" y1="299.05" x2="366.6" y2="299.05" stroke="#c090e0" stroke-width="0.9" stroke-opacity="0.5"/>
<line x1="363.6" y1="353.02" x2="366.6" y2="353.02" stroke="#c090e0" stroke-width="0.9" stroke-opacity="0.5"/>
<line x1="380.1" y1="310.98" x2="380.1" y2="343.35" stroke="#c090e0" stroke-width="0.6" stroke-opacity="0.07"/>
<line x1="378.6" y1="310.98" x2="381.6" y2="310.98" stroke="#c090e0" stroke-width="0.9" stroke-opacity="0.5"/>
<line x1="378.6" y1="343.35" x2="381.6" y2="343.35" stroke="#c090e0" stroke-width="0.9" stroke-opacity="0.5"/>
<line x1="395.1" y1="303.17" x2="395.1" y2="345.83" stroke="#c090e0" stroke-width="0.6" stroke-opacity="0.07"/>
<line x1="393.6" y1="303.17" x2="396.6" y2="303.17" stroke="#c090e0" stroke-width="0.9" stroke-opacity="0.5"/>
<line x1="393.6" y1="345.83" x2="396.6" y2="345.83" stroke="#c090e0" stroke-width="0.9" stroke-opacity="0.5"/>
<line x1="410.1" y1="319.25" x2="410.1" y2="352.46" stroke="#c090e0" stroke-width="0.6" stroke-opacity="0.07"/>
<line x1="408.6" y1="319.25" x2="411.6" y2="319.25" stroke="#c090e0" stroke-width="0.9" stroke-opacity="0.5"/>
<line x1="408.6" y1="352.46" x2="411.6" y2="352.46" stroke="#c090e0" stroke-width="0.9" stroke-opacity="0.5"/>
<line x1="425.1" y1="304.63" x2="425.1" y2="354.48" stroke="#c090e0" stroke-width="0.6" stroke-opacity="0.07"/>
<line x1="423.6" y1="304.63" x2="426.6" y2="304.63" stroke="#c090e0" stroke-width="0.9" stroke-opacity="0.5"/>
<line x1="423.6" y1="354.48" x2="426.6" y2="354.48" stroke="#c090e0" stroke-width="0.9" stroke-opacity="0.5"/>
<line x1="440.1" y1="323.83" x2="440.1" y2="358.49" stroke="#c090e0" stroke-width="0.6" stroke-opacity="0.07"/>
<line x1="438.6" y1="323.83" x2="441.6" y2="323.83" stroke="#c090e0" stroke-width="0.9" stroke-opacity="0.5"/>
<line x1="438.6" y1="358.49" x2="441.6" y2="358.49" stroke="#c090e0" stroke-width="0.9" stroke-opacity="0.5"/>
<line x1="455.1" y1="328.83" x2="455.1" y2="355.49" stroke="#c090e0" stroke-width="0.6" stroke-opacity="0.07"/>
<line x1="453.6" y1="328.83" x2="456.6" y2="328.83" stroke="#c090e0" stroke-width="0.9" stroke-opacity="0.5"/>
<line x1="453.6" y1="355.49" x2="456.6" y2="355.49" stroke="#c090e0" stroke-width="0.9" stroke-opacity="0.5"/>
<line x1="470.1" y1="318.11" x2="470.1" y2="359.32" stroke="#c090e0" stroke-width="0.6" stroke-opacity="0.07"/>
<line x1="468.6" y1="318.11" x2="471.6" y2="318.11" stroke="#c090e0" stroke-width="0.9" stroke-opacity="0.5"/>
<line x1="468.6" y1="359.32" x2="471.6" y2="359.32" stroke="#c090e0" stroke-width="0.9" stroke-opacity="0.5"/>
<line x1="485.1" y1="321.27" x2="485.1" y2="359.32" stroke="#c090e0" stroke-width="0.6" stroke-opacity="0.07"/>
<line x1="483.6" y1="321.27" x2="486.6" y2="321.27" stroke="#c090e0" stroke-width="0.9" stroke-opacity="0.5"/>
<line x1="483.6" y1="359.32" x2="486.6" y2="359.32" stroke="#c090e0" stroke-width="0.9" stroke-opacity="0.5"/>
<line x1="500.1" y1="312.81" x2="500.1" y2="348.88" stroke="#c090e0" stroke-width="0.6" stroke-opacity="0.07"/>
<line x1="498.6" y1="312.81" x2="501.6" y2="312.81" stroke="#c090e0" stroke-width="0.9" stroke-opacity="0.5"/>
<line x1="498.6" y1="348.88" x2="501.6" y2="348.88" stroke="#c090e0" stroke-width="0.9" stroke-opacity="0.5"/>
<line x1="515.1" y1="312.66" x2="515.1" y2="341.74" stroke="#c090e0" stroke-width="0.6" stroke-opacity="0.07"/>
<line x1="513.6" y1="312.66" x2="516.6" y2="312.66" stroke="#c090e0" stroke-width="0.9" stroke-opacity="0.5"/>
<line x1="513.6" y1="341.74" x2="516.6" y2="341.74" stroke="#c090e0" stroke-width="0.9" stroke-opacity="0.5"/>
<line x1="530.1" y1="317.84" x2="530.1" y2="341.3" stroke="#c090e0" stroke-width="0.6" stroke-opacity="0.07"/>
<line x1="528.6" y1="317.84" x2="531.6" y2="317.84" stroke="#c090e0" stroke-width="0.9" stroke-opacity="0.5"/>
<line x1="528.6" y1="341.3" x2="531.6" y2="341.3" stroke="#c090e0" stroke-width="0.9" stroke-opacity="0.5"/>
<line x1="365.1" y1="280.29" x2="365.1" y2="339.21" stroke="#d8b050" stroke-width="0.6" stroke-opacity="0.3"/>
<line x1="363.6" y1="280.29" x2="366.6" y2="280.29" stroke="#d8b050" stroke-width="0.9" stroke-opacity="0.5"/>
<line x1="363.6" y1="339.21" x2="366.6" y2="339.21" stroke="#d8b050" stroke-width="0.9" stroke-opacity="0.5"/>
<line x1="380.1" y1="293.29" x2="380.1" y2="327.53" stroke="#d8b050" stroke-width="0.6" stroke-opacity="0.3"/>
<line x1="378.6" y1="293.29" x2="381.6" y2="293.29" stroke="#d8b050" stroke-width="0.9" stroke-opacity="0.5"/>
<line x1="378.6" y1="327.53" x2="381.6" y2="327.53" stroke="#d8b050" stroke-width="0.9" stroke-opacity="0.5"/>
<line x1="395.1" y1="280.44" x2="395.1" y2="338.14" stroke="#d8b050" stroke-width="0.6" stroke-opacity="0.3"/>
<line x1="393.6" y1="280.44" x2="396.6" y2="280.44" stroke="#d8b050" stroke-width="0.9" stroke-opacity="0.5"/>
<line x1="393.6" y1="338.14" x2="396.6" y2="338.14" stroke="#d8b050" stroke-width="0.9" stroke-opacity="0.5"/>
<line x1="410.1" y1="298.93" x2="410.1" y2="340.8" stroke="#d8b050" stroke-width="0.6" stroke-opacity="0.3"/>
<line x1="408.6" y1="298.93" x2="411.6" y2="298.93" stroke="#d8b050" stroke-width="0.9" stroke-opacity="0.5"/>
<line x1="408.6" y1="340.8" x2="411.6" y2="340.8" stroke="#d8b050" stroke-width="0.9" stroke-opacity="0.5"/>
<line x1="425.1" y1="294.5" x2="425.1" y2="348.98" stroke="#d8b050" stroke-width="0.6" stroke-opacity="0.3"/>
<line x1="423.6" y1="294.5" x2="426.6" y2="294.5" stroke="#d8b050" stroke-width="0.9" stroke-opacity="0.5"/>
<line x1="423.6" y1="348.98" x2="426.6" y2="348.98" stroke="#d8b050" stroke-width="0.9" stroke-opacity="0.5"/>
<line x1="440.1" y1="297.96" x2="440.1" y2="343.6" stroke="#d8b050" stroke-width="0.6" stroke-opacity="0.3"/>
<line x1="438.6" y1="297.96" x2="441.6" y2="297.96" stroke="#d8b050" stroke-width="0.9" stroke-opacity="0.5"/>
<line x1="438.6" y1="343.6" x2="441.6" y2="343.6" stroke="#d8b050" stroke-width="0.9" stroke-opacity="0.5"/>
<line x1="455.1" y1="309.67" x2="455.1" y2="355.01" stroke="#d8b050" stroke-width="0.6" stroke-opacity="0.3"/>
<line x1="453.6" y1="309.67" x2="456.6" y2="309.67" stroke="#d8b050" stroke-width="0.9" stroke-opacity="0.5"/>
<line x1="453.6" y1="355.01" x2="456.6" y2="355.01" stroke="#d8b050" stroke-width="0.9" stroke-opacity="0.5"/>
<line x1="470.1" y1="312.07" x2="470.1" y2="350.55" stroke="#d8b050" stroke-width="0.6" stroke-opacity="0.3"/>
<line x1="468.6" y1="312.07" x2="471.6" y2="312.07" stroke="#d8b050" stroke-width="0.9" stroke-opacity="0.5"/>
<line x1="468.6" y1="350.55" x2="471.6" y2="350.55" stroke="#d8b050" stroke-width="0.9" stroke-opacity="0.5"/>
<line x1="485.1" y1="293.42" x2="485.1" y2="342.11" stroke="#d8b050" stroke-width="0.6" stroke-opacity="0.3"/>
<line x1="483.6" y1="293.42" x2="486.6" y2="293.42" stroke="#d8b050" stroke-width="0.9" stroke-opacity="0.5"/>
<line x1="483.6" y1="342.11" x2="486.6" y2="342.11" stroke="#d8b050" stroke-width="0.9" stroke-opacity="0.5"/>
<line x1="500.1" y1="291.38" x2="500.1" y2="350.42" stroke="#d8b050" stroke-width="0.6" stroke-opacity="0.3"/>
<line x1="498.6" y1="291.38" x2="501.6" y2="291.38" stroke="#d8b050" stroke-width="0.9" stroke-opacity="0.5"/>
<line x1="498.6" y1="350.42" x2="501.6" y2="350.42" stroke="#d8b050" stroke-width="0.9" stroke-opacity="0.5"/>
<line x1="515.1" y1="288.7" x2="515.1" y2="343.31" stroke="#d8b050" stroke-width="0.6" stroke-opacity="0.3"/>
<line x1="513.6" y1="288.7" x2="516.6" y2="288.7" stroke="#d8b050" stroke-width="0.9" stroke-opacity="0.5"/>
<line x1="513.6" y1="343.31" x2="516.6" y2="343.31" stroke="#d8b050" stroke-width="0.9" stroke-opacity="0.5"/>
<line x1="530.1" y1="296.42" x2="530.1" y2="335.45" stroke="#d8b050" stroke-width="0.6" stroke-opacity="0.3"/>
<line x1="528.6" y1="296.42" x2="531.6" y2="296.42" stroke="#d8b050" stroke-width="0.9" stroke-opacity="0.5"/>
<line x1="528.6" y1="335.45" x2="531.6" y2="335.45" stroke="#d8b050" stroke-width="0.9" stroke-opacity="0.5"/>
<line x1="365.1" y1="291.04" x2="365.1" y2="326.61" stroke="#38cccc" stroke-width="0.6" stroke-opacity="0.07"/>
<line x1="363.6" y1="291.04" x2="366.6" y2="291.04" stroke="#38cccc" stroke-width="0.9" stroke-opacity="0.5"/>
<line x1="363.6" y1="326.61" x2="366.6" y2="326.61" stroke="#38cccc" stroke-width="0.9" stroke-opacity="0.5"/>
<line x1="380.1" y1="289.73" x2="380.1" y2="322.51" stroke="#38cccc" stroke-width="0.6" stroke-opacity="0.07"/>
<line x1="378.6" y1="289.73" x2="381.6" y2="289.73" stroke="#38cccc" stroke-width="0.9" stroke-opacity="0.5"/>
<line x1="378.6" y1="322.51" x2="381.6" y2="322.51" stroke="#38cccc" stroke-width="0.9" stroke-opacity="0.5"/>
<line x1="395.1" y1="284.43" x2="395.1" y2="338.54" stroke="#38cccc" stroke-width="0.6" stroke-opacity="0.07"/>
<line x1="393.6" y1="284.43" x2="396.6" y2="284.43" stroke="#38cccc" stroke-width="0.9" stroke-opacity="0.5"/>
<line x1="393.6" y1="338.54" x2="396.6" y2="338.54" stroke="#38cccc" stroke-width="0.9" stroke-opacity="0.5"/>
<line x1="410.1" y1="290.35" x2="410.1" y2="337.91" stroke="#38cccc" stroke-width="0.6" stroke-opacity="0.07"/>
<line x1="408.6" y1="290.35" x2="411.6" y2="290.35" stroke="#38cccc" stroke-width="0.9" stroke-opacity="0.5"/>
<line x1="408.6" y1="337.91" x2="411.6" y2="337.91" stroke="#38cccc" stroke-width="0.9" stroke-opacity="0.5"/>
<line x1="425.1" y1="307.11" x2="425.1" y2="348.27" stroke="#38cccc" stroke-width="0.6" stroke-opacity="0.07"/>
<line x1="423.6" y1="307.11" x2="426.6" y2="307.11" stroke="#38cccc" stroke-width="0.9" stroke-opacity="0.5"/>
<line x1="423.6" y1="348.27" x2="426.6" y2="348.27" stroke="#38cccc" stroke-width="0.9" stroke-opacity="0.5"/>
<line x1="440.1" y1="310.45" x2="440.1" y2="344.76" stroke="#38cccc" stroke-width="0.6" stroke-opacity="0.07"/>
<line x1="438.6" y1="310.45" x2="441.6" y2="310.45" stroke="#38cccc" stroke-width="0.9" stroke-opacity="0.5"/>
<line x1="438.6" y1="344.76" x2="441.6" y2="344.76" stroke="#38cccc" stroke-width="0.9" stroke-opacity="0.5"/>
<line x1="455.1" y1="318.91" x2="455.1" y2="349.4" stroke="#38cccc" stroke-width="0.6" stroke-opacity="0.07"/>
<line x1="453.6" y1="318.91" x2="456.6" y2="318.91" stroke="#38cccc" stroke-width="0.9" stroke-opacity="0.5"/>
<line x1="453.6" y1="349.4" x2="456.6" y2="349.4" stroke="#38cccc" stroke-width="0.9" stroke-opacity="0.5"/>
<line x1="470.1" y1="317.54" x2="470.1" y2="359.32" stroke="#38cccc" stroke-width="0.6" stroke-opacity="0.07"/>
<line x1="468.6" y1="317.54" x2="471.6" y2="317.54" stroke="#38cccc" stroke-width="0.9" stroke-opacity="0.5"/>
<line x1="468.6" y1="359.32" x2="471.6" y2="359.32" stroke="#38cccc" stroke-width="0.9" stroke-opacity="0.5"/>
<line x1="485.1" y1="303.82" x2="485.1" y2="353.65" stroke="#38cccc" stroke-width="0.6" stroke-opacity="0.07"/>
<line x1="483.6" y1="303.82" x2="486.6" y2="303.82" stroke="#38cccc" stroke-width="0.9" stroke-opacity="0.5"/>
<line x1="483.6" y1="353.65" x2="486.6" y2="353.65" stroke="#38cccc" stroke-width="0.9" stroke-opacity="0.5"/>
<line x1="500.1" y1="304.59" x2="500.1" y2="340.06" stroke="#38cccc" stroke-width="0.6" stroke-opacity="0.07"/>
<line x1="498.6" y1="304.59" x2="501.6" y2="304.59" stroke="#38cccc" stroke-width="0.9" stroke-opacity="0.5"/>
<line x1="498.6" y1="340.06" x2="501.6" y2="340.06" stroke="#38cccc" stroke-width="0.9" stroke-opacity="0.5"/>
<line x1="515.1" y1="301.23" x2="515.1" y2="326.81" stroke="#38cccc" stroke-width="0.6" stroke-opacity="0.07"/>
<line x1="513.6" y1="301.23" x2="516.6" y2="301.23" stroke="#38cccc" stroke-width="0.9" stroke-opacity="0.5"/>
<line x1="513.6" y1="326.81" x2="516.6" y2="326.81" stroke="#38cccc" stroke-width="0.9" stroke-opacity="0.5"/>
<line x1="530.1" y1="280.03" x2="530.1" y2="329.66" stroke="#38cccc" stroke-width="0.6" stroke-opacity="0.07"/>
<line x1="528.6" y1="280.03" x2="531.6" y2="280.03" stroke="#38cccc" stroke-width="0.9" stroke-opacity="0.5"/>
<line x1="528.6" y1="329.66" x2="531.6" y2="329.66" stroke="#38cccc" stroke-width="0.9" stroke-opacity="0.5"/>
<line x1="365.1" y1="297.28" x2="365.1" y2="336.56" stroke="#8f7272" stroke-width="0.6" stroke-opacity="0.07"/>
<line x1="363.6" y1="297.28" x2="366.6" y2="297.28" stroke="#8f7272" stroke-width="0.9" stroke-opacity="0.5"/>
<line x1="363.6" y1="336.56" x2="366.6" y2="336.56" stroke="#8f7272" stroke-width="0.9" stroke-opacity="0.5"/>
<line x1="380.1" y1="291.03" x2="380.1" y2="337.88" stroke="#8f7272" stroke-width="0.6" stroke-opacity="0.07"/>
<line x1="378.6" y1="291.03" x2="381.6" y2="291.03" stroke="#8f7272" stroke-width="0.9" stroke-opacity="0.5"/>
<line x1="378.6" y1="337.88" x2="381.6" y2="337.88" stroke="#8f7272" stroke-width="0.9" stroke-opacity="0.5"/>
<line x1="395.1" y1="297.22" x2="395.1" y2="342.66" stroke="#8f7272" stroke-width="0.6" stroke-opacity="0.07"/>
<line x1="393.6" y1="297.22" x2="396.6" y2="297.22" stroke="#8f7272" stroke-width="0.9" stroke-opacity="0.5"/>
<line x1="393.6" y1="342.66" x2="396.6" y2="342.66" stroke="#8f7272" stroke-width="0.9" stroke-opacity="0.5"/>
<line x1="410.1" y1="312.41" x2="410.1" y2="350.5" stroke="#8f7272" stroke-width="0.6" stroke-opacity="0.07"/>
<line x1="408.6" y1="312.41" x2="411.6" y2="312.41" stroke="#8f7272" stroke-width="0.9" stroke-opacity="0.5"/>
<line x1="408.6" y1="350.5" x2="411.6" y2="350.5" stroke="#8f7272" stroke-width="0.9" stroke-opacity="0.5"/>
<line x1="425.1" y1="314.2" x2="425.1" y2="347.17" stroke="#8f7272" stroke-width="0.6" stroke-opacity="0.07"/>
<line x1="423.6" y1="314.2" x2="426.6" y2="314.2" stroke="#8f7272" stroke-width="0.9" stroke-opacity="0.5"/>
<line x1="423.6" y1="347.17" x2="426.6" y2="347.17" stroke="#8f7272" stroke-width="0.9" stroke-opacity="0.5"/>
<line x1="440.1" y1="305.77" x2="440.1" y2="352.46" stroke="#8f7272" stroke-width="0.6" stroke-opacity="0.07"/>
<line x1="438.6" y1="305.77" x2="441.6" y2="305.77" stroke="#8f7272" stroke-width="0.9" stroke-opacity="0.5"/>
<line x1="438.6" y1="352.46" x2="441.6" y2="352.46" stroke="#8f7272" stroke-width="0.9" stroke-opacity="0.5"/>
<line x1="455.1" y1="320.86" x2="455.1" y2="359.32" stroke="#8f7272" stroke-width="0.6" stroke-opacity="0.07"/>
<line x1="453.6" y1="320.86" x2="456.6" y2="320.86" stroke="#8f7272" stroke-width="0.9" stroke-opacity="0.5"/>
<line x1="453.6" y1="359.32" x2="456.6" y2="359.32" stroke="#8f7272" stroke-width="0.9" stroke-opacity="0.5"/>
<line x1="470.1" y1="311.63" x2="470.1" y2="354.04" stroke="#8f7272" stroke-width="0.6" stroke-opacity="0.07"/>
<line x1="468.6" y1="311.63" x2="471.6" y2="311.63" stroke="#8f7272" stroke-width="0.9" stroke-opacity="0.5"/>
<line x1="468.6" y1="354.04" x2="471.6" y2="354.04" stroke="#8f7272" stroke-width="0.9" stroke-opacity="0.5"/>
<line x1="485.1" y1="324.38" x2="485.1" y2="352.44" stroke="#8f7272" stroke-width="0.6" stroke-opacity="0.07"/>
<line x1="483.6" y1="324.38" x2="486.6" y2="324.38" stroke="#8f7272" stroke-width="0.9" stroke-opacity="0.5"/>
<line x1="483.6" y1="352.44" x2="486.6" y2="352.44" stroke="#8f7272" stroke-width="0.9" stroke-opacity="0.5"/>
<line x1="500.1" y1="316.16" x2="500.1" y2="351.3" stroke="#8f7272" stroke-width="0.6" stroke-opacity="0.07"/>
<line x1="498.6" y1="316.16" x2="501.6" y2="316.16" stroke="#8f7272" stroke-width="0.9" stroke-opacity="0.5"/>
<line x1="498.6" y1="351.3" x2="501.6" y2="351.3" stroke="#8f7272" stroke-width="0.9" stroke-opacity="0.5"/>
<line x1="515.1" y1="304.84" x2="515.1" y2="346.78" stroke="#8f7272" stroke-width="0.6" stroke-opacity="0.07"/>
<line x1="513.6" y1="304.84" x2="516.6" y2="304.84" stroke="#8f7272" stroke-width="0.9" stroke-opacity="0.5"/>
<line x1="513.6" y1="346.78" x2="516.6" y2="346.78" stroke="#8f7272" stroke-width="0.9" stroke-opacity="0.5"/>
<line x1="530.1" y1="295.42" x2="530.1" y2="341.07" stroke="#8f7272" stroke-width="0.6" stroke-opacity="0.07"/>
<line x1="528.6" y1="295.42" x2="531.6" y2="295.42" stroke="#8f7272" stroke-width="0.9" stroke-opacity="0.5"/>
<line x1="528.6" y1="341.07" x2="531.6" y2="341.07" stroke="#8f7272" stroke-width="0.9" stroke-opacity="0.5"/>
<line x1="365.1" y1="286.4" x2="365.1" y2="333.32" stroke="#aaaa3c" stroke-width="0.6" stroke-opacity="0.3"/>
<line x1="363.6" y1="286.4" x2="366.6" y2="286.4" stroke="#aaaa3c" stroke-width="0.9" stroke-opacity="0.5"/>
<line x1="363.6" y1="333.32" x2="366.6" y2="333.32" stroke="#aaaa3c" stroke-width="0.9" stroke-opacity="0.5"/>
<line x1="380.1" y1="280.86" x2="380.1" y2="338.17" stroke="#aaaa3c" stroke-width="0.6" stroke-opacity="0.3"/>
<line x1="378.6" y1="280.86" x2="381.6" y2="280.86" stroke="#aaaa3c" stroke-width="0.9" stroke-opacity="0.5"/>
<line x1="378.6" y1="338.17" x2="381.6" y2="338.17" stroke="#aaaa3c" stroke-width="0.9" stroke-opacity="0.5"/>
<line x1="395.1" y1="290.7" x2="395.1" y2="340.67" stroke="#aaaa3c" stroke-width="0.6" stroke-opacity="0.3"/>
<line x1="393.6" y1="290.7" x2="396.6" y2="290.7" stroke="#aaaa3c" stroke-width="0.9" stroke-opacity="0.5"/>
<line x1="393.6" y1="340.67" x2="396.6" y2="340.67" stroke="#aaaa3c" stroke-width="0.9" stroke-opacity="0.5"/>
<line x1="410.1" y1="285.32" x2="410.1" y2="343.1" stroke="#aaaa3c" stroke-width="0.6" stroke-opacity="0.3"/>
<line x1="408.6" y1="285.32" x2="411.6" y2="285.32" stroke="#aaaa3c" stroke-width="0.9" stroke-opacity="0.5"/>
<line x1="408.6" y1="343.1" x2="411.6" y2="343.1" stroke="#aaaa3c" stroke-width="0.9" stroke-opacity="0.5"/>
<line x1="425.1" y1="280.11" x2="425.1" y2="344.02" stroke="#aaaa3c" stroke-width="0.6" stroke-opacity="0.3"/>
<line x1="423.6" y1="280.11" x2="426.6" y2="280.11" stroke="#aaaa3c" stroke-width="0.9" stroke-opacity="0.5"/>
<line x1="423.6" y1="344.02" x2="426.6" y2="344.02" stroke="#aaaa3c" stroke-width="0.9" stroke-opacity="0.5"/>
<line x1="440.1" y1="284.6" x2="440.1" y2="333.09" stroke="#aaaa3c" stroke-width="0.6" stroke-opacity="0.3"/>
<line x1="438.6" y1="284.6" x2="441.6" y2="284.6" stroke="#aaaa3c" stroke-width="0.9" stroke-opacity="0.5"/>
<line x1="438.6" y1="333.09" x2="441.6" y2="333.09" stroke="#aaaa3c" stroke-width="0.9" stroke-opacity="0.5"/>
<line x1="455.1" y1="288.11" x2="455.1" y2="334.4" stroke="#aaaa3c" stroke-width="0.6" stroke-opacity="0.3"/>
<line x1="453.6" y1="288.11" x2="456.6" y2="288.11" stroke="#aaaa3c" stroke-width="0.9" stroke-opacity="0.5"/>
<line x1="453.6" y1="334.4" x2="456.6" y2="334.4" stroke="#aaaa3c" stroke-width="0.9" stroke-opacity="0.5"/>
<line x1="470.1" y1="271.65" x2="470.1" y2="327.53" stroke="#aaaa3c" stroke-width="0.6" stroke-opacity="0.3"/>
<line x1="468.6" y1="271.65" x2="471.6" y2="271.65" stroke="#aaaa3c" stroke-width="0.9" stroke-opacity="0.5"/>
<line x1="468.6" y1="327.53" x2="471.6" y2="327.53" stroke="#aaaa3c" stroke-width="0.9" stroke-opacity="0.5"/>
<line x1="485.1" y1="278.29" x2="485.1" y2="333.06" stroke="#aaaa3c" stroke-width="0.6" stroke-opacity="0.3"/>
<line x1="483.6" y1="278.29" x2="486.6" y2="278.29" stroke="#aaaa3c" stroke-width="0.9" stroke-opacity="0.5"/>
<line x1="483.6" y1="333.06" x2="486.6" y2="333.06" stroke="#aaaa3c" stroke-width="0.9" stroke-opacity="0.5"/>
<line x1="500.1" y1="282.63" x2="500.1" y2="329.84" stroke="#aaaa3c" stroke-width="0.6" stroke-opacity="0.3"/>
<line x1="498.6" y1="282.63" x2="501.6" y2="282.63" stroke="#aaaa3c" stroke-width="0.9" stroke-opacity="0.5"/>
<line x1="498.6" y1="329.84" x2="501.6" y2="329.84" stroke="#aaaa3c" stroke-width="0.9" stroke-opacity="0.5"/>
<line x1="515.1" y1="280.13" x2="515.1" y2="334.53" stroke="#aaaa3c" stroke-width="0.6" stroke-opacity="0.3"/>
<line x1="513.6" y1="280.13" x2="516.6" y2="280.13" stroke="#aaaa3c" stroke-width="0.9" stroke-opacity="0.5"/>
<line x1="513.6" y1="334.53" x2="516.6" y2="334.53" stroke="#aaaa3c" stroke-width="0.9" stroke-opacity="0.5"/>
<line x1="530.1" y1="284.54" x2="530.1" y2="334.27" stroke="#aaaa3c" stroke-width="0.6" stroke-opacity="0.3"/>
<line x1="528.6" y1="284.54" x2="531.6" y2="284.54" stroke="#aaaa3c" stroke-width="0.9" stroke-opacity="0.5"/>
<line x1="528.6" y1="334.27" x2="531.6" y2="334.27" stroke="#aaaa3c" stroke-width="0.9" stroke-opacity="0.5"/>
<polyline points="365.1,330.05 380.1,329.29 395.1,325.39 410.1,332.43 425.1,332.76 440.1,335.47 455.1,341.65 470.1,342.19 485.1,339.48 500.1,335.47 515.1,330.37 530.1,330.37" fill="none" stroke="#c090e0" stroke-width="0.9"/>
<polyline points="365.1,315.96 380.1,318.67 395.1,322.46 410.1,331.13 425.1,331.13 440.1,333.3 455.1,338.07 470.1,336.55 485.1,335.47 500.1,332.43 515.1,325.71 530.1,320.29" fill="none" stroke="#8f7272" stroke-width="0.9"/>
<polyline points="365.1,315.41 380.1,319.21 395.1,323.11 410.1,332.43 425.1,333.95 440.1,334.93 455.1,338.07 470.1,340.24 485.1,335.47 500.1,329.94 515.1,323.22 530.1,320.29" fill="none" stroke="#40a888" stroke-width="0.9"/>
<polyline points="365.1,315.41 380.1,318.12 395.1,321.38 410.1,328.53 425.1,327.77 440.1,328.53 455.1,332.43 470.1,334.38 485.1,331.46 500.1,327.34 515.1,322.68 530.1,320.18" fill="none" stroke="#d8b050" stroke-width="0.9"/>
<polyline points="365.1,305.12 380.1,306.96 395.1,316.93 410.1,322.35 425.1,328.53 440.1,331.67 455.1,338.5 470.1,336.55 485.1,335.47 500.1,326.25 515.1,314 530.1,307.83" fill="none" stroke="#38cccc" stroke-width="0.9"/>
<polyline points="365.1,319.97 380.1,320.51 395.1,319.21 410.1,319.53 425.1,316.61 440.1,315.63 455.1,316.06 470.1,317.04 485.1,319.21 500.1,323.22 515.1,321.16 530.1,324.19" fill="none" stroke="#e66e78" stroke-width="0.9"/>
<polyline points="365.1,327.45 380.1,325.39 395.1,323.11 410.1,328.53 425.1,323.98 440.1,317.04 455.1,316.06 470.1,317.69 485.1,319.75 500.1,324.19 515.1,321.59 530.1,332.22" fill="none" stroke="#5082dc" stroke-width="0.9"/>
<polyline points="365.1,314.87 380.1,316.93 395.1,319.21 410.1,323.98 425.1,320.83 440.1,316.39 455.1,313.03 470.1,311.62 485.1,313.46 500.1,318.56 515.1,317.04 530.1,319.21" fill="none" stroke="#aaaa3c" stroke-width="0.9"/>
<polyline points="365.1,313.25 380.1,286.69 395.1,283.44 410.1,282.35 425.1,282.89 440.1,281.27 455.1,282.35 470.1,286.69 485.1,287.01 500.1,293.52 515.1,295.36 530.1,319.75" fill="none" stroke="#767676" stroke-width="0.9"/>
<line x1="350.1" y1="360.9" x2="350.1" y2="208.64" stroke="#3a3a3a" stroke-width="1.05" />
<line x1="346.9" y1="360.4" x2="350.1" y2="360.4" stroke="#3a3a3a" stroke-width="1.05" />
<text transform="translate(345.2,363.4) scale(1,1.18)" font-size="7.6" text-anchor="end" fill="#222">0</text>
<line x1="348.4" y1="349.56" x2="350.1" y2="349.56" stroke="#3a3a3a" stroke-width="1.05" />
<line x1="346.9" y1="338.72" x2="350.1" y2="338.72" stroke="#3a3a3a" stroke-width="1.05" />
<text transform="translate(345.2,341.72) scale(1,1.18)" font-size="7.6" text-anchor="end" fill="#222">20</text>
<line x1="348.4" y1="327.88" x2="350.1" y2="327.88" stroke="#3a3a3a" stroke-width="1.05" />
<line x1="346.9" y1="317.04" x2="350.1" y2="317.04" stroke="#3a3a3a" stroke-width="1.05" />
<text transform="translate(345.2,320.04) scale(1,1.18)" font-size="7.6" text-anchor="end" fill="#222">40</text>
<line x1="348.4" y1="306.2" x2="350.1" y2="306.2" stroke="#3a3a3a" stroke-width="1.05" />
<line x1="346.9" y1="295.36" x2="350.1" y2="295.36" stroke="#3a3a3a" stroke-width="1.05" />
<text transform="translate(345.2,298.36) scale(1,1.18)" font-size="7.6" text-anchor="end" fill="#222">60</text>
<line x1="348.4" y1="284.52" x2="350.1" y2="284.52" stroke="#3a3a3a" stroke-width="1.05" />
<line x1="346.9" y1="273.68" x2="350.1" y2="273.68" stroke="#3a3a3a" stroke-width="1.05" />
<text transform="translate(345.2,276.68) scale(1,1.18)" font-size="7.6" text-anchor="end" fill="#222">80</text>
<line x1="348.4" y1="262.84" x2="350.1" y2="262.84" stroke="#3a3a3a" stroke-width="1.05" />
<line x1="346.9" y1="252" x2="350.1" y2="252" stroke="#3a3a3a" stroke-width="1.05" />
<text transform="translate(345.2,255) scale(1,1.18)" font-size="7.6" text-anchor="end" fill="#222">100</text>
<line x1="348.4" y1="241.16" x2="350.1" y2="241.16" stroke="#3a3a3a" stroke-width="1.05" />
<line x1="346.9" y1="230.32" x2="350.1" y2="230.32" stroke="#3a3a3a" stroke-width="1.05" />
<text transform="translate(345.2,233.32) scale(1,1.18)" font-size="7.6" text-anchor="end" fill="#222">120</text>
<line x1="348.4" y1="219.48" x2="350.1" y2="219.48" stroke="#3a3a3a" stroke-width="1.05" />
<line x1="346.9" y1="208.64" x2="350.1" y2="208.64" stroke="#3a3a3a" stroke-width="1.05" />
<text transform="translate(345.2,211.64) scale(1,1.18)" font-size="7.6" text-anchor="end" fill="#222">140</text>
<line x1="349.6" y1="360.4" x2="545" y2="360.4" stroke="#3a3a3a" stroke-width="1.05" />
<line x1="350.1" y1="360.4" x2="350.1" y2="363.4" stroke="#3a3a3a" stroke-width="1.05" />
<text transform="translate(350.1,371.9) scale(1,1.2)" font-size="7.2" text-anchor="middle" fill="#222">0</text>
<line x1="365.1" y1="360.4" x2="365.1" y2="362.2" stroke="#3a3a3a" stroke-width="1.05" />
<line x1="380.1" y1="360.4" x2="380.1" y2="363.4" stroke="#3a3a3a" stroke-width="1.05" />
<text transform="translate(380.1,371.9) scale(1,1.2)" font-size="7.2" text-anchor="middle" fill="#222">2</text>
<line x1="395.1" y1="360.4" x2="395.1" y2="362.2" stroke="#3a3a3a" stroke-width="1.05" />
<line x1="410.1" y1="360.4" x2="410.1" y2="363.4" stroke="#3a3a3a" stroke-width="1.05" />
<text transform="translate(410.1,371.9) scale(1,1.2)" font-size="7.2" text-anchor="middle" fill="#222">4</text>
<line x1="425.1" y1="360.4" x2="425.1" y2="362.2" stroke="#3a3a3a" stroke-width="1.05" />
<line x1="440.1" y1="360.4" x2="440.1" y2="363.4" stroke="#3a3a3a" stroke-width="1.05" />
<text transform="translate(440.1,371.9) scale(1,1.2)" font-size="7.2" text-anchor="middle" fill="#222">6</text>
<line x1="455.1" y1="360.4" x2="455.1" y2="362.2" stroke="#3a3a3a" stroke-width="1.05" />
<line x1="470.1" y1="360.4" x2="470.1" y2="363.4" stroke="#3a3a3a" stroke-width="1.05" />
<text transform="translate(470.1,371.9) scale(1,1.2)" font-size="7.2" text-anchor="middle" fill="#222">8</text>
<line x1="485.1" y1="360.4" x2="485.1" y2="362.2" stroke="#3a3a3a" stroke-width="1.05" />
<line x1="500.1" y1="360.4" x2="500.1" y2="363.4" stroke="#3a3a3a" stroke-width="1.05" />
<text transform="translate(500.1,371.9) scale(1,1.2)" font-size="7.2" text-anchor="middle" fill="#222">10</text>
<line x1="515.1" y1="360.4" x2="515.1" y2="362.2" stroke="#3a3a3a" stroke-width="1.05" />
<line x1="530.1" y1="360.4" x2="530.1" y2="363.4" stroke="#3a3a3a" stroke-width="1.05" />
<text transform="translate(530.1,371.9) scale(1,1.2)" font-size="7.2" text-anchor="middle" fill="#222">12</text>
<line x1="545.1" y1="360.4" x2="545.1" y2="362.2" stroke="#3a3a3a" stroke-width="1.05" />
<text x="447.5" y="383.8" font-size="9.2" text-anchor="middle" fill="#222" >Month</text>
<text transform="translate(329.1,283.5) rotate(-90)" font-size="9.45" text-anchor="middle" fill="#222">Turbidity (NTU)</text>
<text x="439.61" y="214.27" font-size="7.2" text-anchor="start" fill="#444" style="stroke-width:0.1px">(</text>
<text x="453.29" y="214.27" font-size="7.2" text-anchor="end" fill="#444" style="stroke-width:0.1px">)</text>
<text x="446" y="215.5" font-size="8.3" text-anchor="middle" fill="#333" font-weight="bold">d</text>
<rect x="507.6" y="205.6" width="34.8" height="70.5" fill="#fff" stroke="#999" stroke-width="0.7"/>
<line x1="508.2" y1="209.9" x2="522.8" y2="209.9" stroke="#8a8a8a" stroke-width="1.2" />
<text x="524.3" y="212.3" font-size="6.4" text-anchor="start" fill="#222" font-weight="bold" style="stroke:none">YLLY</text>
<line x1="508.2" y1="217.73" x2="522.8" y2="217.73" stroke="#e0607a" stroke-width="1.2" />
<text x="524.3" y="220.13" font-size="6.4" text-anchor="start" fill="#222" font-weight="bold" style="stroke:none">MJLY</text>
<line x1="508.2" y1="225.56" x2="522.8" y2="225.56" stroke="#4f86d6" stroke-width="1.2" />
<text x="524.3" y="227.96" font-size="6.4" text-anchor="start" fill="#222" font-weight="bold" style="stroke:none">JLLY</text>
<line x1="508.2" y1="233.39" x2="522.8" y2="233.39" stroke="#3fb08a" stroke-width="1.2" />
<text x="524.3" y="235.79" font-size="6.4" text-anchor="start" fill="#222" font-weight="bold" style="stroke:none">HJLY</text>
<line x1="508.2" y1="241.22" x2="522.8" y2="241.22" stroke="#c79ae6" stroke-width="1.2" />
<text x="524.3" y="243.62" font-size="6.4" text-anchor="start" fill="#222" font-weight="bold" style="stroke:none">WJLY</text>
<line x1="508.2" y1="249.05" x2="522.8" y2="249.05" stroke="#d7b450" stroke-width="1.2" />
<text x="524.3" y="251.45" font-size="6.4" text-anchor="start" fill="#222" font-weight="bold" style="stroke:none">DTLY</text>
<line x1="508.2" y1="256.88" x2="522.8" y2="256.88" stroke="#2fcfcf" stroke-width="1.2" />
<text x="524.3" y="259.28" font-size="6.4" text-anchor="start" fill="#222" font-weight="bold" style="stroke:none">PYLY</text>
<line x1="508.2" y1="264.71" x2="522.8" y2="264.71" stroke="#8a7470" stroke-width="1.2" />
<text x="524.3" y="267.11" font-size="6.4" text-anchor="start" fill="#222" font-weight="bold" style="stroke:none">THLY</text>
<line x1="508.2" y1="272.54" x2="522.8" y2="272.54" stroke="#a9a030" stroke-width="1.2" />
<text x="524.3" y="274.94" font-size="6.4" text-anchor="start" fill="#222" font-weight="bold" style="stroke:none">CGLY</text>
</svg>
</body></html>
